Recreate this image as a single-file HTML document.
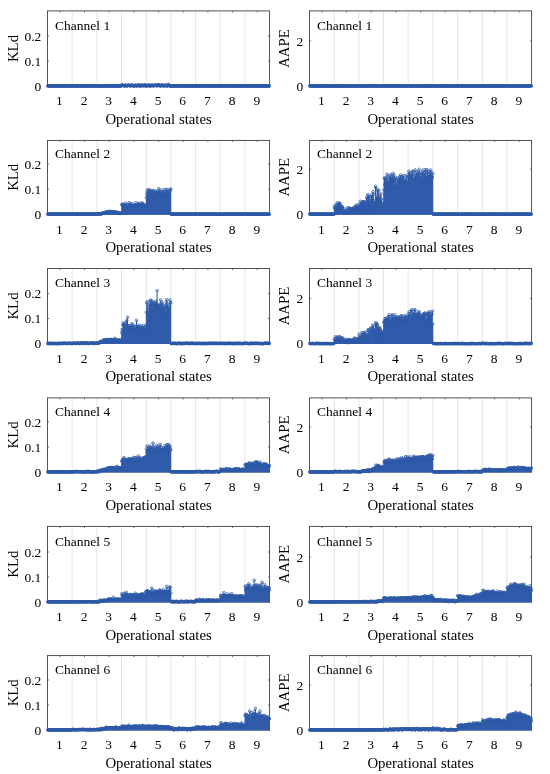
<!DOCTYPE html>
<html lang="en">
<head>
<meta charset="utf-8">
<title>KLd and AAPE per channel over operational states</title>
<style>
html,body{margin:0;padding:0;background:#fff;}
body{width:550px;height:774px;overflow:hidden;}
svg{display:block;}
text{font-family:"Liberation Serif","Times New Roman",serif;}
.t{font-size:13.5px;}
.l{font-size:14.8px;}
</style>
</head>
<body>
<svg width="550" height="774" viewBox="0 0 550 774">
<defs><marker id="m" markerWidth="4" markerHeight="4" refX="2" refY="2" markerUnits="userSpaceOnUse"><circle cx="2" cy="2" r="1.35" fill="none" stroke="#2F5BAA" stroke-width="0.75"/></marker></defs>
<rect width="550" height="774" fill="#fff"/>
<g><path d="M72.2 10.9V86M96.9 10.9V86M121.5 10.9V86M146.2 10.9V86M170.9 10.9V86M195.6 10.9V86M220.2 10.9V86M244.9 10.9V86" stroke="#e2e2e2" stroke-width="0.9" fill="none"/>
<rect x="47.5" y="10.9" width="222.1" height="75.1" fill="none" stroke="#404040" stroke-width="0.9"/>
<path d="M59.8 10.9v1.6M59.8 86v-1.6M84.5 10.9v1.6M84.5 86v-1.6M109.2 10.9v1.6M109.2 86v-1.6M133.9 10.9v1.6M133.9 86v-1.6M158.6 10.9v1.6M158.6 86v-1.6M183.2 10.9v1.6M183.2 86v-1.6M207.9 10.9v1.6M207.9 86v-1.6M232.6 10.9v1.6M232.6 86v-1.6M257.3 10.9v1.6M257.3 86v-1.6M47.5 61h1.6M269.6 61h-1.6M47.5 36h1.6M269.6 36h-1.6" stroke="#404040" stroke-width="0.7" fill="none"/>
<path d="M121.7 86.5V84.9M125.4 86.5V85M131.6 86.5V85M132 86.5V84.9M135.3 86.5V85M139 86.5V84.9M141.5 86.5V84.5M145.2 86.5V84.9M148.5 86.5V84.8M152.2 86.5V84.9M157.9 86.5V84.7M158.3 86.5V84.9M158.8 86.5V84.6M161.6 86.5V84.9M162 86.5V84.9M165.3 86.5V85M165.7 86.5V85M168.2 86.5V84.4" stroke="#2F5BAA" stroke-width="1.1" fill="none"/>
<path d="M47.7 85.9L48.1 86L48.5 86L48.9 86L49.4 86L49.8 86L50.2 86L50.6 86L51 86L51.4 86L51.8 86L52.2 85.9L52.6 86L53.1 86L53.5 85.9L53.9 85.9L54.3 85.9L54.7 86L55.1 85.9L55.5 86L55.9 85.9L56.3 86L56.8 86L57.2 86L57.6 86L58 85.9L58.4 86L58.8 85.9L59.2 85.9L59.6 86L60 86L60.5 86L60.9 86L61.3 86L61.7 85.9L62.1 86L62.5 86L62.9 85.9L63.3 86L63.7 86L64.2 85.9L64.6 85.9L65 86L65.4 85.9L65.8 86L66.2 85.9L66.6 85.9L67 86L67.4 85.9L67.9 86L68.3 86L68.7 85.9L69.1 86L69.5 86L69.9 86L70.3 85.9L70.7 85.9L71.1 85.9L71.6 85.9L72 86L72.4 85.9L72.8 85.9L73.2 85.9L73.6 86L74 85.9L74.4 85.9L74.9 86L75.3 85.9L75.7 86L76.1 85.9L76.5 85.9L76.9 85.9L77.3 85.9L77.7 86L78.1 86L78.6 85.9L79 86L79.4 86L79.8 86L80.2 86L80.6 86L81 85.9L81.4 86L81.8 86L82.3 86L82.7 85.9L83.1 86L83.5 86L83.9 86L84.3 85.9L84.7 85.9L85.1 85.9L85.5 86L86 86L86.4 86L86.8 85.9L87.2 85.9L87.6 86L88 86L88.4 86L88.8 86L89.2 86L89.7 85.9L90.1 86L90.5 86L90.9 86L91.3 86L91.7 85.9L92.1 85.9L92.5 85.9L92.9 86L93.4 85.9L93.8 85.9L94.2 86L94.6 85.9L95 85.9L95.4 85.9L95.8 85.9L96.2 86L96.6 86L97.1 86L97.5 85.9L97.9 86L98.3 86L98.7 86L99.1 86L99.5 86L99.9 86L100.4 86L100.8 86L101.2 86L101.6 86L102 86L102.4 85.9L102.8 85.9L103.2 86L103.6 86L104.1 86L104.5 86L104.9 86L105.3 85.9L105.7 85.9L106.1 85.9L106.5 85.9L106.9 86L107.3 86L107.8 86L108.2 86L108.6 85.9L109 86L109.4 86L109.8 85.9L110.2 85.9L110.6 86L111 85.9L111.5 86L111.9 85.9L112.3 85.9L112.7 85.9L113.1 85.9L113.5 86L113.9 86L114.3 86L114.7 85.9L115.2 85.9L115.6 85.9L116 86L116.4 86L116.8 85.9L117.2 85.9L117.6 85.9L118 85.9L118.4 85.9L118.9 85.9L119.3 86L119.7 85.9L120.1 86L120.5 86L120.9 86L121.3 86L121.7 84.9L122.2 85L122.6 85.1L123 85.4L123.4 85.5L123.8 85.7L124.2 85.8L124.6 85.8L125 85.8L125.4 85L125.9 85.1L126.3 85.6L126.7 85.7L127.1 85.7L127.5 85.9L127.9 85.4L128.3 85.1L128.7 85.3L129.1 85.3L129.6 85.5L130 85.9L130.4 85.7L130.8 85.8L131.2 85.3L131.6 85L132 84.9L132.4 85.4L132.8 85.9L133.3 85.9L133.7 85.9L134.1 85.5L134.5 85.5L134.9 85.9L135.3 85L135.7 85.3L136.1 85.6L136.5 85.9L137 86L137.4 85.2L137.8 85.5L138.2 85.6L138.6 85.1L139 84.9L139.4 85.8L139.8 85.9L140.2 85.9L140.7 85.8L141.1 85.4L141.5 84.5L141.9 85.7L142.3 85.6L142.7 85.4L143.1 85.3L143.5 85.8L143.9 85.6L144.4 85.6L144.8 85L145.2 84.9L145.6 85.8L146 86L146.4 85.4L146.8 85.9L147.2 85.7L147.7 85.6L148.1 85.5L148.5 84.8L148.9 85L149.3 85.9L149.7 85.7L150.1 85.9L150.5 85.8L150.9 85.4L151.4 85.6L151.8 85.5L152.2 84.9L152.6 85.1L153 85.7L153.4 85.8L153.8 85.6L154.2 85.6L154.6 85L155.1 85.5L155.5 85.2L155.9 85.4L156.3 85.2L156.7 85.4L157.1 85.9L157.5 85.7L157.9 84.7L158.3 84.9L158.8 84.6L159.2 85.5L159.6 85.4L160 85.9L160.4 85.5L160.8 85.6L161.2 85.9L161.6 84.9L162 84.9L162.5 85.6L162.9 85.7L163.3 85.5L163.7 85.4L164.1 85.9L164.5 85.6L164.9 85.5L165.3 85L165.7 85L166.2 86L166.6 85.8L167 85.8L167.4 86L167.8 85L168.2 84.4L168.6 85.3L169 85.2L169.4 85.9L169.9 85.8L170.3 86L170.7 85.6L171.1 86L171.5 86L171.9 85.9L172.3 85.9L172.7 85.9L173.2 86L173.6 86L174 85.9L174.4 85.9L174.8 85.9L175.2 86L175.6 86L176 85.9L176.4 85.9L176.9 86L177.3 85.9L177.7 85.9L178.1 85.9L178.5 86L178.9 85.9L179.3 86L179.7 85.9L180.1 85.9L180.6 86L181 85.9L181.4 85.9L181.8 86L182.2 86L182.6 85.9L183 86L183.4 86L183.8 86L184.3 86L184.7 86L185.1 86L185.5 86L185.9 85.9L186.3 86L186.7 85.9L187.1 86L187.5 86L188 86L188.4 86L188.8 86L189.2 85.9L189.6 85.9L190 86L190.4 85.9L190.8 85.9L191.2 86L191.7 85.9L192.1 85.9L192.5 85.9L192.9 85.9L193.3 86L193.7 85.9L194.1 85.9L194.5 85.9L194.9 86L195.4 85.9L195.8 85.9L196.2 85.9L196.6 86L197 86L197.4 86L197.8 86L198.2 86L198.7 85.9L199.1 86L199.5 86L199.9 86L200.3 85.9L200.7 85.9L201.1 85.9L201.5 86L201.9 86L202.4 86L202.8 86L203.2 86L203.6 86L204 86L204.4 85.9L204.8 85.9L205.2 86L205.6 86L206.1 85.9L206.5 86L206.9 86L207.3 86L207.7 86L208.1 86L208.5 86L208.9 86L209.3 86L209.8 86L210.2 86L210.6 86L211 86L211.4 86L211.8 86L212.2 86L212.6 86L213 85.9L213.5 86L213.9 85.9L214.3 85.9L214.7 85.9L215.1 85.9L215.5 86L215.9 86L216.3 85.9L216.7 86L217.2 85.9L217.6 85.9L218 86L218.4 85.9L218.8 85.9L219.2 85.9L219.6 85.9L220 85.9L220.5 86L220.9 86L221.3 86L221.7 85.9L222.1 85.9L222.5 85.9L222.9 85.9L223.3 85.9L223.7 85.9L224.2 85.9L224.6 86L225 86L225.4 86L225.8 86L226.2 86L226.6 85.9L227 85.9L227.4 85.9L227.9 85.9L228.3 85.9L228.7 86L229.1 86L229.5 85.9L229.9 85.9L230.3 86L230.7 86L231.1 85.9L231.6 86L232 85.9L232.4 86L232.8 86L233.2 86L233.6 85.9L234 86L234.4 85.9L234.8 85.9L235.3 86L235.7 86L236.1 86L236.5 85.9L236.9 85.9L237.3 85.9L237.7 85.9L238.1 86L238.5 86L239 86L239.4 85.9L239.8 86L240.2 85.9L240.6 86L241 86L241.4 86L241.8 85.9L242.2 85.9L242.7 85.9L243.1 86L243.5 86L243.9 86L244.3 86L244.7 86L245.1 85.9L245.5 86L246 85.9L246.4 85.9L246.8 86L247.2 86L247.6 85.9L248 85.9L248.4 86L248.8 86L249.2 86L249.7 85.9L250.1 86L250.5 85.9L250.9 86L251.3 86L251.7 85.9L252.1 86L252.5 85.9L252.9 86L253.4 85.9L253.8 85.9L254.2 86L254.6 85.9L255 86L255.4 86L255.8 86L256.2 86L256.6 86L257.1 86L257.5 86L257.9 86L258.3 86L258.7 85.9L259.1 86L259.5 85.9L259.9 85.9L260.3 86L260.8 85.9L261.2 85.9L261.6 85.9L262 86L262.4 86L262.8 86L263.2 85.9L263.6 85.9L264 86L264.5 86L264.9 86L265.3 86L265.7 86L266.1 85.9L266.5 86L266.9 85.9L267.3 86L267.7 86L268.2 86L268.6 86L269 86L269.4 85.9" fill="none" stroke="none" marker-start="url(#m)" marker-mid="url(#m)" marker-end="url(#m)"/></g>
<g><path d="M334.2 10.9V86M358.9 10.9V86M383.5 10.9V86M408.2 10.9V86M432.9 10.9V86M457.6 10.9V86M482.2 10.9V86M506.9 10.9V86" stroke="#e2e2e2" stroke-width="0.9" fill="none"/>
<rect x="309.5" y="10.9" width="222.1" height="75.1" fill="none" stroke="#404040" stroke-width="0.9"/>
<path d="M321.8 10.9v1.6M321.8 86v-1.6M346.5 10.9v1.6M346.5 86v-1.6M371.2 10.9v1.6M371.2 86v-1.6M395.9 10.9v1.6M395.9 86v-1.6M420.6 10.9v1.6M420.6 86v-1.6M445.2 10.9v1.6M445.2 86v-1.6M469.9 10.9v1.6M469.9 86v-1.6M494.6 10.9v1.6M494.6 86v-1.6M519.3 10.9v1.6M519.3 86v-1.6M309.5 41h1.6M531.6 41h-1.6" stroke="#404040" stroke-width="0.7" fill="none"/>
<path d="" stroke="#2F5BAA" stroke-width="1.1" fill="none"/>
<path d="M309.7 86L310.1 85.9L310.5 85.9L310.9 86L311.4 86L311.8 86L312.2 86L312.6 86L313 86L313.4 86L313.8 86L314.2 86L314.6 85.9L315.1 86L315.5 86L315.9 86L316.3 86L316.7 86L317.1 85.9L317.5 86L317.9 86L318.3 86L318.8 86L319.2 86L319.6 86L320 86L320.4 86L320.8 85.9L321.2 86L321.6 86L322 85.9L322.5 85.9L322.9 86L323.3 86L323.7 86L324.1 86L324.5 86L324.9 86L325.3 86L325.7 86L326.2 86L326.6 85.9L327 86L327.4 86L327.8 86L328.2 86L328.6 86L329 86L329.4 86L329.9 86L330.3 85.9L330.7 86L331.1 86L331.5 86L331.9 85.9L332.3 86L332.7 86L333.1 86L333.6 86L334 86L334.4 85.9L334.8 85.9L335.2 85.9L335.6 86L336 86L336.4 86L336.9 85.9L337.3 86L337.7 86L338.1 86L338.5 86L338.9 85.9L339.3 86L339.7 85.9L340.1 85.9L340.6 86L341 86L341.4 86L341.8 86L342.2 86L342.6 85.9L343 86L343.4 86L343.8 86L344.3 86L344.7 86L345.1 86L345.5 86L345.9 86L346.3 85.9L346.7 86L347.1 86L347.5 86L348 86L348.4 86L348.8 86L349.2 86L349.6 86L350 86L350.4 86L350.8 86L351.2 86L351.7 86L352.1 86L352.5 86L352.9 86L353.3 85.9L353.7 86L354.1 85.9L354.5 86L354.9 86L355.4 86L355.8 85.9L356.2 86L356.6 86L357 86L357.4 86L357.8 86L358.2 86L358.6 86L359.1 86L359.5 85.9L359.9 86L360.3 86L360.7 86L361.1 86L361.5 86L361.9 86L362.4 86L362.8 86L363.2 86L363.6 86L364 85.9L364.4 86L364.8 86L365.2 86L365.6 86L366.1 86L366.5 86L366.9 85.9L367.3 86L367.7 86L368.1 86L368.5 86L368.9 86L369.3 85.9L369.8 86L370.2 86L370.6 86L371 85.9L371.4 86L371.8 86L372.2 86L372.6 86L373 85.9L373.5 85.9L373.9 86L374.3 85.9L374.7 85.9L375.1 86L375.5 86L375.9 85.9L376.3 86L376.7 86L377.2 86L377.6 86L378 86L378.4 86L378.8 86L379.2 86L379.6 86L380 86L380.4 85.9L380.9 86L381.3 85.9L381.7 86L382.1 86L382.5 86L382.9 86L383.3 86L383.7 86L384.2 86L384.6 86L385 85.9L385.4 86L385.8 86L386.2 85.9L386.6 86L387 86L387.4 86L387.9 86L388.3 86L388.7 86L389.1 86L389.5 85.9L389.9 86L390.3 86L390.7 85.9L391.1 86L391.6 86L392 85.9L392.4 86L392.8 86L393.2 86L393.6 86L394 86L394.4 86L394.8 86L395.3 85.9L395.7 86L396.1 85.9L396.5 86L396.9 86L397.3 86L397.7 85.9L398.1 85.9L398.5 86L399 86L399.4 86L399.8 86L400.2 85.9L400.6 86L401 86L401.4 86L401.8 86L402.2 86L402.7 86L403.1 86L403.5 86L403.9 86L404.3 86L404.7 86L405.1 86L405.5 86L405.9 86L406.4 86L406.8 86L407.2 86L407.6 86L408 85.9L408.4 85.9L408.8 85.9L409.2 86L409.7 86L410.1 86L410.5 86L410.9 86L411.3 86L411.7 86L412.1 86L412.5 86L412.9 86L413.4 86L413.8 85.9L414.2 86L414.6 86L415 85.9L415.4 86L415.8 86L416.2 86L416.6 86L417.1 86L417.5 86L417.9 86L418.3 86L418.7 85.9L419.1 86L419.5 86L419.9 86L420.3 85.9L420.8 86L421.2 86L421.6 86L422 86L422.4 85.9L422.8 86L423.2 86L423.6 86L424 85.9L424.5 85.9L424.9 86L425.3 86L425.7 86L426.1 86L426.5 85.9L426.9 86L427.3 85.9L427.7 86L428.2 85.9L428.6 86L429 86L429.4 86L429.8 85.9L430.2 86L430.6 86L431 86L431.4 86L431.9 86L432.3 86L432.7 86L433.1 86L433.5 86L433.9 86L434.3 86L434.7 86L435.2 86L435.6 86L436 86L436.4 86L436.8 86L437.2 86L437.6 86L438 86L438.4 86L438.9 86L439.3 86L439.7 86L440.1 86L440.5 86L440.9 86L441.3 86L441.7 86L442.1 86L442.6 85.9L443 86L443.4 86L443.8 86L444.2 86L444.6 85.9L445 85.9L445.4 86L445.8 86L446.3 86L446.7 86L447.1 86L447.5 85.9L447.9 86L448.3 86L448.7 86L449.1 85.9L449.5 86L450 86L450.4 86L450.8 86L451.2 86L451.6 85.9L452 86L452.4 86L452.8 86L453.2 86L453.7 86L454.1 86L454.5 86L454.9 85.9L455.3 86L455.7 86L456.1 86L456.5 85.9L456.9 86L457.4 86L457.8 85.9L458.2 85.9L458.6 86L459 86L459.4 85.9L459.8 86L460.2 85.9L460.7 86L461.1 86L461.5 86L461.9 86L462.3 86L462.7 86L463.1 85.9L463.5 86L463.9 86L464.4 86L464.8 86L465.2 86L465.6 86L466 86L466.4 86L466.8 86L467.2 85.9L467.6 86L468.1 86L468.5 86L468.9 86L469.3 85.9L469.7 86L470.1 86L470.5 86L470.9 86L471.3 86L471.8 86L472.2 86L472.6 86L473 86L473.4 86L473.8 86L474.2 86L474.6 86L475 86L475.5 86L475.9 86L476.3 86L476.7 86L477.1 86L477.5 86L477.9 86L478.3 86L478.7 86L479.2 86L479.6 86L480 86L480.4 86L480.8 86L481.2 86L481.6 86L482 86L482.5 86L482.9 86L483.3 86L483.7 86L484.1 85.9L484.5 86L484.9 85.9L485.3 85.9L485.7 86L486.2 86L486.6 86L487 85.9L487.4 86L487.8 85.9L488.2 85.9L488.6 86L489 86L489.4 85.9L489.9 86L490.3 86L490.7 86L491.1 86L491.5 85.9L491.9 86L492.3 86L492.7 86L493.1 86L493.6 85.9L494 86L494.4 86L494.8 86L495.2 86L495.6 86L496 86L496.4 86L496.8 85.9L497.3 86L497.7 85.9L498.1 86L498.5 86L498.9 86L499.3 86L499.7 86L500.1 86L500.5 85.9L501 86L501.4 86L501.8 85.9L502.2 86L502.6 85.9L503 86L503.4 86L503.8 86L504.2 86L504.7 85.9L505.1 86L505.5 86L505.9 86L506.3 86L506.7 86L507.1 86L507.5 86L508 86L508.4 86L508.8 86L509.2 85.9L509.6 86L510 86L510.4 86L510.8 86L511.2 86L511.7 86L512.1 86L512.5 86L512.9 86L513.3 85.9L513.7 86L514.1 86L514.5 86L514.9 86L515.4 86L515.8 86L516.2 86L516.6 86L517 86L517.4 86L517.8 86L518.2 86L518.6 86L519.1 86L519.5 86L519.9 85.9L520.3 86L520.7 86L521.1 86L521.5 86L521.9 85.9L522.3 86L522.8 86L523.2 86L523.6 86L524 86L524.4 86L524.8 86L525.2 86L525.6 86L526 85.9L526.5 86L526.9 86L527.3 85.9L527.7 86L528.1 86L528.5 86L528.9 86L529.3 86L529.7 86L530.2 86L530.6 86L531 85.9L531.4 86" fill="none" stroke="none" marker-start="url(#m)" marker-mid="url(#m)" marker-end="url(#m)"/></g>
<g><path d="M72.2 140.4V214.2M96.9 140.4V214.2M121.5 140.4V214.2M146.2 140.4V214.2M170.9 140.4V214.2M195.6 140.4V214.2M220.2 140.4V214.2M244.9 140.4V214.2" stroke="#e2e2e2" stroke-width="0.9" fill="none"/>
<rect x="47.5" y="140.4" width="222.1" height="73.8" fill="none" stroke="#404040" stroke-width="0.9"/>
<path d="M59.8 140.4v1.6M59.8 214.2v-1.6M84.5 140.4v1.6M84.5 214.2v-1.6M109.2 140.4v1.6M109.2 214.2v-1.6M133.9 140.4v1.6M133.9 214.2v-1.6M158.6 140.4v1.6M158.6 214.2v-1.6M183.2 140.4v1.6M183.2 214.2v-1.6M207.9 140.4v1.6M207.9 214.2v-1.6M232.6 140.4v1.6M232.6 214.2v-1.6M257.3 140.4v1.6M257.3 214.2v-1.6M47.5 189.2h1.6M269.6 189.2h-1.6M47.5 164.2h1.6M269.6 164.2h-1.6" stroke="#404040" stroke-width="0.7" fill="none"/>
<path d="M102.4 214.7V213M102.8 214.7V213.1M103.2 214.7V213.1M103.6 214.7V212.6M104.1 214.7V213.2M104.5 214.7V213.1M104.9 214.7V213.1M105.3 214.7V212.8M105.7 214.7V212.2M106.1 214.7V211.8M106.5 214.7V212.2M106.9 214.7V213M107.3 214.7V212.5M107.8 214.7V212.2M108.2 214.7V211.9M108.6 214.7V212.4M109 214.7V211.7M109.4 214.7V211.5M109.8 214.7V211.3M110.2 214.7V212M110.6 214.7V212.4M111 214.7V212.3M111.5 214.7V211.9M111.9 214.7V212M112.3 214.7V211.5M112.7 214.7V212.1M113.1 214.7V212.1M113.5 214.7V212M113.9 214.7V211.8M114.3 214.7V212.4M114.7 214.7V213M115.2 214.7V212.2M115.6 214.7V211.7M116 214.7V212.6M116.4 214.7V212.8M116.8 214.7V212.7M117.2 214.7V213M117.6 214.7V212.4M118.4 214.7V213.1M118.9 214.7V212.9M119.3 214.7V212.6M119.7 214.7V212.7M121.7 214.7V204.6M122.2 214.7V204.6M122.6 214.7V204.2M123 214.7V205.7M123.4 214.7V206M123.8 214.7V205.2M124.2 214.7V205.6M124.6 214.7V204.7M125 214.7V205.2M125.4 214.7V203.2M125.9 214.7V205.4M126.3 214.7V206.2M126.7 214.7V205.5M127.1 214.7V205.3M127.5 214.7V206.7M127.9 214.7V204.9M128.3 214.7V207.2M128.7 214.7V205.6M129.1 214.7V202.5M129.6 214.7V205.7M130 214.7V205.4M130.4 214.7V203.8M130.8 214.7V206.3M131.2 214.7V205.5M131.6 214.7V204.8M132 214.7V206.4M132.4 214.7V203.9M132.8 214.7V206.4M133.3 214.7V206M133.7 214.7V206.5M134.1 214.7V206.3M134.5 214.7V204.5M134.9 214.7V205.4M135.3 214.7V205.8M135.7 214.7V205.1M136.1 214.7V202.7M136.5 214.7V205.7M137 214.7V206.7M137.4 214.7V204.9M137.8 214.7V203.9M138.2 214.7V204.1M138.6 214.7V204.8M139 214.7V205.9M139.4 214.7V205M139.8 214.7V203.1M140.2 214.7V205.4M140.7 214.7V204.7M141.1 214.7V205.5M141.5 214.7V204.5M141.9 214.7V203.6M142.3 214.7V202.9M142.7 214.7V204.6M143.1 214.7V204.8M143.5 214.7V205.1M143.9 214.7V205.8M144.4 214.7V207M144.8 214.7V205.9M145.2 214.7V206.9M145.6 214.7V204.3M146 214.7V205.8M146.4 214.7V197.3M146.8 214.7V194.1M147.2 214.7V191.6M147.7 214.7V189.6M148.1 214.7V192.8M148.5 214.7V193.6M148.9 214.7V190.5M149.3 214.7V190.2M149.7 214.7V194.9M150.1 214.7V192.7M150.5 214.7V190.4M150.9 214.7V195.7M151.4 214.7V195.2M151.8 214.7V190.6M152.2 214.7V194.9M152.6 214.7V199.2M153 214.7V191.2M153.4 214.7V191M153.8 214.7V194.6M154.2 214.7V197.2M154.6 214.7V197M155.1 214.7V191M155.5 214.7V193.5M155.9 214.7V192M156.3 214.7V192.5M156.7 214.7V194.2M157.1 214.7V200.3M157.5 214.7V191.1M157.9 214.7V192.3M158.3 214.7V193.3M158.8 214.7V188.5M159.2 214.7V194.3M159.6 214.7V191.2M160 214.7V190.4M160.4 214.7V195.7M160.8 214.7V193.2M161.2 214.7V194.4M161.6 214.7V192.8M162 214.7V191.9M162.5 214.7V194.7M162.9 214.7V191.9M163.3 214.7V189.7M163.7 214.7V197.1M164.1 214.7V192.9M164.5 214.7V195.1M164.9 214.7V194.7M165.3 214.7V189.8M165.7 214.7V193.3M166.2 214.7V195.2M166.6 214.7V189.4M167 214.7V192.4M167.4 214.7V191.6M167.8 214.7V190.2M168.2 214.7V192.3M168.6 214.7V199.1M169 214.7V193.5M169.4 214.7V194.6M169.9 214.7V190.7M170.3 214.7V189.4M170.7 214.7V189.1" stroke="#2F5BAA" stroke-width="1.1" fill="none"/>
<path d="M47.7 214.1L48.1 214.1L48.5 214.1L48.9 214.2L49.4 214.2L49.8 214.2L50.2 214.2L50.6 214.1L51 214.1L51.4 214.1L51.8 214.2L52.2 214.1L52.6 214.1L53.1 214.1L53.5 214.1L53.9 214.1L54.3 214.2L54.7 214.2L55.1 214.2L55.5 214.2L55.9 214.2L56.3 214.1L56.8 214.1L57.2 214.1L57.6 214.1L58 214.2L58.4 214.1L58.8 214.1L59.2 214.1L59.6 214.1L60 214.2L60.5 214.1L60.9 214.1L61.3 214.2L61.7 214.1L62.1 214.2L62.5 214.2L62.9 214.2L63.3 214.1L63.7 214.1L64.2 214.1L64.6 214.2L65 214.1L65.4 214.2L65.8 214.2L66.2 214.1L66.6 214.1L67 214.1L67.4 214.1L67.9 214.1L68.3 214.1L68.7 214.1L69.1 214.1L69.5 214.1L69.9 214.1L70.3 214.1L70.7 214.1L71.1 214.2L71.6 214.2L72 214.1L72.4 214.2L72.8 214L73.2 214.2L73.6 214.2L74 214.2L74.4 214L74.9 214.1L75.3 214.2L75.7 214.2L76.1 214.2L76.5 214L76.9 214L77.3 214L77.7 214L78.1 214.2L78.6 214.1L79 214.1L79.4 214L79.8 214L80.2 214L80.6 214.2L81 214L81.4 214L81.8 214L82.3 214.2L82.7 214.2L83.1 214.2L83.5 214.2L83.9 214L84.3 214L84.7 214L85.1 214L85.5 214L86 214.1L86.4 214.2L86.8 214.2L87.2 214L87.6 214.2L88 214.1L88.4 214.1L88.8 214.2L89.2 214.1L89.7 214.1L90.1 214L90.5 214.1L90.9 214.1L91.3 214L91.7 214.1L92.1 214L92.5 214.1L92.9 214.2L93.4 214.1L93.8 214.1L94.2 214L94.6 214.1L95 214L95.4 214.1L95.8 214.1L96.2 214L96.6 214.2L97.1 213.8L97.5 214.1L97.9 214.2L98.3 214.1L98.7 213.8L99.1 213.6L99.5 214.2L99.9 213.9L100.4 213.9L100.8 213.6L101.2 214.1L101.6 213.8L102 213.2L102.4 213L102.8 213.1L103.2 213.1L103.6 212.6L104.1 213.2L104.5 213.1L104.9 213.1L105.3 212.8L105.7 212.2L106.1 211.8L106.5 212.2L106.9 213L107.3 212.5L107.8 212.2L108.2 211.9L108.6 212.4L109 211.7L109.4 211.5L109.8 211.3L110.2 212L110.6 212.4L111 212.3L111.5 211.9L111.9 212L112.3 211.5L112.7 212.1L113.1 212.1L113.5 212L113.9 211.8L114.3 212.4L114.7 213L115.2 212.2L115.6 211.7L116 212.6L116.4 212.8L116.8 212.7L117.2 213L117.6 212.4L118 213.2L118.4 213.1L118.9 212.9L119.3 212.6L119.7 212.7L120.1 213.5L120.5 213.4L120.9 213.3L121.3 213.3L121.7 204.6L122.2 204.6L122.6 204.2L123 205.7L123.4 206L123.8 205.2L124.2 205.6L124.6 204.7L125 205.2L125.4 203.2L125.9 205.4L126.3 206.2L126.7 205.5L127.1 205.3L127.5 206.7L127.9 204.9L128.3 207.2L128.7 205.6L129.1 202.5L129.6 205.7L130 205.4L130.4 203.8L130.8 206.3L131.2 205.5L131.6 204.8L132 206.4L132.4 203.9L132.8 206.4L133.3 206L133.7 206.5L134.1 206.3L134.5 204.5L134.9 205.4L135.3 205.8L135.7 205.1L136.1 202.7L136.5 205.7L137 206.7L137.4 204.9L137.8 203.9L138.2 204.1L138.6 204.8L139 205.9L139.4 205L139.8 203.1L140.2 205.4L140.7 204.7L141.1 205.5L141.5 204.5L141.9 203.6L142.3 202.9L142.7 204.6L143.1 204.8L143.5 205.1L143.9 205.8L144.4 207L144.8 205.9L145.2 206.9L145.6 204.3L146 205.8L146.4 197.3L146.8 194.1L147.2 191.6L147.7 189.6L148.1 192.8L148.5 193.6L148.9 190.5L149.3 190.2L149.7 194.9L150.1 192.7L150.5 190.4L150.9 195.7L151.4 195.2L151.8 190.6L152.2 194.9L152.6 199.2L153 191.2L153.4 191L153.8 194.6L154.2 197.2L154.6 197L155.1 191L155.5 193.5L155.9 192L156.3 192.5L156.7 194.2L157.1 200.3L157.5 191.1L157.9 192.3L158.3 193.3L158.8 188.5L159.2 194.3L159.6 191.2L160 190.4L160.4 195.7L160.8 193.2L161.2 194.4L161.6 192.8L162 191.9L162.5 194.7L162.9 191.9L163.3 189.7L163.7 197.1L164.1 192.9L164.5 195.1L164.9 194.7L165.3 189.8L165.7 193.3L166.2 195.2L166.6 189.4L167 192.4L167.4 191.6L167.8 190.2L168.2 192.3L168.6 199.1L169 193.5L169.4 194.6L169.9 190.7L170.3 189.4L170.7 189.1L171.1 214.2L171.5 214.2L171.9 214.1L172.3 214.2L172.7 214.1L173.2 214.2L173.6 214.2L174 214.1L174.4 214.1L174.8 214.1L175.2 214.1L175.6 214.2L176 214.1L176.4 214.1L176.9 214.2L177.3 214.1L177.7 214.2L178.1 214.1L178.5 214.1L178.9 214.2L179.3 214.2L179.7 214.1L180.1 214.1L180.6 214.2L181 214.2L181.4 214.1L181.8 214.2L182.2 214.1L182.6 214.2L183 214.2L183.4 214.2L183.8 214.1L184.3 214.2L184.7 214.1L185.1 214.2L185.5 214.1L185.9 214.2L186.3 214.1L186.7 214.1L187.1 214.2L187.5 214.2L188 214.1L188.4 214.1L188.8 214.1L189.2 214.1L189.6 214.2L190 214.2L190.4 214.1L190.8 214.1L191.2 214.1L191.7 214.2L192.1 214.1L192.5 214.1L192.9 214.1L193.3 214.1L193.7 214.2L194.1 214.2L194.5 214.1L194.9 214.2L195.4 214.1L195.8 214.1L196.2 214.1L196.6 214.1L197 214.2L197.4 214.2L197.8 214.2L198.2 214.2L198.7 214.1L199.1 214.1L199.5 214.1L199.9 214.2L200.3 214.1L200.7 214.1L201.1 214.1L201.5 214.1L201.9 214.2L202.4 214.1L202.8 214.1L203.2 214.1L203.6 214.1L204 214.2L204.4 214.2L204.8 214.2L205.2 214.1L205.6 214.2L206.1 214.1L206.5 214.1L206.9 214.2L207.3 214.1L207.7 214.1L208.1 214.2L208.5 214.2L208.9 214.2L209.3 214.1L209.8 214.1L210.2 214.2L210.6 214.2L211 214.1L211.4 214.1L211.8 214.2L212.2 214.1L212.6 214.1L213 214.1L213.5 214.2L213.9 214.2L214.3 214.1L214.7 214.2L215.1 214.2L215.5 214.2L215.9 214.1L216.3 214.2L216.7 214.1L217.2 214.2L217.6 214.2L218 214.2L218.4 214.2L218.8 214.1L219.2 214.2L219.6 214.2L220 214.1L220.5 214.1L220.9 214.2L221.3 214.1L221.7 214.2L222.1 214.2L222.5 214.2L222.9 214.2L223.3 214.1L223.7 214.1L224.2 214.2L224.6 214.1L225 214.2L225.4 214.1L225.8 214.2L226.2 214.1L226.6 214.1L227 214.1L227.4 214.1L227.9 214.2L228.3 214.2L228.7 214.2L229.1 214.2L229.5 214.2L229.9 214.2L230.3 214.1L230.7 214.1L231.1 214.2L231.6 214.1L232 214.1L232.4 214.2L232.8 214.1L233.2 214.2L233.6 214.2L234 214.1L234.4 214.2L234.8 214.1L235.3 214.1L235.7 214.1L236.1 214.1L236.5 214.2L236.9 214.2L237.3 214.2L237.7 214.1L238.1 214.1L238.5 214.2L239 214.2L239.4 214.2L239.8 214.2L240.2 214.1L240.6 214.1L241 214.1L241.4 214.2L241.8 214.1L242.2 214.1L242.7 214.1L243.1 214.1L243.5 214.2L243.9 214.2L244.3 214.1L244.7 214.1L245.1 214.1L245.5 214.2L246 214.1L246.4 214.1L246.8 214.2L247.2 214.2L247.6 214.2L248 214.2L248.4 214.2L248.8 214.2L249.2 214.2L249.7 214.2L250.1 214.1L250.5 214.2L250.9 214.1L251.3 214.2L251.7 214.2L252.1 214.1L252.5 214.2L252.9 214.1L253.4 214.1L253.8 214.1L254.2 214.2L254.6 214.2L255 214.2L255.4 214.1L255.8 214.1L256.2 214.1L256.6 214.2L257.1 214.2L257.5 214.1L257.9 214.2L258.3 214.1L258.7 214.2L259.1 214.2L259.5 214.2L259.9 214.1L260.3 214.2L260.8 214.2L261.2 214.1L261.6 214.2L262 214.2L262.4 214.2L262.8 214.2L263.2 214.1L263.6 214.2L264 214.2L264.5 214.2L264.9 214.2L265.3 214.1L265.7 214.2L266.1 214.1L266.5 214.2L266.9 214.1L267.3 214.1L267.7 214.2L268.2 214.2L268.6 214.2L269 214.2L269.4 214.2" fill="none" stroke="none" marker-start="url(#m)" marker-mid="url(#m)" marker-end="url(#m)"/></g>
<g><path d="M334.2 140.4V214.2M358.9 140.4V214.2M383.5 140.4V214.2M408.2 140.4V214.2M432.9 140.4V214.2M457.6 140.4V214.2M482.2 140.4V214.2M506.9 140.4V214.2" stroke="#e2e2e2" stroke-width="0.9" fill="none"/>
<rect x="309.5" y="140.4" width="222.1" height="73.8" fill="none" stroke="#404040" stroke-width="0.9"/>
<path d="M321.8 140.4v1.6M321.8 214.2v-1.6M346.5 140.4v1.6M346.5 214.2v-1.6M371.2 140.4v1.6M371.2 214.2v-1.6M395.9 140.4v1.6M395.9 214.2v-1.6M420.6 140.4v1.6M420.6 214.2v-1.6M445.2 140.4v1.6M445.2 214.2v-1.6M469.9 140.4v1.6M469.9 214.2v-1.6M494.6 140.4v1.6M494.6 214.2v-1.6M519.3 140.4v1.6M519.3 214.2v-1.6M309.5 169.2h1.6M531.6 169.2h-1.6" stroke="#404040" stroke-width="0.7" fill="none"/>
<path d="M334.4 214.7V206.3M334.8 214.7V208.2M335.2 214.7V208.3M335.6 214.7V208M336 214.7V204.9M336.4 214.7V205.9M336.9 214.7V209.3M337.3 214.7V202.9M337.7 214.7V211.3M338.1 214.7V204.9M338.5 214.7V206.8M338.9 214.7V203.6M339.3 214.7V203M339.7 214.7V206.8M340.1 214.7V203.6M340.6 214.7V205.9M341 214.7V207.3M341.4 214.7V206.4M341.8 214.7V207M342.2 214.7V206.7M342.6 214.7V208.4M343 214.7V208.4M343.4 214.7V210.3M343.8 214.7V212.5M344.3 214.7V212.8M344.7 214.7V211.3M345.1 214.7V212.9M345.5 214.7V211M345.9 214.7V210.8M346.3 214.7V211.4M346.7 214.7V212.6M347.1 214.7V208.1M347.5 214.7V212.9M348 214.7V210.7M348.4 214.7V210.7M348.8 214.7V208.4M349.2 214.7V207.8M349.6 214.7V208.5M350 214.7V211.8M350.4 214.7V209.5M350.8 214.7V208.5M351.2 214.7V208.7M351.7 214.7V209.5M352.1 214.7V210.2M352.5 214.7V209.1M352.9 214.7V208.6M353.3 214.7V209.4M353.7 214.7V207.6M354.1 214.7V209.9M354.5 214.7V209.6M354.9 214.7V206.9M355.4 214.7V206.2M355.8 214.7V208.2M356.2 214.7V207.7M356.6 214.7V204.7M357 214.7V206.5M357.4 214.7V209.2M357.8 214.7V208.4M358.2 214.7V205.8M358.6 214.7V209.1M359.1 214.7V207.6M359.5 214.7V204.4M359.9 214.7V207.2M360.3 214.7V201.3M360.7 214.7V204.4M361.1 214.7V205.1M361.5 214.7V205.4M361.9 214.7V211M362.4 214.7V201.8M362.8 214.7V202.1M363.2 214.7V205.2M363.6 214.7V201.6M364 214.7V202.2M364.4 214.7V201.7M364.8 214.7V202.4M365.2 214.7V203.6M365.6 214.7V207.4M366.1 214.7V205.9M366.5 214.7V197.2M366.9 214.7V208.1M367.3 214.7V198.7M367.7 214.7V194.5M368.1 214.7V208.3M368.5 214.7V196.1M368.9 214.7V204.9M369.3 214.7V196.5M369.8 214.7V200.9M370.2 214.7V201M370.6 214.7V206.1M371 214.7V196.6M371.4 214.7V200.5M371.8 214.7V194.8M372.2 214.7V197.7M372.6 214.7V199.9M373 214.7V191.7M373.5 214.7V194.2M373.9 214.7V207.8M374.3 214.7V201.1M374.7 214.7V202.7M375.1 214.7V207.9M375.5 214.7V186.3M375.9 214.7V187.8M376.3 214.7V203.5M376.7 214.7V196.4M377.2 214.7V200.5M377.6 214.7V190.1M378 214.7V198.3M378.4 214.7V200.9M378.8 214.7V190.3M379.2 214.7V201M379.6 214.7V202.2M380 214.7V196.2M380.4 214.7V201.9M380.9 214.7V193.8M381.3 214.7V199M381.7 214.7V202.3M382.1 214.7V203.7M382.5 214.7V209.3M382.9 214.7V207.1M383.3 214.7V204.9M383.7 214.7V189.5M384.2 214.7V177.8M384.6 214.7V185.1M385 214.7V178.7M385.4 214.7V183M385.8 214.7V183.3M386.2 214.7V178.4M386.6 214.7V177.8M387 214.7V174.3M387.4 214.7V185.1M387.9 214.7V184.8M388.3 214.7V181.8M388.7 214.7V180.9M389.1 214.7V177.6M389.5 214.7V183.7M389.9 214.7V175.4M390.3 214.7V175.2M390.7 214.7V179M391.1 214.7V180.4M391.6 214.7V177M392 214.7V178.1M392.4 214.7V181.4M392.8 214.7V173.4M393.2 214.7V180M393.6 214.7V180.3M394 214.7V174.8M394.4 214.7V189.2M394.8 214.7V184.1M395.3 214.7V177.5M395.7 214.7V178.9M396.1 214.7V181M396.5 214.7V187M396.9 214.7V187.8M397.3 214.7V185.7M397.7 214.7V177.9M398.1 214.7V182.8M398.5 214.7V181M399 214.7V187.6M399.4 214.7V177M399.8 214.7V179.8M400.2 214.7V180.7M400.6 214.7V175M401 214.7V176.8M401.4 214.7V181.7M401.8 214.7V179.8M402.2 214.7V179.9M402.7 214.7V176.5M403.1 214.7V178.2M403.5 214.7V175.6M403.9 214.7V184M404.3 214.7V181.3M404.7 214.7V182.1M405.1 214.7V180.7M405.5 214.7V181.5M405.9 214.7V179.9M406.4 214.7V177.1M406.8 214.7V175M407.2 214.7V183.4M407.6 214.7V183.3M408 214.7V181.7M408.4 214.7V176.4M408.8 214.7V171.4M409.2 214.7V177.1M409.7 214.7V172.8M410.1 214.7V176.2M410.5 214.7V179.5M410.9 214.7V176.7M411.3 214.7V175.2M411.7 214.7V174.1M412.1 214.7V175M412.5 214.7V171.1M412.9 214.7V172.2M413.4 214.7V178.8M413.8 214.7V179.1M414.2 214.7V182M414.6 214.7V179.3M415 214.7V170M415.4 214.7V175.9M415.8 214.7V175.6M416.2 214.7V177.3M416.6 214.7V172.4M417.1 214.7V184.4M417.5 214.7V173.6M417.9 214.7V175.8M418.3 214.7V171.7M418.7 214.7V174.5M419.1 214.7V169.4M419.5 214.7V177.2M419.9 214.7V177.1M420.3 214.7V183.5M420.8 214.7V173M421.2 214.7V179.2M421.6 214.7V184.5M422 214.7V172.9M422.4 214.7V184.2M422.8 214.7V170.2M423.2 214.7V180M423.6 214.7V179.3M424 214.7V173.1M424.5 214.7V175.8M424.9 214.7V172.7M425.3 214.7V169.5M425.7 214.7V185M426.1 214.7V178.7M426.5 214.7V176M426.9 214.7V169.5M427.3 214.7V179.1M427.7 214.7V171.2M428.2 214.7V182.4M428.6 214.7V174.8M429 214.7V187.6M429.4 214.7V176.4M429.8 214.7V172M430.2 214.7V174.3M430.6 214.7V170M431 214.7V177.6M431.4 214.7V173.4M431.9 214.7V177.4M432.3 214.7V177.2M432.7 214.7V173.3" stroke="#2F5BAA" stroke-width="1.1" fill="none"/>
<path d="M309.7 214.1L310.1 214.1L310.5 214.2L310.9 214.2L311.4 214.1L311.8 214.2L312.2 214.2L312.6 214.2L313 214.1L313.4 214.2L313.8 214.2L314.2 214.2L314.6 214.2L315.1 214.2L315.5 214.2L315.9 214.2L316.3 214.2L316.7 214.2L317.1 214.1L317.5 214.2L317.9 214.2L318.3 214.2L318.8 214.2L319.2 214.2L319.6 214.2L320 214.2L320.4 214.2L320.8 214.2L321.2 214.2L321.6 214.2L322 214.2L322.5 214.2L322.9 214.2L323.3 214.2L323.7 214.2L324.1 214.2L324.5 214.2L324.9 214.2L325.3 214.2L325.7 214.2L326.2 214.2L326.6 214.2L327 214.2L327.4 214.2L327.8 214.1L328.2 214.1L328.6 214.2L329 214.2L329.4 214.1L329.9 214.2L330.3 214.1L330.7 214.2L331.1 214.2L331.5 214.2L331.9 214.2L332.3 214.2L332.7 214.2L333.1 214.2L333.6 214.2L334 214.2L334.4 206.3L334.8 208.2L335.2 208.3L335.6 208L336 204.9L336.4 205.9L336.9 209.3L337.3 202.9L337.7 211.3L338.1 204.9L338.5 206.8L338.9 203.6L339.3 203L339.7 206.8L340.1 203.6L340.6 205.9L341 207.3L341.4 206.4L341.8 207L342.2 206.7L342.6 208.4L343 208.4L343.4 210.3L343.8 212.5L344.3 212.8L344.7 211.3L345.1 212.9L345.5 211L345.9 210.8L346.3 211.4L346.7 212.6L347.1 208.1L347.5 212.9L348 210.7L348.4 210.7L348.8 208.4L349.2 207.8L349.6 208.5L350 211.8L350.4 209.5L350.8 208.5L351.2 208.7L351.7 209.5L352.1 210.2L352.5 209.1L352.9 208.6L353.3 209.4L353.7 207.6L354.1 209.9L354.5 209.6L354.9 206.9L355.4 206.2L355.8 208.2L356.2 207.7L356.6 204.7L357 206.5L357.4 209.2L357.8 208.4L358.2 205.8L358.6 209.1L359.1 207.6L359.5 204.4L359.9 207.2L360.3 201.3L360.7 204.4L361.1 205.1L361.5 205.4L361.9 211L362.4 201.8L362.8 202.1L363.2 205.2L363.6 201.6L364 202.2L364.4 201.7L364.8 202.4L365.2 203.6L365.6 207.4L366.1 205.9L366.5 197.2L366.9 208.1L367.3 198.7L367.7 194.5L368.1 208.3L368.5 196.1L368.9 204.9L369.3 196.5L369.8 200.9L370.2 201L370.6 206.1L371 196.6L371.4 200.5L371.8 194.8L372.2 197.7L372.6 199.9L373 191.7L373.5 194.2L373.9 207.8L374.3 201.1L374.7 202.7L375.1 207.9L375.5 186.3L375.9 187.8L376.3 203.5L376.7 196.4L377.2 200.5L377.6 190.1L378 198.3L378.4 200.9L378.8 190.3L379.2 201L379.6 202.2L380 196.2L380.4 201.9L380.9 193.8L381.3 199L381.7 202.3L382.1 203.7L382.5 209.3L382.9 207.1L383.3 204.9L383.7 189.5L384.2 177.8L384.6 185.1L385 178.7L385.4 183L385.8 183.3L386.2 178.4L386.6 177.8L387 174.3L387.4 185.1L387.9 184.8L388.3 181.8L388.7 180.9L389.1 177.6L389.5 183.7L389.9 175.4L390.3 175.2L390.7 179L391.1 180.4L391.6 177L392 178.1L392.4 181.4L392.8 173.4L393.2 180L393.6 180.3L394 174.8L394.4 189.2L394.8 184.1L395.3 177.5L395.7 178.9L396.1 181L396.5 187L396.9 187.8L397.3 185.7L397.7 177.9L398.1 182.8L398.5 181L399 187.6L399.4 177L399.8 179.8L400.2 180.7L400.6 175L401 176.8L401.4 181.7L401.8 179.8L402.2 179.9L402.7 176.5L403.1 178.2L403.5 175.6L403.9 184L404.3 181.3L404.7 182.1L405.1 180.7L405.5 181.5L405.9 179.9L406.4 177.1L406.8 175L407.2 183.4L407.6 183.3L408 181.7L408.4 176.4L408.8 171.4L409.2 177.1L409.7 172.8L410.1 176.2L410.5 179.5L410.9 176.7L411.3 175.2L411.7 174.1L412.1 175L412.5 171.1L412.9 172.2L413.4 178.8L413.8 179.1L414.2 182L414.6 179.3L415 170L415.4 175.9L415.8 175.6L416.2 177.3L416.6 172.4L417.1 184.4L417.5 173.6L417.9 175.8L418.3 171.7L418.7 174.5L419.1 169.4L419.5 177.2L419.9 177.1L420.3 183.5L420.8 173L421.2 179.2L421.6 184.5L422 172.9L422.4 184.2L422.8 170.2L423.2 180L423.6 179.3L424 173.1L424.5 175.8L424.9 172.7L425.3 169.5L425.7 185L426.1 178.7L426.5 176L426.9 169.5L427.3 179.1L427.7 171.2L428.2 182.4L428.6 174.8L429 187.6L429.4 176.4L429.8 172L430.2 174.3L430.6 170L431 177.6L431.4 173.4L431.9 177.4L432.3 177.2L432.7 173.3L433.1 214.2L433.5 214.2L433.9 214.2L434.3 214.2L434.7 214.2L435.2 214.2L435.6 214.2L436 214.2L436.4 214.2L436.8 214.2L437.2 214.2L437.6 214.2L438 214.2L438.4 214.2L438.9 214.2L439.3 214.2L439.7 214.2L440.1 214.2L440.5 214.2L440.9 214.2L441.3 214.2L441.7 214.2L442.1 214.2L442.6 214.2L443 214.2L443.4 214.2L443.8 214.2L444.2 214.2L444.6 214.1L445 214.2L445.4 214.2L445.8 214.2L446.3 214.1L446.7 214.2L447.1 214.2L447.5 214.2L447.9 214.2L448.3 214.2L448.7 214.2L449.1 214.2L449.5 214.1L450 214.2L450.4 214.2L450.8 214.1L451.2 214.2L451.6 214.2L452 214.2L452.4 214.2L452.8 214.2L453.2 214.2L453.7 214.1L454.1 214.2L454.5 214.2L454.9 214.2L455.3 214.1L455.7 214.1L456.1 214.2L456.5 214.2L456.9 214.2L457.4 214.2L457.8 214.2L458.2 214.2L458.6 214.2L459 214.2L459.4 214.2L459.8 214.2L460.2 214.2L460.7 214.2L461.1 214.2L461.5 214.2L461.9 214.2L462.3 214.2L462.7 214.2L463.1 214.2L463.5 214.1L463.9 214.1L464.4 214.2L464.8 214.2L465.2 214.2L465.6 214.2L466 214.2L466.4 214.2L466.8 214.2L467.2 214.2L467.6 214.2L468.1 214.1L468.5 214.2L468.9 214.2L469.3 214.2L469.7 214.2L470.1 214.2L470.5 214.2L470.9 214.1L471.3 214.1L471.8 214.2L472.2 214.2L472.6 214.2L473 214.2L473.4 214.2L473.8 214.2L474.2 214.2L474.6 214.2L475 214.2L475.5 214.2L475.9 214.1L476.3 214.2L476.7 214.2L477.1 214.2L477.5 214.2L477.9 214.2L478.3 214.2L478.7 214.2L479.2 214.2L479.6 214.2L480 214.1L480.4 214.1L480.8 214.1L481.2 214.1L481.6 214.1L482 214.2L482.5 214.2L482.9 214.2L483.3 214.2L483.7 214.2L484.1 214.2L484.5 214.2L484.9 214.1L485.3 214.2L485.7 214.2L486.2 214.2L486.6 214.2L487 214.1L487.4 214.2L487.8 214.2L488.2 214.2L488.6 214.2L489 214.2L489.4 214.2L489.9 214.2L490.3 214.2L490.7 214.2L491.1 214.2L491.5 214.2L491.9 214.2L492.3 214.2L492.7 214.2L493.1 214.1L493.6 214.2L494 214.2L494.4 214.1L494.8 214.2L495.2 214.2L495.6 214.2L496 214.2L496.4 214.2L496.8 214.2L497.3 214.2L497.7 214.2L498.1 214.2L498.5 214.2L498.9 214.2L499.3 214.2L499.7 214.2L500.1 214.2L500.5 214.2L501 214.1L501.4 214.2L501.8 214.2L502.2 214.2L502.6 214.2L503 214.1L503.4 214.2L503.8 214.2L504.2 214.2L504.7 214.2L505.1 214.2L505.5 214.1L505.9 214.2L506.3 214.2L506.7 214.2L507.1 214.2L507.5 214.2L508 214.2L508.4 214.2L508.8 214.2L509.2 214.2L509.6 214.2L510 214.2L510.4 214.2L510.8 214.2L511.2 214.1L511.7 214.2L512.1 214.1L512.5 214.2L512.9 214.1L513.3 214.1L513.7 214.2L514.1 214.2L514.5 214.2L514.9 214.2L515.4 214.2L515.8 214.2L516.2 214.2L516.6 214.2L517 214.2L517.4 214.1L517.8 214.2L518.2 214.2L518.6 214.2L519.1 214.2L519.5 214.2L519.9 214.2L520.3 214.2L520.7 214.1L521.1 214.2L521.5 214.2L521.9 214.2L522.3 214.2L522.8 214.1L523.2 214.2L523.6 214.2L524 214.2L524.4 214.2L524.8 214.2L525.2 214.2L525.6 214.2L526 214.2L526.5 214.2L526.9 214.2L527.3 214.2L527.7 214.1L528.1 214.2L528.5 214.2L528.9 214.2L529.3 214.1L529.7 214.2L530.2 214.2L530.6 214.2L531 214.2L531.4 214.1" fill="none" stroke="none" marker-start="url(#m)" marker-mid="url(#m)" marker-end="url(#m)"/></g>
<g><path d="M72.2 268.5V343.5M96.9 268.5V343.5M121.5 268.5V343.5M146.2 268.5V343.5M170.9 268.5V343.5M195.6 268.5V343.5M220.2 268.5V343.5M244.9 268.5V343.5" stroke="#e2e2e2" stroke-width="0.9" fill="none"/>
<rect x="47.5" y="268.5" width="222.1" height="75" fill="none" stroke="#404040" stroke-width="0.9"/>
<path d="M59.8 268.5v1.6M59.8 343.5v-1.6M84.5 268.5v1.6M84.5 343.5v-1.6M109.2 268.5v1.6M109.2 343.5v-1.6M133.9 268.5v1.6M133.9 343.5v-1.6M158.6 268.5v1.6M158.6 343.5v-1.6M183.2 268.5v1.6M183.2 343.5v-1.6M207.9 268.5v1.6M207.9 343.5v-1.6M232.6 268.5v1.6M232.6 343.5v-1.6M257.3 268.5v1.6M257.3 343.5v-1.6M47.5 318.5h1.6M269.6 318.5h-1.6M47.5 293.5h1.6M269.6 293.5h-1.6" stroke="#404040" stroke-width="0.7" fill="none"/>
<path d="M99.5 344V342.4M99.9 344V342.3M100.4 344V341.4M100.8 344V341.7M101.2 344V341.7M101.6 344V341.4M102 344V342.3M102.4 344V341.7M102.8 344V341.6M103.2 344V340.8M103.6 344V339.8M104.1 344V339.8M104.5 344V340.8M104.9 344V340.3M105.3 344V340.4M105.7 344V340.8M106.1 344V340.1M106.5 344V340.4M106.9 344V339.4M107.3 344V340.1M107.8 344V339.5M108.2 344V339.5M108.6 344V340.5M109 344V339.8M109.4 344V340.2M109.8 344V339.6M110.2 344V339.6M110.6 344V339.3M111 344V339.9M111.5 344V339.5M111.9 344V340M112.3 344V341.2M112.7 344V339.9M113.1 344V341.3M113.5 344V340.4M113.9 344V340.6M114.3 344V339.8M114.7 344V338.4M115.2 344V339.2M115.6 344V341.1M116 344V341.3M116.4 344V340.5M116.8 344V339.7M117.2 344V340.3M117.6 344V340.4M118 344V340.9M118.4 344V340.5M118.9 344V339.9M119.3 344V340.9M119.7 344V340.7M120.1 344V340.1M120.5 344V340.3M120.9 344V340.6M121.3 344V341.1M121.7 344V332.6M122.2 344V329.5M122.6 344V330M123 344V325M123.4 344V322.9M123.8 344V325.3M124.2 344V323.9M124.6 344V325.2M125 344V327.3M125.4 344V328M125.9 344V327.6M126.3 344V321.9M126.7 344V320.5M127.1 344V331M127.5 344V317.3M127.9 344V326.1M128.3 344V327.4M128.7 344V326M129.1 344V325.6M129.6 344V330.6M130 344V327.7M130.4 344V327.5M130.8 344V327.3M131.2 344V327.9M131.6 344V325.2M132 344V323.6M132.4 344V330.1M132.8 344V326.6M133.3 344V331M133.7 344V325.3M134.1 344V330.6M134.5 344V327.8M134.9 344V327.2M135.3 344V329.7M135.7 344V329.4M136.1 344V326.7M136.5 344V320.3M137 344V335.5M137.4 344V325.2M137.8 344V330.5M138.2 344V327M138.6 344V328.4M139 344V327.2M139.4 344V326.2M139.8 344V328.3M140.2 344V329.3M140.7 344V331.5M141.1 344V325.5M141.5 344V335.4M141.9 344V332.6M142.3 344V327M142.7 344V329.5M143.1 344V330.2M143.5 344V326M143.9 344V328.8M144.4 344V329.2M144.8 344V326.7M145.2 344V333.7M145.6 344V330.3M146 344V325.2M146.4 344V312.2M146.8 344V303.2M147.2 344V301.8M147.7 344V307.5M148.1 344V312.8M148.5 344V314.7M148.9 344V310.3M149.3 344V304.6M149.7 344V305.9M150.1 344V300.7M150.5 344V304.8M150.9 344V300.2M151.4 344V315.3M151.8 344V303.8M152.2 344V301.2M152.6 344V315.5M153 344V307.9M153.4 344V302.8M153.8 344V303.3M154.2 344V303.1M154.6 344V307M155.1 344V304.8M155.5 344V306.2M155.9 344V301.1M156.3 344V305.3M156.7 344V305.7M157.1 344V290.5M157.5 344V307.9M157.9 344V304.3M158.3 344V309.2M158.8 344V305.6M159.2 344V310M159.6 344V307.3M160 344V304.1M160.4 344V310M160.8 344V300M161.2 344V310.3M161.6 344V310M162 344V302.8M162.5 344V304.2M162.9 344V317.7M163.3 344V306M163.7 344V308.7M164.1 344V307.3M164.5 344V308M164.9 344V314.1M165.3 344V315.1M165.7 344V305.6M166.2 344V302.3M166.6 344V299.6M167 344V305.1M167.4 344V304.3M167.8 344V313.9M168.2 344V306.9M168.6 344V314.9M169 344V307.4M169.4 344V317.4M169.9 344V299.9M170.3 344V302.5M170.7 344V302.6" stroke="#2F5BAA" stroke-width="1.1" fill="none"/>
<path d="M47.7 343.5L48.1 343.4L48.5 343.4L48.9 343.5L49.4 343.4L49.8 343.5L50.2 343.4L50.6 343.5L51 343.4L51.4 343.4L51.8 343.5L52.2 343.5L52.6 343.5L53.1 343.4L53.5 343.4L53.9 343.5L54.3 343.5L54.7 343.5L55.1 343.4L55.5 343.4L55.9 343.5L56.3 343.5L56.8 343.5L57.2 343.4L57.6 343.5L58 343.5L58.4 343.4L58.8 343.4L59.2 343.5L59.6 343.5L60 343.4L60.5 343.5L60.9 343.5L61.3 343.4L61.7 343.5L62.1 343.4L62.5 343.4L62.9 343.4L63.3 343.4L63.7 343.5L64.2 343.4L64.6 343.4L65 343.4L65.4 343.4L65.8 343.4L66.2 343.4L66.6 343.5L67 343.5L67.4 343.4L67.9 343.4L68.3 343.4L68.7 343.4L69.1 343.5L69.5 343.4L69.9 343.4L70.3 343.4L70.7 343.4L71.1 343.5L71.6 343.4L72 343.5L72.4 343.5L72.8 343.4L73.2 343.4L73.6 343.1L74 343.3L74.4 343.3L74.9 343.4L75.3 343.4L75.7 343.3L76.1 343.4L76.5 343.5L76.9 343L77.3 343.3L77.7 343.2L78.1 343.2L78.6 343.3L79 343.4L79.4 343.5L79.8 343.3L80.2 343.3L80.6 343L81 343.1L81.4 342.9L81.8 343.3L82.3 342.9L82.7 343.1L83.1 343.5L83.5 343.4L83.9 343.2L84.3 342.9L84.7 343.3L85.1 343.1L85.5 343.3L86 343L86.4 343.5L86.8 343.2L87.2 343L87.6 343.4L88 343.4L88.4 343.5L88.8 343.4L89.2 343.4L89.7 343.2L90.1 343.4L90.5 343.3L90.9 343.4L91.3 343.2L91.7 343.1L92.1 343.2L92.5 343.4L92.9 343.2L93.4 343.1L93.8 343.3L94.2 343.5L94.6 343.2L95 343.2L95.4 343.4L95.8 343.4L96.2 343.4L96.6 343.3L97.1 343L97.5 343.1L97.9 342.8L98.3 343.3L98.7 343.3L99.1 342.9L99.5 342.4L99.9 342.3L100.4 341.4L100.8 341.7L101.2 341.7L101.6 341.4L102 342.3L102.4 341.7L102.8 341.6L103.2 340.8L103.6 339.8L104.1 339.8L104.5 340.8L104.9 340.3L105.3 340.4L105.7 340.8L106.1 340.1L106.5 340.4L106.9 339.4L107.3 340.1L107.8 339.5L108.2 339.5L108.6 340.5L109 339.8L109.4 340.2L109.8 339.6L110.2 339.6L110.6 339.3L111 339.9L111.5 339.5L111.9 340L112.3 341.2L112.7 339.9L113.1 341.3L113.5 340.4L113.9 340.6L114.3 339.8L114.7 338.4L115.2 339.2L115.6 341.1L116 341.3L116.4 340.5L116.8 339.7L117.2 340.3L117.6 340.4L118 340.9L118.4 340.5L118.9 339.9L119.3 340.9L119.7 340.7L120.1 340.1L120.5 340.3L120.9 340.6L121.3 341.1L121.7 332.6L122.2 329.5L122.6 330L123 325L123.4 322.9L123.8 325.3L124.2 323.9L124.6 325.2L125 327.3L125.4 328L125.9 327.6L126.3 321.9L126.7 320.5L127.1 331L127.5 317.3L127.9 326.1L128.3 327.4L128.7 326L129.1 325.6L129.6 330.6L130 327.7L130.4 327.5L130.8 327.3L131.2 327.9L131.6 325.2L132 323.6L132.4 330.1L132.8 326.6L133.3 331L133.7 325.3L134.1 330.6L134.5 327.8L134.9 327.2L135.3 329.7L135.7 329.4L136.1 326.7L136.5 320.3L137 335.5L137.4 325.2L137.8 330.5L138.2 327L138.6 328.4L139 327.2L139.4 326.2L139.8 328.3L140.2 329.3L140.7 331.5L141.1 325.5L141.5 335.4L141.9 332.6L142.3 327L142.7 329.5L143.1 330.2L143.5 326L143.9 328.8L144.4 329.2L144.8 326.7L145.2 333.7L145.6 330.3L146 325.2L146.4 312.2L146.8 303.2L147.2 301.8L147.7 307.5L148.1 312.8L148.5 314.7L148.9 310.3L149.3 304.6L149.7 305.9L150.1 300.7L150.5 304.8L150.9 300.2L151.4 315.3L151.8 303.8L152.2 301.2L152.6 315.5L153 307.9L153.4 302.8L153.8 303.3L154.2 303.1L154.6 307L155.1 304.8L155.5 306.2L155.9 301.1L156.3 305.3L156.7 305.7L157.1 290.5L157.5 307.9L157.9 304.3L158.3 309.2L158.8 305.6L159.2 310L159.6 307.3L160 304.1L160.4 310L160.8 300L161.2 310.3L161.6 310L162 302.8L162.5 304.2L162.9 317.7L163.3 306L163.7 308.7L164.1 307.3L164.5 308L164.9 314.1L165.3 315.1L165.7 305.6L166.2 302.3L166.6 299.6L167 305.1L167.4 304.3L167.8 313.9L168.2 306.9L168.6 314.9L169 307.4L169.4 317.4L169.9 299.9L170.3 302.5L170.7 302.6L171.1 343.5L171.5 343.5L171.9 343.5L172.3 343.4L172.7 343.4L173.2 343.4L173.6 343.4L174 343.5L174.4 343.5L174.8 343.4L175.2 343.4L175.6 343.4L176 343.5L176.4 343.5L176.9 343.5L177.3 343.4L177.7 343.5L178.1 343.4L178.5 343.4L178.9 343.4L179.3 343.5L179.7 343.4L180.1 343.5L180.6 343.4L181 343.4L181.4 343.5L181.8 343.5L182.2 343.4L182.6 343.5L183 343.4L183.4 343.5L183.8 343.5L184.3 343.4L184.7 343.5L185.1 343.4L185.5 343.4L185.9 343.4L186.3 343.4L186.7 343.4L187.1 343.4L187.5 343.4L188 343.5L188.4 343.4L188.8 343.4L189.2 343.5L189.6 343.4L190 343.5L190.4 343.4L190.8 343.5L191.2 343.4L191.7 343.4L192.1 343.4L192.5 343.4L192.9 343.4L193.3 343.4L193.7 343.5L194.1 343.5L194.5 343.4L194.9 343.5L195.4 343.4L195.8 343.5L196.2 343.5L196.6 343.5L197 343.4L197.4 343.4L197.8 343.5L198.2 343.4L198.7 343.5L199.1 343.4L199.5 343.4L199.9 343.5L200.3 343.5L200.7 343.4L201.1 343.5L201.5 343.4L201.9 343.5L202.4 343.5L202.8 343.4L203.2 343.5L203.6 343.4L204 343.5L204.4 343.4L204.8 343.5L205.2 343.4L205.6 343.5L206.1 343.4L206.5 343.4L206.9 343.5L207.3 343.5L207.7 343.5L208.1 343.4L208.5 343.5L208.9 343.4L209.3 343.5L209.8 343.4L210.2 343.4L210.6 343.4L211 343.4L211.4 343.5L211.8 343.4L212.2 343.5L212.6 343.4L213 343.4L213.5 343.4L213.9 343.4L214.3 343.5L214.7 343.5L215.1 343.4L215.5 343.4L215.9 343.4L216.3 343.5L216.7 343.4L217.2 343.4L217.6 343.4L218 343.4L218.4 343.5L218.8 343.5L219.2 343.5L219.6 343.4L220 343.4L220.5 343.5L220.9 343.4L221.3 343.5L221.7 343.4L222.1 343.4L222.5 343.5L222.9 343.4L223.3 343.4L223.7 343.5L224.2 343.5L224.6 343.4L225 343.5L225.4 343.4L225.8 343.5L226.2 343.4L226.6 343.5L227 343.5L227.4 343.4L227.9 343.5L228.3 343.4L228.7 343.4L229.1 343.4L229.5 343.4L229.9 343.5L230.3 343.4L230.7 343.5L231.1 343.4L231.6 343.5L232 343.4L232.4 343.5L232.8 343.5L233.2 343.4L233.6 343.5L234 343.5L234.4 343.4L234.8 343.5L235.3 343.4L235.7 343.4L236.1 343.4L236.5 343.5L236.9 343.5L237.3 343.4L237.7 343.5L238.1 343.4L238.5 343.4L239 343.5L239.4 343.4L239.8 343.5L240.2 343.4L240.6 343.4L241 343.5L241.4 343.5L241.8 343.5L242.2 343.5L242.7 343.5L243.1 343.5L243.5 343.4L243.9 343.4L244.3 343.4L244.7 343.5L245.1 343.4L245.5 343.4L246 343.4L246.4 343.4L246.8 343.4L247.2 343.5L247.6 343.4L248 343.5L248.4 343.5L248.8 343.5L249.2 343.5L249.7 343.4L250.1 343.5L250.5 343.4L250.9 343.5L251.3 343.4L251.7 343.5L252.1 343.4L252.5 343.4L252.9 343.4L253.4 343.5L253.8 343.5L254.2 343.4L254.6 343.4L255 343.5L255.4 343.4L255.8 343.4L256.2 343.4L256.6 343.5L257.1 343.4L257.5 343.4L257.9 343.4L258.3 343.5L258.7 343.4L259.1 343.5L259.5 343.5L259.9 343.5L260.3 343.5L260.8 343.4L261.2 343.4L261.6 343.5L262 343.5L262.4 343.5L262.8 343.5L263.2 343.5L263.6 343.5L264 343.4L264.5 343.4L264.9 343.4L265.3 343.4L265.7 343.4L266.1 343.4L266.5 343.4L266.9 343.4L267.3 343.4L267.7 343.5L268.2 343.4L268.6 343.4L269 343.4L269.4 343.5" fill="none" stroke="none" marker-start="url(#m)" marker-mid="url(#m)" marker-end="url(#m)"/></g>
<g><path d="M334.2 268.5V343.5M358.9 268.5V343.5M383.5 268.5V343.5M408.2 268.5V343.5M432.9 268.5V343.5M457.6 268.5V343.5M482.2 268.5V343.5M506.9 268.5V343.5" stroke="#e2e2e2" stroke-width="0.9" fill="none"/>
<rect x="309.5" y="268.5" width="222.1" height="75" fill="none" stroke="#404040" stroke-width="0.9"/>
<path d="M321.8 268.5v1.6M321.8 343.5v-1.6M346.5 268.5v1.6M346.5 343.5v-1.6M371.2 268.5v1.6M371.2 343.5v-1.6M395.9 268.5v1.6M395.9 343.5v-1.6M420.6 268.5v1.6M420.6 343.5v-1.6M445.2 268.5v1.6M445.2 343.5v-1.6M469.9 268.5v1.6M469.9 343.5v-1.6M494.6 268.5v1.6M494.6 343.5v-1.6M519.3 268.5v1.6M519.3 343.5v-1.6M309.5 298.5h1.6M531.6 298.5h-1.6" stroke="#404040" stroke-width="0.7" fill="none"/>
<path d="M334.4 344V338.9M334.8 344V338.9M335.2 344V341.2M335.6 344V336.6M336 344V341.9M336.4 344V338.2M336.9 344V339.4M337.3 344V337.4M337.7 344V341.7M338.1 344V340.7M338.5 344V339.8M338.9 344V337M339.3 344V337.3M339.7 344V336.7M340.1 344V340.2M340.6 344V338.4M341 344V338.4M341.4 344V338.9M341.8 344V340.4M342.2 344V337.9M342.6 344V338.3M343 344V339.2M343.4 344V341M343.8 344V339.9M344.3 344V341M344.7 344V341M345.1 344V341.3M345.5 344V339.2M345.9 344V340.6M346.3 344V341.8M346.7 344V342.1M347.1 344V340.6M348 344V339.5M348.4 344V340M348.8 344V339.8M349.2 344V340.5M349.6 344V340.6M350 344V341.2M350.4 344V340M350.8 344V340.5M351.2 344V342M351.7 344V339.6M352.1 344V341.8M352.5 344V342.2M352.9 344V340.5M353.3 344V340.4M353.7 344V340.6M354.1 344V338.5M354.5 344V338M354.9 344V342.2M355.4 344V342M355.8 344V339.7M356.2 344V342M356.6 344V339M357 344V338.4M357.4 344V342M357.8 344V341.9M358.2 344V339.7M358.6 344V338.7M359.1 344V334.3M359.5 344V337.7M359.9 344V339.6M360.3 344V337M360.7 344V340M361.1 344V340.6M361.5 344V335.7M361.9 344V332.5M362.4 344V336.9M362.8 344V334.9M363.2 344V333.2M363.6 344V334.7M364 344V335.1M364.4 344V332.6M364.8 344V339.5M365.2 344V340.5M365.6 344V332M366.1 344V336.4M366.5 344V334.5M366.9 344V335.6M367.3 344V335.2M367.7 344V340.3M368.1 344V330.3M368.5 344V329.6M368.9 344V340M369.3 344V329.4M369.8 344V335.6M370.2 344V334M370.6 344V328.4M371 344V339.6M371.4 344V339.6M371.8 344V327.6M372.2 344V331.2M372.6 344V325.4M373 344V329M373.5 344V325.7M373.9 344V329.3M374.3 344V331.1M374.7 344V334.1M375.1 344V330.5M375.5 344V322.7M375.9 344V333.4M376.3 344V323.5M376.7 344V323.9M377.2 344V324.2M377.6 344V326M378 344V330.9M378.4 344V330.9M378.8 344V329M379.2 344V338.7M379.6 344V327.8M380 344V328.7M380.4 344V331.4M380.9 344V330.7M381.3 344V334.9M381.7 344V333.1M382.1 344V331.8M382.5 344V340.2M382.9 344V335.6M383.3 344V331.7M383.7 344V322.4M384.2 344V321.9M384.6 344V321.4M385 344V319M385.4 344V318.6M385.8 344V320.2M386.2 344V319.9M386.6 344V319M387 344V319.2M387.4 344V323.3M387.9 344V317.4M388.3 344V326.2M388.7 344V316.7M389.1 344V314.8M389.5 344V318.4M389.9 344V322.8M390.3 344V320.4M390.7 344V322.6M391.1 344V320M391.6 344V317.4M392 344V315.4M392.4 344V315M392.8 344V329.3M393.2 344V320.2M393.6 344V317M394 344V318.4M394.4 344V320M394.8 344V314.8M395.3 344V319.1M395.7 344V325.9M396.1 344V317.3M396.5 344V321.7M396.9 344V318.8M397.3 344V318.2M397.7 344V317.3M398.1 344V317.1M398.5 344V318.2M399 344V317.4M399.4 344V320.1M399.8 344V318.8M400.2 344V323.5M400.6 344V318.9M401 344V316.2M401.4 344V315.6M401.8 344V321.6M402.2 344V318.5M402.7 344V319M403.1 344V316.5M403.5 344V322.3M403.9 344V321.2M404.3 344V321.4M404.7 344V315.5M405.1 344V317.5M405.5 344V317.2M405.9 344V318M406.4 344V322M406.8 344V317.2M407.2 344V322.3M407.6 344V316.4M408 344V318.4M408.4 344V314.1M408.8 344V319.2M409.2 344V311.8M409.7 344V315.2M410.1 344V323.6M410.5 344V321.1M410.9 344V313.8M411.3 344V310.5M411.7 344V309.8M412.1 344V319.4M412.5 344V315.2M412.9 344V317.8M413.4 344V312.2M413.8 344V315.7M414.2 344V313.9M414.6 344V309.6M415 344V310.3M415.4 344V317.2M415.8 344V315.2M416.2 344V314.4M416.6 344V314.4M417.1 344V314.8M417.5 344V314.6M417.9 344V314.7M418.3 344V312.3M418.7 344V314.5M419.1 344V311.8M419.5 344V314.2M419.9 344V318.2M420.3 344V316.4M420.8 344V317.8M421.2 344V317M421.6 344V315.6M422 344V322.2M422.4 344V319.1M422.8 344V314.2M423.2 344V315.8M423.6 344V315.8M424 344V313.8M424.5 344V315.5M424.9 344V313M425.3 344V314.4M425.7 344V318.8M426.1 344V321.5M426.5 344V320.6M426.9 344V313.9M427.3 344V314.2M427.7 344V312.9M428.2 344V315.3M428.6 344V313.9M429 344V319.1M429.4 344V311.5M429.8 344V315.6M430.2 344V318.8M430.6 344V315.6M431 344V313.4M431.4 344V322.9M431.9 344V314.2M432.3 344V311.1M432.7 344V324.2" stroke="#2F5BAA" stroke-width="1.1" fill="none"/>
<path d="M309.7 343.5L310.1 343.4L310.5 343.5L310.9 343.5L311.4 343.5L311.8 343.5L312.2 343.4L312.6 343.4L313 343.5L313.4 343.5L313.8 343.5L314.2 343.5L314.6 343.5L315.1 343.5L315.5 343.5L315.9 343.4L316.3 343.5L316.7 343.4L317.1 343.5L317.5 343.4L317.9 343.5L318.3 343.4L318.8 343.5L319.2 343.5L319.6 343.4L320 343.5L320.4 343.5L320.8 343.5L321.2 343.5L321.6 343.5L322 343.4L322.5 343.5L322.9 343.5L323.3 343.5L323.7 343.5L324.1 343.5L324.5 343.5L324.9 343.4L325.3 343.5L325.7 343.5L326.2 343.5L326.6 343.5L327 343.4L327.4 343.5L327.8 343.5L328.2 343.4L328.6 343.5L329 343.5L329.4 343.5L329.9 343.5L330.3 343.5L330.7 343.5L331.1 343.5L331.5 343.5L331.9 343.5L332.3 343.5L332.7 343.5L333.1 343.5L333.6 343.4L334 343.5L334.4 338.9L334.8 338.9L335.2 341.2L335.6 336.6L336 341.9L336.4 338.2L336.9 339.4L337.3 337.4L337.7 341.7L338.1 340.7L338.5 339.8L338.9 337L339.3 337.3L339.7 336.7L340.1 340.2L340.6 338.4L341 338.4L341.4 338.9L341.8 340.4L342.2 337.9L342.6 338.3L343 339.2L343.4 341L343.8 339.9L344.3 341L344.7 341L345.1 341.3L345.5 339.2L345.9 340.6L346.3 341.8L346.7 342.1L347.1 340.6L347.5 342.7L348 339.5L348.4 340L348.8 339.8L349.2 340.5L349.6 340.6L350 341.2L350.4 340L350.8 340.5L351.2 342L351.7 339.6L352.1 341.8L352.5 342.2L352.9 340.5L353.3 340.4L353.7 340.6L354.1 338.5L354.5 338L354.9 342.2L355.4 342L355.8 339.7L356.2 342L356.6 339L357 338.4L357.4 342L357.8 341.9L358.2 339.7L358.6 338.7L359.1 334.3L359.5 337.7L359.9 339.6L360.3 337L360.7 340L361.1 340.6L361.5 335.7L361.9 332.5L362.4 336.9L362.8 334.9L363.2 333.2L363.6 334.7L364 335.1L364.4 332.6L364.8 339.5L365.2 340.5L365.6 332L366.1 336.4L366.5 334.5L366.9 335.6L367.3 335.2L367.7 340.3L368.1 330.3L368.5 329.6L368.9 340L369.3 329.4L369.8 335.6L370.2 334L370.6 328.4L371 339.6L371.4 339.6L371.8 327.6L372.2 331.2L372.6 325.4L373 329L373.5 325.7L373.9 329.3L374.3 331.1L374.7 334.1L375.1 330.5L375.5 322.7L375.9 333.4L376.3 323.5L376.7 323.9L377.2 324.2L377.6 326L378 330.9L378.4 330.9L378.8 329L379.2 338.7L379.6 327.8L380 328.7L380.4 331.4L380.9 330.7L381.3 334.9L381.7 333.1L382.1 331.8L382.5 340.2L382.9 335.6L383.3 331.7L383.7 322.4L384.2 321.9L384.6 321.4L385 319L385.4 318.6L385.8 320.2L386.2 319.9L386.6 319L387 319.2L387.4 323.3L387.9 317.4L388.3 326.2L388.7 316.7L389.1 314.8L389.5 318.4L389.9 322.8L390.3 320.4L390.7 322.6L391.1 320L391.6 317.4L392 315.4L392.4 315L392.8 329.3L393.2 320.2L393.6 317L394 318.4L394.4 320L394.8 314.8L395.3 319.1L395.7 325.9L396.1 317.3L396.5 321.7L396.9 318.8L397.3 318.2L397.7 317.3L398.1 317.1L398.5 318.2L399 317.4L399.4 320.1L399.8 318.8L400.2 323.5L400.6 318.9L401 316.2L401.4 315.6L401.8 321.6L402.2 318.5L402.7 319L403.1 316.5L403.5 322.3L403.9 321.2L404.3 321.4L404.7 315.5L405.1 317.5L405.5 317.2L405.9 318L406.4 322L406.8 317.2L407.2 322.3L407.6 316.4L408 318.4L408.4 314.1L408.8 319.2L409.2 311.8L409.7 315.2L410.1 323.6L410.5 321.1L410.9 313.8L411.3 310.5L411.7 309.8L412.1 319.4L412.5 315.2L412.9 317.8L413.4 312.2L413.8 315.7L414.2 313.9L414.6 309.6L415 310.3L415.4 317.2L415.8 315.2L416.2 314.4L416.6 314.4L417.1 314.8L417.5 314.6L417.9 314.7L418.3 312.3L418.7 314.5L419.1 311.8L419.5 314.2L419.9 318.2L420.3 316.4L420.8 317.8L421.2 317L421.6 315.6L422 322.2L422.4 319.1L422.8 314.2L423.2 315.8L423.6 315.8L424 313.8L424.5 315.5L424.9 313L425.3 314.4L425.7 318.8L426.1 321.5L426.5 320.6L426.9 313.9L427.3 314.2L427.7 312.9L428.2 315.3L428.6 313.9L429 319.1L429.4 311.5L429.8 315.6L430.2 318.8L430.6 315.6L431 313.4L431.4 322.9L431.9 314.2L432.3 311.1L432.7 324.2L433.1 343.4L433.5 343.5L433.9 343.5L434.3 343.5L434.7 343.4L435.2 343.5L435.6 343.5L436 343.5L436.4 343.5L436.8 343.5L437.2 343.5L437.6 343.5L438 343.5L438.4 343.5L438.9 343.5L439.3 343.5L439.7 343.5L440.1 343.4L440.5 343.5L440.9 343.5L441.3 343.5L441.7 343.5L442.1 343.5L442.6 343.5L443 343.5L443.4 343.5L443.8 343.5L444.2 343.5L444.6 343.5L445 343.5L445.4 343.5L445.8 343.4L446.3 343.5L446.7 343.5L447.1 343.5L447.5 343.5L447.9 343.5L448.3 343.5L448.7 343.5L449.1 343.5L449.5 343.5L450 343.5L450.4 343.5L450.8 343.4L451.2 343.5L451.6 343.5L452 343.5L452.4 343.5L452.8 343.5L453.2 343.4L453.7 343.5L454.1 343.5L454.5 343.5L454.9 343.5L455.3 343.5L455.7 343.4L456.1 343.5L456.5 343.5L456.9 343.5L457.4 343.5L457.8 343.5L458.2 343.5L458.6 343.5L459 343.4L459.4 343.5L459.8 343.5L460.2 343.5L460.7 343.5L461.1 343.5L461.5 343.5L461.9 343.4L462.3 343.5L462.7 343.4L463.1 343.5L463.5 343.5L463.9 343.5L464.4 343.5L464.8 343.5L465.2 343.5L465.6 343.5L466 343.5L466.4 343.5L466.8 343.5L467.2 343.5L467.6 343.5L468.1 343.5L468.5 343.5L468.9 343.5L469.3 343.5L469.7 343.5L470.1 343.5L470.5 343.5L470.9 343.5L471.3 343.4L471.8 343.5L472.2 343.5L472.6 343.4L473 343.5L473.4 343.5L473.8 343.5L474.2 343.5L474.6 343.5L475 343.5L475.5 343.5L475.9 343.5L476.3 343.5L476.7 343.5L477.1 343.5L477.5 343.5L477.9 343.5L478.3 343.5L478.7 343.5L479.2 343.5L479.6 343.4L480 343.5L480.4 343.5L480.8 343.5L481.2 343.5L481.6 343.5L482 343.4L482.5 343.4L482.9 343.4L483.3 343.5L483.7 343.4L484.1 343.5L484.5 343.5L484.9 343.5L485.3 343.4L485.7 343.5L486.2 343.5L486.6 343.5L487 343.4L487.4 343.5L487.8 343.5L488.2 343.5L488.6 343.5L489 343.5L489.4 343.5L489.9 343.5L490.3 343.5L490.7 343.5L491.1 343.4L491.5 343.5L491.9 343.5L492.3 343.5L492.7 343.5L493.1 343.5L493.6 343.5L494 343.5L494.4 343.5L494.8 343.5L495.2 343.5L495.6 343.5L496 343.5L496.4 343.5L496.8 343.5L497.3 343.5L497.7 343.4L498.1 343.5L498.5 343.4L498.9 343.5L499.3 343.4L499.7 343.5L500.1 343.5L500.5 343.5L501 343.4L501.4 343.5L501.8 343.5L502.2 343.5L502.6 343.5L503 343.5L503.4 343.5L503.8 343.5L504.2 343.5L504.7 343.4L505.1 343.5L505.5 343.5L505.9 343.5L506.3 343.4L506.7 343.5L507.1 343.5L507.5 343.5L508 343.4L508.4 343.5L508.8 343.4L509.2 343.5L509.6 343.5L510 343.4L510.4 343.5L510.8 343.4L511.2 343.5L511.7 343.5L512.1 343.4L512.5 343.5L512.9 343.5L513.3 343.5L513.7 343.5L514.1 343.5L514.5 343.5L514.9 343.5L515.4 343.5L515.8 343.5L516.2 343.5L516.6 343.5L517 343.5L517.4 343.5L517.8 343.5L518.2 343.5L518.6 343.5L519.1 343.5L519.5 343.4L519.9 343.5L520.3 343.5L520.7 343.5L521.1 343.5L521.5 343.4L521.9 343.5L522.3 343.5L522.8 343.5L523.2 343.5L523.6 343.5L524 343.5L524.4 343.4L524.8 343.5L525.2 343.4L525.6 343.4L526 343.5L526.5 343.4L526.9 343.5L527.3 343.5L527.7 343.4L528.1 343.5L528.5 343.5L528.9 343.5L529.3 343.5L529.7 343.4L530.2 343.4L530.6 343.5L531 343.5L531.4 343.4" fill="none" stroke="none" marker-start="url(#m)" marker-mid="url(#m)" marker-end="url(#m)"/></g>
<g><path d="M72.2 397.9V472M96.9 397.9V472M121.5 397.9V472M146.2 397.9V472M170.9 397.9V472M195.6 397.9V472M220.2 397.9V472M244.9 397.9V472" stroke="#e2e2e2" stroke-width="0.9" fill="none"/>
<rect x="47.5" y="397.9" width="222.1" height="74.1" fill="none" stroke="#404040" stroke-width="0.9"/>
<path d="M59.8 397.9v1.6M59.8 472v-1.6M84.5 397.9v1.6M84.5 472v-1.6M109.2 397.9v1.6M109.2 472v-1.6M133.9 397.9v1.6M133.9 472v-1.6M158.6 397.9v1.6M158.6 472v-1.6M183.2 397.9v1.6M183.2 472v-1.6M207.9 397.9v1.6M207.9 472v-1.6M232.6 397.9v1.6M232.6 472v-1.6M257.3 397.9v1.6M257.3 472v-1.6M47.5 447h1.6M269.6 447h-1.6M47.5 422h1.6M269.6 422h-1.6" stroke="#404040" stroke-width="0.7" fill="none"/>
<path d="M99.5 472.5V470.9M99.9 472.5V470.5M100.4 472.5V470.2M100.8 472.5V470.6M101.2 472.5V470.6M101.6 472.5V469.9M102 472.5V470.2M102.4 472.5V470.2M102.8 472.5V470.1M103.2 472.5V470.1M103.6 472.5V469.9M104.1 472.5V469.1M104.5 472.5V469.6M104.9 472.5V469.9M105.3 472.5V469.5M105.7 472.5V469.5M106.1 472.5V469.1M106.5 472.5V469.2M106.9 472.5V468.9M107.3 472.5V469.6M107.8 472.5V467.5M108.2 472.5V468.1M108.6 472.5V469M109 472.5V468.6M109.4 472.5V467.6M109.8 472.5V467.8M110.2 472.5V468.3M110.6 472.5V468.4M111 472.5V467.6M111.5 472.5V467.4M111.9 472.5V467.6M112.3 472.5V468.8M112.7 472.5V468.8M113.1 472.5V467.5M113.5 472.5V468.6M113.9 472.5V467.7M114.3 472.5V468.1M114.7 472.5V468.1M115.2 472.5V469.4M115.6 472.5V467.3M116 472.5V467.4M116.4 472.5V468.2M116.8 472.5V467.7M117.2 472.5V466.4M117.6 472.5V467.9M118 472.5V467.6M118.4 472.5V468.5M118.9 472.5V468.1M119.3 472.5V468M119.7 472.5V468.2M120.1 472.5V468M120.5 472.5V467.9M120.9 472.5V467.8M121.3 472.5V468.1M121.7 472.5V461.2M122.2 472.5V460.9M122.6 472.5V459.7M123 472.5V460.7M123.4 472.5V459.3M123.8 472.5V457.6M124.2 472.5V459.4M124.6 472.5V459.8M125 472.5V459.9M125.4 472.5V459.4M125.9 472.5V460.9M126.3 472.5V461.7M126.7 472.5V461.4M127.1 472.5V459.9M127.5 472.5V461.9M127.9 472.5V459.1M128.3 472.5V460.5M128.7 472.5V459.3M129.1 472.5V459.1M129.6 472.5V460.8M130 472.5V459.1M130.4 472.5V458.5M130.8 472.5V460.4M131.2 472.5V460.1M131.6 472.5V459.3M132 472.5V463.4M132.4 472.5V459M132.8 472.5V461.7M133.3 472.5V459.5M133.7 472.5V457.4M134.1 472.5V459.8M134.5 472.5V461.3M134.9 472.5V457.6M135.3 472.5V462.4M135.7 472.5V457.8M136.1 472.5V460.8M136.5 472.5V459.6M137 472.5V458.5M137.4 472.5V459.2M137.8 472.5V459.2M138.2 472.5V456M138.6 472.5V459.7M139 472.5V459.6M139.4 472.5V458.9M139.8 472.5V459.8M140.2 472.5V457.8M140.7 472.5V458.9M141.1 472.5V461.1M141.5 472.5V461.1M141.9 472.5V460.2M142.3 472.5V459.1M142.7 472.5V458.8M143.1 472.5V460.5M143.5 472.5V457.7M143.9 472.5V457.9M144.4 472.5V459M144.8 472.5V457.5M145.2 472.5V457M145.6 472.5V461.1M146 472.5V456.9M146.4 472.5V449.1M146.8 472.5V452.4M147.2 472.5V446.1M147.7 472.5V452.8M148.1 472.5V450.6M148.5 472.5V447.6M148.9 472.5V449.7M149.3 472.5V447.5M149.7 472.5V445.9M150.1 472.5V448.2M150.5 472.5V447.3M150.9 472.5V448.3M151.4 472.5V452.7M151.8 472.5V449.2M152.2 472.5V453.2M152.6 472.5V449.1M153 472.5V443M153.4 472.5V446.5M153.8 472.5V453.6M154.2 472.5V452.1M154.6 472.5V449M155.1 472.5V447.6M155.5 472.5V451.2M155.9 472.5V449.1M156.3 472.5V450.6M156.7 472.5V445.3M157.1 472.5V448.7M157.5 472.5V451.1M157.9 472.5V447.1M158.3 472.5V451.9M158.8 472.5V449M159.2 472.5V447.7M159.6 472.5V446.1M160 472.5V452.3M160.4 472.5V444.3M160.8 472.5V453.4M161.2 472.5V447.5M161.6 472.5V447.9M162 472.5V450.1M162.5 472.5V450M162.9 472.5V449.2M163.3 472.5V451.3M163.7 472.5V448.2M164.1 472.5V449.8M164.5 472.5V445.7M164.9 472.5V448.8M165.3 472.5V449.4M165.7 472.5V447.2M166.2 472.5V450.8M166.6 472.5V446.2M167 472.5V444.6M167.4 472.5V444.9M167.8 472.5V450.8M168.2 472.5V447.8M168.6 472.5V450.1M169 472.5V444.9M169.4 472.5V447M169.9 472.5V446.3M170.3 472.5V448.9M170.7 472.5V450M220.5 472.5V468.8M220.9 472.5V470.1M221.3 472.5V470.1M221.7 472.5V470M222.1 472.5V470.3M222.5 472.5V469.5M222.9 472.5V469.5M223.3 472.5V469.6M223.7 472.5V469.3M224.2 472.5V470.1M224.6 472.5V469.9M225 472.5V470.1M225.4 472.5V469.6M225.8 472.5V469.2M226.2 472.5V468.4M226.6 472.5V470.2M227 472.5V469.8M227.4 472.5V469.9M227.9 472.5V469.8M228.3 472.5V469.2M228.7 472.5V469.1M229.1 472.5V469.5M229.5 472.5V469M229.9 472.5V469.4M230.3 472.5V469.8M230.7 472.5V470M231.1 472.5V469.8M231.6 472.5V469.7M232 472.5V470.7M232.4 472.5V469.9M232.8 472.5V469.5M233.2 472.5V469.7M233.6 472.5V470M234 472.5V469.1M234.4 472.5V469.3M234.8 472.5V470.1M235.3 472.5V469.3M235.7 472.5V469.4M236.1 472.5V469M236.5 472.5V468.7M236.9 472.5V469.3M237.3 472.5V469.4M237.7 472.5V469.8M238.1 472.5V470.4M238.5 472.5V469.7M239 472.5V468.8M239.4 472.5V469.4M239.8 472.5V469.2M240.2 472.5V470.1M240.6 472.5V469.6M241 472.5V469.6M241.4 472.5V470.4M241.8 472.5V469.8M242.2 472.5V470M242.7 472.5V469.2M243.1 472.5V469M243.5 472.5V469.6M243.9 472.5V470.2M244.3 472.5V470.1M244.7 472.5V470.4M245.1 472.5V464.5M245.5 472.5V465.3M246 472.5V464.6M246.4 472.5V464.4M246.8 472.5V464.4M247.2 472.5V465M247.6 472.5V465.6M248 472.5V466.3M248.4 472.5V464.3M248.8 472.5V463.3M249.2 472.5V464.5M249.7 472.5V462.7M250.1 472.5V464.1M250.5 472.5V464M250.9 472.5V465.5M251.3 472.5V464.6M251.7 472.5V464.8M252.1 472.5V464.3M252.5 472.5V463.8M252.9 472.5V464.3M253.4 472.5V463M253.8 472.5V466.9M254.2 472.5V462.5M254.6 472.5V464.8M255 472.5V464.6M255.4 472.5V466M255.8 472.5V462M256.2 472.5V462.4M256.6 472.5V461.6M257.1 472.5V464.8M257.5 472.5V462.8M257.9 472.5V464.6M258.3 472.5V463.4M258.7 472.5V463.7M259.1 472.5V464.4M259.5 472.5V464.1M259.9 472.5V462.1M260.3 472.5V464.5M260.8 472.5V465.6M261.2 472.5V463.9M261.6 472.5V465.5M262 472.5V466.2M262.4 472.5V464.9M262.8 472.5V465.1M263.2 472.5V465.1M263.6 472.5V464.4M264 472.5V463.7M264.5 472.5V465.3M264.9 472.5V465.6M265.3 472.5V465.6M265.7 472.5V463.5M266.1 472.5V464.9M266.5 472.5V464.9M266.9 472.5V466.9M267.3 472.5V465.2M267.7 472.5V465.6M268.2 472.5V466.2M268.6 472.5V466.8M269 472.5V465.7M269.4 472.5V465.8" stroke="#2F5BAA" stroke-width="1.1" fill="none"/>
<path d="M47.7 471.9L48.1 472L48.5 471.9L48.9 471.8L49.4 471.9L49.8 471.8L50.2 471.8L50.6 471.8L51 472L51.4 472L51.8 471.8L52.2 471.9L52.6 472L53.1 471.8L53.5 471.9L53.9 471.9L54.3 471.9L54.7 471.9L55.1 471.8L55.5 472L55.9 471.8L56.3 471.9L56.8 471.9L57.2 471.8L57.6 471.8L58 472L58.4 471.9L58.8 471.8L59.2 471.8L59.6 471.8L60 472L60.5 471.8L60.9 471.8L61.3 471.9L61.7 471.9L62.1 471.8L62.5 472L62.9 471.9L63.3 471.8L63.7 471.8L64.2 471.9L64.6 471.8L65 471.9L65.4 471.8L65.8 471.8L66.2 472L66.6 471.9L67 471.9L67.4 471.9L67.9 472L68.3 472L68.7 471.9L69.1 471.9L69.5 472L69.9 471.9L70.3 471.8L70.7 471.9L71.1 471.9L71.6 471.8L72 471.9L72.4 471.9L72.8 471.7L73.2 472L73.6 471.6L74 471.9L74.4 471.8L74.9 471.4L75.3 471.5L75.7 471.5L76.1 471.6L76.5 471.6L76.9 471.6L77.3 471.4L77.7 471.9L78.1 471.5L78.6 471.8L79 471.8L79.4 471.5L79.8 471.6L80.2 471.5L80.6 471.5L81 471.6L81.4 471.9L81.8 472L82.3 471.7L82.7 471.6L83.1 471.8L83.5 472L83.9 472L84.3 471.9L84.7 471.6L85.1 472L85.5 471.9L86 471.8L86.4 471.6L86.8 471.4L87.2 472L87.6 471.9L88 471.4L88.4 471.4L88.8 471.9L89.2 471.8L89.7 471.7L90.1 471.8L90.5 471.7L90.9 471.7L91.3 471.8L91.7 472L92.1 471.9L92.5 471.9L92.9 471.9L93.4 471.6L93.8 471.6L94.2 471.8L94.6 471.5L95 471.6L95.4 471.8L95.8 471.7L96.2 471.9L96.6 471.4L97.1 471.6L97.5 472L97.9 471L98.3 471.1L98.7 471.8L99.1 471.4L99.5 470.9L99.9 470.5L100.4 470.2L100.8 470.6L101.2 470.6L101.6 469.9L102 470.2L102.4 470.2L102.8 470.1L103.2 470.1L103.6 469.9L104.1 469.1L104.5 469.6L104.9 469.9L105.3 469.5L105.7 469.5L106.1 469.1L106.5 469.2L106.9 468.9L107.3 469.6L107.8 467.5L108.2 468.1L108.6 469L109 468.6L109.4 467.6L109.8 467.8L110.2 468.3L110.6 468.4L111 467.6L111.5 467.4L111.9 467.6L112.3 468.8L112.7 468.8L113.1 467.5L113.5 468.6L113.9 467.7L114.3 468.1L114.7 468.1L115.2 469.4L115.6 467.3L116 467.4L116.4 468.2L116.8 467.7L117.2 466.4L117.6 467.9L118 467.6L118.4 468.5L118.9 468.1L119.3 468L119.7 468.2L120.1 468L120.5 467.9L120.9 467.8L121.3 468.1L121.7 461.2L122.2 460.9L122.6 459.7L123 460.7L123.4 459.3L123.8 457.6L124.2 459.4L124.6 459.8L125 459.9L125.4 459.4L125.9 460.9L126.3 461.7L126.7 461.4L127.1 459.9L127.5 461.9L127.9 459.1L128.3 460.5L128.7 459.3L129.1 459.1L129.6 460.8L130 459.1L130.4 458.5L130.8 460.4L131.2 460.1L131.6 459.3L132 463.4L132.4 459L132.8 461.7L133.3 459.5L133.7 457.4L134.1 459.8L134.5 461.3L134.9 457.6L135.3 462.4L135.7 457.8L136.1 460.8L136.5 459.6L137 458.5L137.4 459.2L137.8 459.2L138.2 456L138.6 459.7L139 459.6L139.4 458.9L139.8 459.8L140.2 457.8L140.7 458.9L141.1 461.1L141.5 461.1L141.9 460.2L142.3 459.1L142.7 458.8L143.1 460.5L143.5 457.7L143.9 457.9L144.4 459L144.8 457.5L145.2 457L145.6 461.1L146 456.9L146.4 449.1L146.8 452.4L147.2 446.1L147.7 452.8L148.1 450.6L148.5 447.6L148.9 449.7L149.3 447.5L149.7 445.9L150.1 448.2L150.5 447.3L150.9 448.3L151.4 452.7L151.8 449.2L152.2 453.2L152.6 449.1L153 443L153.4 446.5L153.8 453.6L154.2 452.1L154.6 449L155.1 447.6L155.5 451.2L155.9 449.1L156.3 450.6L156.7 445.3L157.1 448.7L157.5 451.1L157.9 447.1L158.3 451.9L158.8 449L159.2 447.7L159.6 446.1L160 452.3L160.4 444.3L160.8 453.4L161.2 447.5L161.6 447.9L162 450.1L162.5 450L162.9 449.2L163.3 451.3L163.7 448.2L164.1 449.8L164.5 445.7L164.9 448.8L165.3 449.4L165.7 447.2L166.2 450.8L166.6 446.2L167 444.6L167.4 444.9L167.8 450.8L168.2 447.8L168.6 450.1L169 444.9L169.4 447L169.9 446.3L170.3 448.9L170.7 450L171.1 471.8L171.5 471.9L171.9 471.8L172.3 471.7L172.7 471.7L173.2 471.6L173.6 471.9L174 471.8L174.4 471.6L174.8 471.6L175.2 471.7L175.6 471.7L176 471.8L176.4 471.6L176.9 471.8L177.3 471.8L177.7 471.9L178.1 471.9L178.5 471.6L178.9 471.6L179.3 472L179.7 471.9L180.1 471.8L180.6 471.8L181 471.8L181.4 471.6L181.8 471.8L182.2 471.8L182.6 471.6L183 471.7L183.4 471.8L183.8 471.9L184.3 471.8L184.7 471.7L185.1 471.6L185.5 471.9L185.9 471.8L186.3 471.8L186.7 471.8L187.1 471.6L187.5 471.8L188 471.9L188.4 471.9L188.8 471.6L189.2 471.9L189.6 471.7L190 472L190.4 471.9L190.8 472L191.2 471.6L191.7 471.9L192.1 471.9L192.5 472L192.9 471.9L193.3 471.7L193.7 471.7L194.1 471.6L194.5 471.6L194.9 471.8L195.4 471.6L195.8 471.9L196.2 471.4L196.6 471.7L197 471.9L197.4 471.5L197.8 471.4L198.2 471.7L198.7 471.9L199.1 471.4L199.5 471.5L199.9 471.6L200.3 471.4L200.7 472L201.1 472L201.5 471.9L201.9 472L202.4 471.5L202.8 471.6L203.2 471.9L203.6 471.9L204 471.9L204.4 471.6L204.8 471.6L205.2 471.4L205.6 471.8L206.1 471.4L206.5 471.7L206.9 471.7L207.3 471.8L207.7 471.8L208.1 471.4L208.5 471.3L208.9 471.5L209.3 471.9L209.8 471.9L210.2 471.9L210.6 471.8L211 471.5L211.4 472L211.8 471.7L212.2 471.6L212.6 472L213 471.7L213.5 471.5L213.9 471.6L214.3 471.7L214.7 471.4L215.1 471.6L215.5 471.8L215.9 471.7L216.3 471.4L216.7 471.4L217.2 471.4L217.6 471.6L218 471.9L218.4 471.9L218.8 471.7L219.2 471.5L219.6 472L220 471.5L220.5 468.8L220.9 470.1L221.3 470.1L221.7 470L222.1 470.3L222.5 469.5L222.9 469.5L223.3 469.6L223.7 469.3L224.2 470.1L224.6 469.9L225 470.1L225.4 469.6L225.8 469.2L226.2 468.4L226.6 470.2L227 469.8L227.4 469.9L227.9 469.8L228.3 469.2L228.7 469.1L229.1 469.5L229.5 469L229.9 469.4L230.3 469.8L230.7 470L231.1 469.8L231.6 469.7L232 470.7L232.4 469.9L232.8 469.5L233.2 469.7L233.6 470L234 469.1L234.4 469.3L234.8 470.1L235.3 469.3L235.7 469.4L236.1 469L236.5 468.7L236.9 469.3L237.3 469.4L237.7 469.8L238.1 470.4L238.5 469.7L239 468.8L239.4 469.4L239.8 469.2L240.2 470.1L240.6 469.6L241 469.6L241.4 470.4L241.8 469.8L242.2 470L242.7 469.2L243.1 469L243.5 469.6L243.9 470.2L244.3 470.1L244.7 470.4L245.1 464.5L245.5 465.3L246 464.6L246.4 464.4L246.8 464.4L247.2 465L247.6 465.6L248 466.3L248.4 464.3L248.8 463.3L249.2 464.5L249.7 462.7L250.1 464.1L250.5 464L250.9 465.5L251.3 464.6L251.7 464.8L252.1 464.3L252.5 463.8L252.9 464.3L253.4 463L253.8 466.9L254.2 462.5L254.6 464.8L255 464.6L255.4 466L255.8 462L256.2 462.4L256.6 461.6L257.1 464.8L257.5 462.8L257.9 464.6L258.3 463.4L258.7 463.7L259.1 464.4L259.5 464.1L259.9 462.1L260.3 464.5L260.8 465.6L261.2 463.9L261.6 465.5L262 466.2L262.4 464.9L262.8 465.1L263.2 465.1L263.6 464.4L264 463.7L264.5 465.3L264.9 465.6L265.3 465.6L265.7 463.5L266.1 464.9L266.5 464.9L266.9 466.9L267.3 465.2L267.7 465.6L268.2 466.2L268.6 466.8L269 465.7L269.4 465.8" fill="none" stroke="none" marker-start="url(#m)" marker-mid="url(#m)" marker-end="url(#m)"/></g>
<g><path d="M334.2 397.9V472M358.9 397.9V472M383.5 397.9V472M408.2 397.9V472M432.9 397.9V472M457.6 397.9V472M482.2 397.9V472M506.9 397.9V472" stroke="#e2e2e2" stroke-width="0.9" fill="none"/>
<rect x="309.5" y="397.9" width="222.1" height="74.1" fill="none" stroke="#404040" stroke-width="0.9"/>
<path d="M321.8 397.9v1.6M321.8 472v-1.6M346.5 397.9v1.6M346.5 472v-1.6M371.2 397.9v1.6M371.2 472v-1.6M395.9 397.9v1.6M395.9 472v-1.6M420.6 397.9v1.6M420.6 472v-1.6M445.2 397.9v1.6M445.2 472v-1.6M469.9 397.9v1.6M469.9 472v-1.6M494.6 397.9v1.6M494.6 472v-1.6M519.3 397.9v1.6M519.3 472v-1.6M309.5 427h1.6M531.6 427h-1.6" stroke="#404040" stroke-width="0.7" fill="none"/>
<path d="M362.4 472.5V470.7M362.8 472.5V470.8M364 472.5V470.7M365.2 472.5V470.4M365.6 472.5V470.7M366.1 472.5V470.7M366.9 472.5V470.4M367.7 472.5V470.7M368.1 472.5V469.7M368.9 472.5V470M369.3 472.5V470.9M369.8 472.5V469.7M370.2 472.5V470.8M370.6 472.5V470.8M371 472.5V470.1M371.4 472.5V469.8M371.8 472.5V470.6M372.2 472.5V470.1M372.6 472.5V469.3M373 472.5V468.5M373.5 472.5V468.5M373.9 472.5V469M374.3 472.5V469.3M374.7 472.5V470.1M375.1 472.5V467.7M375.5 472.5V465.4M375.9 472.5V468.1M376.3 472.5V466.9M376.7 472.5V467.9M377.2 472.5V465.2M377.6 472.5V466M378 472.5V468M378.4 472.5V466M378.8 472.5V465.9M379.2 472.5V466M379.6 472.5V467.5M380 472.5V467M380.4 472.5V469.3M380.9 472.5V468.5M381.3 472.5V467.4M381.7 472.5V468.1M382.1 472.5V467.3M382.5 472.5V468.5M382.9 472.5V466.5M383.3 472.5V468M383.7 472.5V464.7M384.2 472.5V461.7M384.6 472.5V461.1M385 472.5V460.8M385.4 472.5V463.5M385.8 472.5V462.1M386.2 472.5V460.9M386.6 472.5V460.9M387 472.5V464M387.4 472.5V461.5M387.9 472.5V461.7M388.3 472.5V459.5M388.7 472.5V461.8M389.1 472.5V459.3M389.5 472.5V460.3M389.9 472.5V461.8M390.3 472.5V460.3M390.7 472.5V461.5M391.1 472.5V460.8M391.6 472.5V462.8M392 472.5V462.3M392.4 472.5V460.3M392.8 472.5V460.9M393.2 472.5V460.4M393.6 472.5V461.1M394 472.5V462.1M394.4 472.5V461.6M394.8 472.5V461.5M395.3 472.5V462.8M395.7 472.5V460.9M396.1 472.5V459.4M396.5 472.5V460.9M396.9 472.5V462.4M397.3 472.5V460.6M397.7 472.5V462.9M398.1 472.5V458.5M398.5 472.5V461.3M399 472.5V460.4M399.4 472.5V461.7M399.8 472.5V459.3M400.2 472.5V460.4M400.6 472.5V459M401 472.5V462.5M401.4 472.5V460.8M401.8 472.5V457.6M402.2 472.5V459.2M402.7 472.5V459.6M403.1 472.5V461.7M403.5 472.5V459.8M403.9 472.5V459.4M404.3 472.5V461.3M404.7 472.5V459.2M405.1 472.5V460.4M405.5 472.5V457M405.9 472.5V456.7M406.4 472.5V461.9M406.8 472.5V459.7M407.2 472.5V460.6M407.6 472.5V457.3M408 472.5V462M408.4 472.5V459.4M408.8 472.5V458.5M409.2 472.5V458.3M409.7 472.5V456.9M410.1 472.5V458.5M410.5 472.5V459.4M410.9 472.5V458.9M411.3 472.5V461.5M411.7 472.5V459.4M412.1 472.5V460.9M412.5 472.5V458.8M412.9 472.5V458.5M413.4 472.5V456.2M413.8 472.5V460.6M414.2 472.5V457.2M414.6 472.5V461.2M415 472.5V457.5M415.4 472.5V458.2M415.8 472.5V457.3M416.2 472.5V457.4M416.6 472.5V460.7M417.1 472.5V458.3M417.5 472.5V462.6M417.9 472.5V457.9M418.3 472.5V456.9M418.7 472.5V457.7M419.1 472.5V457.6M419.5 472.5V457.1M419.9 472.5V460.6M420.3 472.5V460.1M420.8 472.5V461M421.2 472.5V456.8M421.6 472.5V458M422 472.5V456.7M422.4 472.5V456.9M422.8 472.5V458.2M423.2 472.5V456.8M423.6 472.5V457.4M424 472.5V457.1M424.5 472.5V457.6M424.9 472.5V458.3M425.3 472.5V458.7M425.7 472.5V459M426.1 472.5V456.8M426.5 472.5V459.5M426.9 472.5V459M427.3 472.5V456M427.7 472.5V457.8M428.2 472.5V455.6M428.6 472.5V456M429 472.5V456.2M429.4 472.5V457M429.8 472.5V458.7M430.2 472.5V454.4M430.6 472.5V455.9M431 472.5V459.9M431.4 472.5V456.7M431.9 472.5V455.9M432.3 472.5V459M432.7 472.5V455.5M482.5 472.5V470.4M482.9 472.5V470.8M483.3 472.5V470.5M483.7 472.5V469.8M484.1 472.5V470M484.5 472.5V470M484.9 472.5V469.2M485.3 472.5V469.8M485.7 472.5V469.6M486.2 472.5V470M486.6 472.5V470.6M487 472.5V470.3M487.4 472.5V469.8M487.8 472.5V470M488.2 472.5V470.2M488.6 472.5V469.4M489 472.5V469.3M489.4 472.5V470.2M489.9 472.5V469.9M490.3 472.5V470.4M490.7 472.5V470.4M491.1 472.5V469.8M491.5 472.5V469.4M491.9 472.5V470M492.3 472.5V470.2M492.7 472.5V470.6M493.1 472.5V470.3M493.6 472.5V470.3M494 472.5V470.3M494.4 472.5V470.1M494.8 472.5V469.8M495.2 472.5V470.3M495.6 472.5V469.9M496 472.5V470.3M496.4 472.5V470.8M496.8 472.5V470.4M497.3 472.5V469.8M497.7 472.5V470.4M498.1 472.5V470.1M498.5 472.5V469.8M498.9 472.5V469.8M499.3 472.5V469.6M499.7 472.5V470.6M500.1 472.5V470.3M500.5 472.5V470M501 472.5V469.8M501.4 472.5V469.9M501.8 472.5V469.9M502.2 472.5V470.4M502.6 472.5V470.1M503 472.5V470.1M503.4 472.5V470.4M504.2 472.5V469.8M504.7 472.5V470.1M505.1 472.5V470M505.5 472.5V470.5M505.9 472.5V470.4M506.3 472.5V470.1M506.7 472.5V470.3M507.1 472.5V469.4M507.5 472.5V468.8M508 472.5V468.7M508.4 472.5V468.1M508.8 472.5V468.3M509.2 472.5V468.8M509.6 472.5V469.1M510 472.5V468.2M510.4 472.5V468.7M510.8 472.5V469.2M511.2 472.5V467.7M511.7 472.5V467.8M512.1 472.5V468.3M512.5 472.5V468.6M512.9 472.5V468.8M513.3 472.5V469.1M513.7 472.5V468.2M514.1 472.5V467.3M514.5 472.5V468.5M514.9 472.5V468.1M515.4 472.5V467.5M515.8 472.5V468M516.2 472.5V468.6M516.6 472.5V469.1M517 472.5V468.6M517.4 472.5V468.8M517.8 472.5V467.9M518.2 472.5V466.9M518.6 472.5V468M519.1 472.5V468.8M519.5 472.5V468.4M519.9 472.5V468M520.3 472.5V468.5M520.7 472.5V468M521.1 472.5V468M521.5 472.5V467.5M521.9 472.5V467.3M522.3 472.5V468.7M522.8 472.5V468.6M523.2 472.5V469.3M523.6 472.5V468.4M524 472.5V467.5M524.4 472.5V467.8M524.8 472.5V469.4M525.2 472.5V468.9M525.6 472.5V468.3M526 472.5V469.3M526.5 472.5V469.4M526.9 472.5V468.7M527.3 472.5V468.6M527.7 472.5V468.8M528.1 472.5V468.1M528.5 472.5V468.7M528.9 472.5V469.2M529.3 472.5V469.4M529.7 472.5V468.7M530.2 472.5V469.4M530.6 472.5V469M531 472.5V468.6M531.4 472.5V467.8" stroke="#2F5BAA" stroke-width="1.1" fill="none"/>
<path d="M309.7 472L310.1 472L310.5 472L310.9 472L311.4 471.9L311.8 472L312.2 472L312.6 472L313 471.9L313.4 472L313.8 472L314.2 472L314.6 472L315.1 471.9L315.5 471.9L315.9 472L316.3 472L316.7 472L317.1 472L317.5 471.9L317.9 471.9L318.3 472L318.8 471.9L319.2 472L319.6 472L320 472L320.4 472L320.8 471.9L321.2 471.9L321.6 472L322 472L322.5 471.9L322.9 472L323.3 471.9L323.7 472L324.1 471.9L324.5 472L324.9 472L325.3 472L325.7 472L326.2 472L326.6 471.9L327 471.9L327.4 472L327.8 472L328.2 471.9L328.6 472L329 472L329.4 471.9L329.9 472L330.3 472L330.7 472L331.1 472L331.5 471.9L331.9 471.9L332.3 472L332.7 472L333.1 472L333.6 472L334 471.9L334.4 471.7L334.8 471.4L335.2 471.8L335.6 471.4L336 471.4L336.4 471.7L336.9 471.9L337.3 471.7L337.7 471.9L338.1 471.5L338.5 471.5L338.9 471.6L339.3 471.3L339.7 472L340.1 471.5L340.6 471.4L341 471.9L341.4 471.8L341.8 472L342.2 471.6L342.6 471.5L343 471.8L343.4 471.5L343.8 471.7L344.3 471.5L344.7 471.8L345.1 471.3L345.5 471.7L345.9 472L346.3 471.9L346.7 471.5L347.1 471.4L347.5 471.6L348 471.9L348.4 471.4L348.8 471.5L349.2 471.9L349.6 471.7L350 471.5L350.4 472L350.8 472L351.2 471.8L351.7 471.4L352.1 471.3L352.5 471.8L352.9 471.4L353.3 471.5L353.7 471.4L354.1 471.6L354.5 471.3L354.9 471.6L355.4 471.3L355.8 471.6L356.2 471.9L356.6 471.6L357 471.7L357.4 471.8L357.8 471.7L358.2 471.6L358.6 471.6L359.1 471.8L359.5 471.8L359.9 471.6L360.3 471.6L360.7 471.8L361.1 471.6L361.5 471.8L361.9 471L362.4 470.7L362.8 470.8L363.2 471.2L363.6 471.1L364 470.7L364.4 471L364.8 471.5L365.2 470.4L365.6 470.7L366.1 470.7L366.5 471L366.9 470.4L367.3 471.3L367.7 470.7L368.1 469.7L368.5 471.5L368.9 470L369.3 470.9L369.8 469.7L370.2 470.8L370.6 470.8L371 470.1L371.4 469.8L371.8 470.6L372.2 470.1L372.6 469.3L373 468.5L373.5 468.5L373.9 469L374.3 469.3L374.7 470.1L375.1 467.7L375.5 465.4L375.9 468.1L376.3 466.9L376.7 467.9L377.2 465.2L377.6 466L378 468L378.4 466L378.8 465.9L379.2 466L379.6 467.5L380 467L380.4 469.3L380.9 468.5L381.3 467.4L381.7 468.1L382.1 467.3L382.5 468.5L382.9 466.5L383.3 468L383.7 464.7L384.2 461.7L384.6 461.1L385 460.8L385.4 463.5L385.8 462.1L386.2 460.9L386.6 460.9L387 464L387.4 461.5L387.9 461.7L388.3 459.5L388.7 461.8L389.1 459.3L389.5 460.3L389.9 461.8L390.3 460.3L390.7 461.5L391.1 460.8L391.6 462.8L392 462.3L392.4 460.3L392.8 460.9L393.2 460.4L393.6 461.1L394 462.1L394.4 461.6L394.8 461.5L395.3 462.8L395.7 460.9L396.1 459.4L396.5 460.9L396.9 462.4L397.3 460.6L397.7 462.9L398.1 458.5L398.5 461.3L399 460.4L399.4 461.7L399.8 459.3L400.2 460.4L400.6 459L401 462.5L401.4 460.8L401.8 457.6L402.2 459.2L402.7 459.6L403.1 461.7L403.5 459.8L403.9 459.4L404.3 461.3L404.7 459.2L405.1 460.4L405.5 457L405.9 456.7L406.4 461.9L406.8 459.7L407.2 460.6L407.6 457.3L408 462L408.4 459.4L408.8 458.5L409.2 458.3L409.7 456.9L410.1 458.5L410.5 459.4L410.9 458.9L411.3 461.5L411.7 459.4L412.1 460.9L412.5 458.8L412.9 458.5L413.4 456.2L413.8 460.6L414.2 457.2L414.6 461.2L415 457.5L415.4 458.2L415.8 457.3L416.2 457.4L416.6 460.7L417.1 458.3L417.5 462.6L417.9 457.9L418.3 456.9L418.7 457.7L419.1 457.6L419.5 457.1L419.9 460.6L420.3 460.1L420.8 461L421.2 456.8L421.6 458L422 456.7L422.4 456.9L422.8 458.2L423.2 456.8L423.6 457.4L424 457.1L424.5 457.6L424.9 458.3L425.3 458.7L425.7 459L426.1 456.8L426.5 459.5L426.9 459L427.3 456L427.7 457.8L428.2 455.6L428.6 456L429 456.2L429.4 457L429.8 458.7L430.2 454.4L430.6 455.9L431 459.9L431.4 456.7L431.9 455.9L432.3 459L432.7 455.5L433.1 471.8L433.5 471.8L433.9 472L434.3 471.7L434.7 471.7L435.2 471.9L435.6 471.7L436 471.6L436.4 472L436.8 471.6L437.2 471.6L437.6 472L438 471.9L438.4 472L438.9 471.9L439.3 472L439.7 471.8L440.1 471.9L440.5 471.9L440.9 471.8L441.3 471.8L441.7 471.6L442.1 471.7L442.6 471.9L443 471.9L443.4 472L443.8 471.8L444.2 471.9L444.6 471.7L445 471.6L445.4 471.5L445.8 471.9L446.3 472L446.7 471.6L447.1 471.8L447.5 471.6L447.9 471.8L448.3 471.9L448.7 472L449.1 471.5L449.5 471.8L450 471.8L450.4 471.8L450.8 471.6L451.2 471.6L451.6 471.8L452 471.9L452.4 471.8L452.8 471.6L453.2 471.8L453.7 471.7L454.1 471.7L454.5 471.8L454.9 471.7L455.3 471.9L455.7 471.7L456.1 471.6L456.5 472L456.9 471.8L457.4 471.6L457.8 471.3L458.2 472L458.6 471.6L459 471.6L459.4 471.4L459.8 471.7L460.2 471.9L460.7 471.8L461.1 471.5L461.5 471.5L461.9 471.9L462.3 471.6L462.7 471.5L463.1 471.5L463.5 472L463.9 471.7L464.4 471.8L464.8 471.6L465.2 471.8L465.6 471.9L466 471.5L466.4 471.8L466.8 471.5L467.2 471.8L467.6 471.6L468.1 471.4L468.5 471.9L468.9 471.5L469.3 472L469.7 471.4L470.1 472L470.5 471.5L470.9 471.7L471.3 471.9L471.8 471.7L472.2 471.7L472.6 471.7L473 471.9L473.4 471.6L473.8 471.8L474.2 471.3L474.6 471.7L475 471.7L475.5 471.8L475.9 471.3L476.3 471.8L476.7 471.6L477.1 471.4L477.5 471.7L477.9 471.5L478.3 471.8L478.7 471.9L479.2 472L479.6 471.7L480 471.4L480.4 471.9L480.8 471.7L481.2 471.5L481.6 471.8L482 471.9L482.5 470.4L482.9 470.8L483.3 470.5L483.7 469.8L484.1 470L484.5 470L484.9 469.2L485.3 469.8L485.7 469.6L486.2 470L486.6 470.6L487 470.3L487.4 469.8L487.8 470L488.2 470.2L488.6 469.4L489 469.3L489.4 470.2L489.9 469.9L490.3 470.4L490.7 470.4L491.1 469.8L491.5 469.4L491.9 470L492.3 470.2L492.7 470.6L493.1 470.3L493.6 470.3L494 470.3L494.4 470.1L494.8 469.8L495.2 470.3L495.6 469.9L496 470.3L496.4 470.8L496.8 470.4L497.3 469.8L497.7 470.4L498.1 470.1L498.5 469.8L498.9 469.8L499.3 469.6L499.7 470.6L500.1 470.3L500.5 470L501 469.8L501.4 469.9L501.8 469.9L502.2 470.4L502.6 470.1L503 470.1L503.4 470.4L503.8 471L504.2 469.8L504.7 470.1L505.1 470L505.5 470.5L505.9 470.4L506.3 470.1L506.7 470.3L507.1 469.4L507.5 468.8L508 468.7L508.4 468.1L508.8 468.3L509.2 468.8L509.6 469.1L510 468.2L510.4 468.7L510.8 469.2L511.2 467.7L511.7 467.8L512.1 468.3L512.5 468.6L512.9 468.8L513.3 469.1L513.7 468.2L514.1 467.3L514.5 468.5L514.9 468.1L515.4 467.5L515.8 468L516.2 468.6L516.6 469.1L517 468.6L517.4 468.8L517.8 467.9L518.2 466.9L518.6 468L519.1 468.8L519.5 468.4L519.9 468L520.3 468.5L520.7 468L521.1 468L521.5 467.5L521.9 467.3L522.3 468.7L522.8 468.6L523.2 469.3L523.6 468.4L524 467.5L524.4 467.8L524.8 469.4L525.2 468.9L525.6 468.3L526 469.3L526.5 469.4L526.9 468.7L527.3 468.6L527.7 468.8L528.1 468.1L528.5 468.7L528.9 469.2L529.3 469.4L529.7 468.7L530.2 469.4L530.6 469L531 468.6L531.4 467.8" fill="none" stroke="none" marker-start="url(#m)" marker-mid="url(#m)" marker-end="url(#m)"/></g>
<g><path d="M72.2 526.4V602M96.9 526.4V602M121.5 526.4V602M146.2 526.4V602M170.9 526.4V602M195.6 526.4V602M220.2 526.4V602M244.9 526.4V602" stroke="#e2e2e2" stroke-width="0.9" fill="none"/>
<rect x="47.5" y="526.4" width="222.1" height="75.6" fill="none" stroke="#404040" stroke-width="0.9"/>
<path d="M59.8 526.4v1.6M59.8 602v-1.6M84.5 526.4v1.6M84.5 602v-1.6M109.2 526.4v1.6M109.2 602v-1.6M133.9 526.4v1.6M133.9 602v-1.6M158.6 526.4v1.6M158.6 602v-1.6M183.2 526.4v1.6M183.2 602v-1.6M207.9 526.4v1.6M207.9 602v-1.6M232.6 526.4v1.6M232.6 602v-1.6M257.3 526.4v1.6M257.3 602v-1.6M47.5 577h1.6M269.6 577h-1.6M47.5 552h1.6M269.6 552h-1.6" stroke="#404040" stroke-width="0.7" fill="none"/>
<path d="M99.9 602.5V601M100.4 602.5V600.2M100.8 602.5V600.3M101.6 602.5V601M102 602.5V600.5M102.4 602.5V600.9M102.8 602.5V600.9M103.2 602.5V601M103.6 602.5V600.2M104.1 602.5V600M104.5 602.5V600.1M104.9 602.5V600.8M105.3 602.5V600.5M105.7 602.5V600.7M106.1 602.5V600.5M106.5 602.5V600.4M106.9 602.5V600.4M107.3 602.5V599.8M107.8 602.5V599.6M108.2 602.5V599.1M108.6 602.5V600.2M109 602.5V599.9M109.4 602.5V599M109.8 602.5V599.3M110.2 602.5V599.5M110.6 602.5V599.3M111 602.5V599M111.5 602.5V599.3M111.9 602.5V599.8M112.3 602.5V599.8M112.7 602.5V600M113.1 602.5V599.8M113.5 602.5V597.3M113.9 602.5V599.4M114.3 602.5V599.6M114.7 602.5V599.8M115.2 602.5V599.6M115.6 602.5V599.3M116 602.5V599.4M116.4 602.5V599.5M116.8 602.5V599.4M117.2 602.5V599.1M117.6 602.5V599.5M118 602.5V599.1M118.4 602.5V600.1M118.9 602.5V599.6M119.3 602.5V599.6M119.7 602.5V598.7M120.1 602.5V599.7M120.5 602.5V599.5M120.9 602.5V599.2M121.3 602.5V599.6M121.7 602.5V593.7M122.2 602.5V595.5M122.6 602.5V595.4M123 602.5V596.7M123.4 602.5V595.5M123.8 602.5V593.3M124.2 602.5V595.4M124.6 602.5V596M125 602.5V594M125.4 602.5V595.8M125.9 602.5V595.2M126.3 602.5V592.3M126.7 602.5V594.8M127.1 602.5V594.7M127.5 602.5V594.7M127.9 602.5V595.4M128.3 602.5V595.1M128.7 602.5V595.7M129.1 602.5V595.4M129.6 602.5V595.8M130 602.5V596.2M130.4 602.5V594.4M130.8 602.5V594.9M131.2 602.5V595.1M131.6 602.5V596.2M132 602.5V595.2M132.4 602.5V594.9M132.8 602.5V595.4M133.3 602.5V595.1M133.7 602.5V596.2M134.1 602.5V596.2M134.5 602.5V595.2M134.9 602.5V594.9M135.3 602.5V593.3M135.7 602.5V596.5M136.1 602.5V595.8M136.5 602.5V594.4M137 602.5V595.7M137.4 602.5V596.4M137.8 602.5V595M138.2 602.5V595.4M138.6 602.5V594.8M139 602.5V595.8M139.4 602.5V595.8M139.8 602.5V594.7M140.2 602.5V595.4M140.7 602.5V594.5M141.1 602.5V594.3M141.5 602.5V594.3M141.9 602.5V594.1M142.3 602.5V595M142.7 602.5V595.2M143.1 602.5V595M143.5 602.5V596.6M143.9 602.5V594M144.4 602.5V596.1M144.8 602.5V593.4M145.2 602.5V596M145.6 602.5V595.2M146 602.5V591.6M146.4 602.5V591.3M146.8 602.5V591.5M147.2 602.5V591.3M147.7 602.5V590.6M148.1 602.5V591.4M148.5 602.5V594M148.9 602.5V594.6M149.3 602.5V592M149.7 602.5V593.5M150.1 602.5V592.3M150.5 602.5V591.7M150.9 602.5V592.2M151.4 602.5V594.4M151.8 602.5V588.1M152.2 602.5V592M152.6 602.5V593.8M153 602.5V593.7M153.4 602.5V590.7M153.8 602.5V595M154.2 602.5V593.5M154.6 602.5V591.5M155.1 602.5V592.1M155.5 602.5V590.7M155.9 602.5V594M156.3 602.5V592.3M156.7 602.5V592M157.1 602.5V592.2M157.5 602.5V591.6M157.9 602.5V593.9M158.3 602.5V595.3M158.8 602.5V591M159.2 602.5V592.4M159.6 602.5V590.1M160 602.5V590.3M160.4 602.5V591.5M160.8 602.5V592.5M161.2 602.5V591.2M161.6 602.5V592.3M162 602.5V592.7M162.5 602.5V593.4M162.9 602.5V591.4M163.3 602.5V589.8M163.7 602.5V591.9M164.1 602.5V593M164.5 602.5V592.2M164.9 602.5V591.7M165.3 602.5V591.9M165.7 602.5V592M166.2 602.5V593.9M166.6 602.5V586.4M167 602.5V589.6M167.4 602.5V591.7M167.8 602.5V592.1M168.2 602.5V592.7M168.6 602.5V592.3M169 602.5V591.8M169.4 602.5V587M169.9 602.5V590.3M170.3 602.5V587.2M170.7 602.5V593.1M195.8 602.5V600.4M196.2 602.5V600.3M196.6 602.5V600M197 602.5V600.6M197.4 602.5V600.3M197.8 602.5V600.6M198.2 602.5V600.8M198.7 602.5V600.6M199.1 602.5V600.2M199.5 602.5V599.2M199.9 602.5V600.2M200.3 602.5V600.4M200.7 602.5V600.4M201.1 602.5V600.6M201.5 602.5V600.6M201.9 602.5V600.3M202.4 602.5V600.8M202.8 602.5V599.8M203.2 602.5V599.8M203.6 602.5V600.2M204 602.5V601M204.4 602.5V600.6M204.8 602.5V600.7M205.2 602.5V600.6M205.6 602.5V600.2M206.1 602.5V600.5M206.5 602.5V600.2M206.9 602.5V600M207.3 602.5V600.4M207.7 602.5V601M208.1 602.5V600.9M208.5 602.5V600M208.9 602.5V600.4M209.3 602.5V599.9M209.8 602.5V600.4M210.2 602.5V600.2M210.6 602.5V600.4M211 602.5V600.5M211.4 602.5V600.5M212.2 602.5V600.4M212.6 602.5V599.7M213 602.5V600.2M213.5 602.5V600.5M213.9 602.5V600.6M214.3 602.5V600.3M214.7 602.5V600.9M215.1 602.5V600.8M215.5 602.5V600.9M215.9 602.5V600.2M216.3 602.5V600.3M216.7 602.5V600.5M217.2 602.5V600.7M217.6 602.5V600.3M218 602.5V600M218.4 602.5V600.6M218.8 602.5V600.6M219.2 602.5V600.4M219.6 602.5V600.3M220 602.5V600M220.5 602.5V595.3M220.9 602.5V596.6M221.3 602.5V596.7M221.7 602.5V595.5M222.1 602.5V595.7M222.5 602.5V595.9M222.9 602.5V596.3M223.3 602.5V595.9M223.7 602.5V592.5M224.2 602.5V596.4M224.6 602.5V596.3M225 602.5V596.5M225.4 602.5V595.4M225.8 602.5V595.7M226.2 602.5V596.6M226.6 602.5V595.7M227 602.5V595.8M227.4 602.5V593.9M227.9 602.5V596.2M228.3 602.5V596.5M228.7 602.5V596.1M229.1 602.5V596.3M229.5 602.5V595.9M229.9 602.5V594.9M230.3 602.5V595.8M230.7 602.5V597.3M231.1 602.5V596.5M231.6 602.5V593.7M232 602.5V595.3M232.4 602.5V596M232.8 602.5V596.3M233.2 602.5V596.1M233.6 602.5V596.7M234 602.5V597M234.4 602.5V597.2M234.8 602.5V596.1M235.3 602.5V596.3M235.7 602.5V596M236.1 602.5V596.7M236.5 602.5V595.5M236.9 602.5V597.6M237.3 602.5V596.7M237.7 602.5V597.8M238.1 602.5V596.3M238.5 602.5V597.8M239 602.5V596.9M239.4 602.5V596M239.8 602.5V596M240.2 602.5V596.8M240.6 602.5V595.8M241 602.5V596.6M241.4 602.5V595.8M241.8 602.5V598M242.2 602.5V596.8M242.7 602.5V597.4M243.1 602.5V595.9M243.5 602.5V596.5M243.9 602.5V597.5M244.3 602.5V597.5M244.7 602.5V596.8M245.1 602.5V586.3M245.5 602.5V588.7M246 602.5V590.8M246.4 602.5V587.3M246.8 602.5V588.5M247.2 602.5V585.5M247.6 602.5V588.4M248 602.5V588.2M248.4 602.5V587.9M248.8 602.5V584M249.2 602.5V585.2M249.7 602.5V590.4M250.1 602.5V588M250.5 602.5V588.7M250.9 602.5V588.7M251.3 602.5V588.6M251.7 602.5V587.7M252.1 602.5V589.7M252.5 602.5V589.8M252.9 602.5V585.9M253.4 602.5V587.3M253.8 602.5V588.9M254.2 602.5V580.3M254.6 602.5V587.4M255 602.5V585.8M255.4 602.5V586.6M255.8 602.5V586.7M256.2 602.5V587.3M256.6 602.5V584.5M257.1 602.5V586.6M257.5 602.5V585.6M257.9 602.5V589M258.3 602.5V588.5M258.7 602.5V587M259.1 602.5V589.9M259.5 602.5V591.4M259.9 602.5V585.3M260.3 602.5V585.6M260.8 602.5V591.5M261.2 602.5V588.1M261.6 602.5V587.4M262 602.5V582.3M262.4 602.5V587.6M262.8 602.5V590.2M263.2 602.5V588.4M263.6 602.5V590.8M264 602.5V590M264.5 602.5V584.5M264.9 602.5V589.4M265.3 602.5V588.9M265.7 602.5V589.7M266.1 602.5V586.6M266.5 602.5V587.6M266.9 602.5V594.4M267.3 602.5V587.7M267.7 602.5V590.8M268.2 602.5V590.2M268.6 602.5V587.8M269 602.5V587.8M269.4 602.5V590.2" stroke="#2F5BAA" stroke-width="1.1" fill="none"/>
<path d="M47.7 602L48.1 601.8L48.5 601.7L48.9 601.7L49.4 601.8L49.8 602L50.2 601.7L50.6 601.8L51 601.9L51.4 601.7L51.8 601.8L52.2 601.7L52.6 601.9L53.1 601.8L53.5 601.9L53.9 601.9L54.3 601.8L54.7 601.8L55.1 601.9L55.5 601.8L55.9 601.7L56.3 601.8L56.8 601.7L57.2 601.8L57.6 601.7L58 602L58.4 601.9L58.8 601.8L59.2 601.8L59.6 601.7L60 601.8L60.5 601.9L60.9 601.8L61.3 601.8L61.7 601.8L62.1 601.7L62.5 602L62.9 601.9L63.3 601.7L63.7 602L64.2 601.8L64.6 602L65 601.8L65.4 601.8L65.8 601.9L66.2 601.9L66.6 601.9L67 601.8L67.4 601.8L67.9 601.8L68.3 601.9L68.7 601.8L69.1 601.7L69.5 601.8L69.9 601.7L70.3 601.9L70.7 601.8L71.1 601.9L71.6 601.9L72 601.8L72.4 601.9L72.8 601.7L73.2 601.6L73.6 601.5L74 602L74.4 601.9L74.9 601.7L75.3 601.5L75.7 601.9L76.1 601.5L76.5 601.8L76.9 601.7L77.3 601.5L77.7 602L78.1 601.8L78.6 601.9L79 601.9L79.4 601.8L79.8 601.6L80.2 601.7L80.6 601.9L81 601.6L81.4 601.7L81.8 601.9L82.3 601.6L82.7 601.6L83.1 601.9L83.5 601.5L83.9 601.6L84.3 601.9L84.7 602L85.1 601.5L85.5 601.6L86 601.9L86.4 601.6L86.8 601.6L87.2 601.7L87.6 601.6L88 601.5L88.4 601.8L88.8 601.5L89.2 601.5L89.7 601.8L90.1 601.6L90.5 601.6L90.9 601.5L91.3 601.7L91.7 601.9L92.1 601.9L92.5 601.7L92.9 601.9L93.4 601.5L93.8 601.5L94.2 601.9L94.6 601.6L95 601.6L95.4 601.9L95.8 601.6L96.2 601.6L96.6 601.8L97.1 601.9L97.5 601.8L97.9 601.4L98.3 601.7L98.7 601.4L99.1 601.9L99.5 601.9L99.9 601L100.4 600.2L100.8 600.3L101.2 601L101.6 601L102 600.5L102.4 600.9L102.8 600.9L103.2 601L103.6 600.2L104.1 600L104.5 600.1L104.9 600.8L105.3 600.5L105.7 600.7L106.1 600.5L106.5 600.4L106.9 600.4L107.3 599.8L107.8 599.6L108.2 599.1L108.6 600.2L109 599.9L109.4 599L109.8 599.3L110.2 599.5L110.6 599.3L111 599L111.5 599.3L111.9 599.8L112.3 599.8L112.7 600L113.1 599.8L113.5 597.3L113.9 599.4L114.3 599.6L114.7 599.8L115.2 599.6L115.6 599.3L116 599.4L116.4 599.5L116.8 599.4L117.2 599.1L117.6 599.5L118 599.1L118.4 600.1L118.9 599.6L119.3 599.6L119.7 598.7L120.1 599.7L120.5 599.5L120.9 599.2L121.3 599.6L121.7 593.7L122.2 595.5L122.6 595.4L123 596.7L123.4 595.5L123.8 593.3L124.2 595.4L124.6 596L125 594L125.4 595.8L125.9 595.2L126.3 592.3L126.7 594.8L127.1 594.7L127.5 594.7L127.9 595.4L128.3 595.1L128.7 595.7L129.1 595.4L129.6 595.8L130 596.2L130.4 594.4L130.8 594.9L131.2 595.1L131.6 596.2L132 595.2L132.4 594.9L132.8 595.4L133.3 595.1L133.7 596.2L134.1 596.2L134.5 595.2L134.9 594.9L135.3 593.3L135.7 596.5L136.1 595.8L136.5 594.4L137 595.7L137.4 596.4L137.8 595L138.2 595.4L138.6 594.8L139 595.8L139.4 595.8L139.8 594.7L140.2 595.4L140.7 594.5L141.1 594.3L141.5 594.3L141.9 594.1L142.3 595L142.7 595.2L143.1 595L143.5 596.6L143.9 594L144.4 596.1L144.8 593.4L145.2 596L145.6 595.2L146 591.6L146.4 591.3L146.8 591.5L147.2 591.3L147.7 590.6L148.1 591.4L148.5 594L148.9 594.6L149.3 592L149.7 593.5L150.1 592.3L150.5 591.7L150.9 592.2L151.4 594.4L151.8 588.1L152.2 592L152.6 593.8L153 593.7L153.4 590.7L153.8 595L154.2 593.5L154.6 591.5L155.1 592.1L155.5 590.7L155.9 594L156.3 592.3L156.7 592L157.1 592.2L157.5 591.6L157.9 593.9L158.3 595.3L158.8 591L159.2 592.4L159.6 590.1L160 590.3L160.4 591.5L160.8 592.5L161.2 591.2L161.6 592.3L162 592.7L162.5 593.4L162.9 591.4L163.3 589.8L163.7 591.9L164.1 593L164.5 592.2L164.9 591.7L165.3 591.9L165.7 592L166.2 593.9L166.6 586.4L167 589.6L167.4 591.7L167.8 592.1L168.2 592.7L168.6 592.3L169 591.8L169.4 587L169.9 590.3L170.3 587.2L170.7 593.1L171.1 601.6L171.5 601.9L171.9 601.6L172.3 601.4L172.7 601.9L173.2 601.3L173.6 601.7L174 601.8L174.4 601.8L174.8 601.7L175.2 601.5L175.6 601.6L176 601.3L176.4 601.6L176.9 601.6L177.3 601.3L177.7 601.8L178.1 602L178.5 601.8L178.9 601.8L179.3 601.9L179.7 601.7L180.1 602L180.6 601.3L181 601.6L181.4 601.3L181.8 601.5L182.2 601.5L182.6 601.4L183 601.8L183.4 601.5L183.8 601.8L184.3 601.6L184.7 601.6L185.1 601.4L185.5 601.9L185.9 601.7L186.3 601.4L186.7 601.4L187.1 601.3L187.5 601.9L188 601.8L188.4 601.9L188.8 601.5L189.2 601.4L189.6 601.5L190 601.4L190.4 601.6L190.8 601.6L191.2 601.3L191.7 601.5L192.1 601.5L192.5 601.6L192.9 601.6L193.3 601.4L193.7 601.6L194.1 601.9L194.5 601.7L194.9 601.7L195.4 601.7L195.8 600.4L196.2 600.3L196.6 600L197 600.6L197.4 600.3L197.8 600.6L198.2 600.8L198.7 600.6L199.1 600.2L199.5 599.2L199.9 600.2L200.3 600.4L200.7 600.4L201.1 600.6L201.5 600.6L201.9 600.3L202.4 600.8L202.8 599.8L203.2 599.8L203.6 600.2L204 601L204.4 600.6L204.8 600.7L205.2 600.6L205.6 600.2L206.1 600.5L206.5 600.2L206.9 600L207.3 600.4L207.7 601L208.1 600.9L208.5 600L208.9 600.4L209.3 599.9L209.8 600.4L210.2 600.2L210.6 600.4L211 600.5L211.4 600.5L211.8 601L212.2 600.4L212.6 599.7L213 600.2L213.5 600.5L213.9 600.6L214.3 600.3L214.7 600.9L215.1 600.8L215.5 600.9L215.9 600.2L216.3 600.3L216.7 600.5L217.2 600.7L217.6 600.3L218 600L218.4 600.6L218.8 600.6L219.2 600.4L219.6 600.3L220 600L220.5 595.3L220.9 596.6L221.3 596.7L221.7 595.5L222.1 595.7L222.5 595.9L222.9 596.3L223.3 595.9L223.7 592.5L224.2 596.4L224.6 596.3L225 596.5L225.4 595.4L225.8 595.7L226.2 596.6L226.6 595.7L227 595.8L227.4 593.9L227.9 596.2L228.3 596.5L228.7 596.1L229.1 596.3L229.5 595.9L229.9 594.9L230.3 595.8L230.7 597.3L231.1 596.5L231.6 593.7L232 595.3L232.4 596L232.8 596.3L233.2 596.1L233.6 596.7L234 597L234.4 597.2L234.8 596.1L235.3 596.3L235.7 596L236.1 596.7L236.5 595.5L236.9 597.6L237.3 596.7L237.7 597.8L238.1 596.3L238.5 597.8L239 596.9L239.4 596L239.8 596L240.2 596.8L240.6 595.8L241 596.6L241.4 595.8L241.8 598L242.2 596.8L242.7 597.4L243.1 595.9L243.5 596.5L243.9 597.5L244.3 597.5L244.7 596.8L245.1 586.3L245.5 588.7L246 590.8L246.4 587.3L246.8 588.5L247.2 585.5L247.6 588.4L248 588.2L248.4 587.9L248.8 584L249.2 585.2L249.7 590.4L250.1 588L250.5 588.7L250.9 588.7L251.3 588.6L251.7 587.7L252.1 589.7L252.5 589.8L252.9 585.9L253.4 587.3L253.8 588.9L254.2 580.3L254.6 587.4L255 585.8L255.4 586.6L255.8 586.7L256.2 587.3L256.6 584.5L257.1 586.6L257.5 585.6L257.9 589L258.3 588.5L258.7 587L259.1 589.9L259.5 591.4L259.9 585.3L260.3 585.6L260.8 591.5L261.2 588.1L261.6 587.4L262 582.3L262.4 587.6L262.8 590.2L263.2 588.4L263.6 590.8L264 590L264.5 584.5L264.9 589.4L265.3 588.9L265.7 589.7L266.1 586.6L266.5 587.6L266.9 594.4L267.3 587.7L267.7 590.8L268.2 590.2L268.6 587.8L269 587.8L269.4 590.2" fill="none" stroke="none" marker-start="url(#m)" marker-mid="url(#m)" marker-end="url(#m)"/></g>
<g><path d="M334.2 526.4V602M358.9 526.4V602M383.5 526.4V602M408.2 526.4V602M432.9 526.4V602M457.6 526.4V602M482.2 526.4V602M506.9 526.4V602" stroke="#e2e2e2" stroke-width="0.9" fill="none"/>
<rect x="309.5" y="526.4" width="222.1" height="75.6" fill="none" stroke="#404040" stroke-width="0.9"/>
<path d="M321.8 526.4v1.6M321.8 602v-1.6M346.5 526.4v1.6M346.5 602v-1.6M371.2 526.4v1.6M371.2 602v-1.6M395.9 526.4v1.6M395.9 602v-1.6M420.6 526.4v1.6M420.6 602v-1.6M445.2 526.4v1.6M445.2 602v-1.6M469.9 526.4v1.6M469.9 602v-1.6M494.6 526.4v1.6M494.6 602v-1.6M519.3 526.4v1.6M519.3 602v-1.6M309.5 557h1.6M531.6 557h-1.6" stroke="#404040" stroke-width="0.7" fill="none"/>
<path d="M377.6 602.5V600.7M378 602.5V600.9M380.9 602.5V600.7M381.3 602.5V600.5M381.7 602.5V600.7M383.3 602.5V600.1M383.7 602.5V598.1M384.2 602.5V597.8M384.6 602.5V598.5M385 602.5V597.8M385.4 602.5V599.1M385.8 602.5V599.2M386.2 602.5V598.5M386.6 602.5V598.2M387 602.5V598.9M387.4 602.5V598.5M387.9 602.5V599.2M388.3 602.5V598.4M388.7 602.5V599M389.1 602.5V598.8M389.5 602.5V598.2M389.9 602.5V598M390.3 602.5V599.2M390.7 602.5V597.8M391.1 602.5V598.1M391.6 602.5V598.7M392 602.5V598.8M392.4 602.5V598.7M392.8 602.5V598.8M393.2 602.5V598.1M393.6 602.5V597.8M394 602.5V598.4M394.4 602.5V598M394.8 602.5V598M395.3 602.5V598.5M395.7 602.5V598.9M396.1 602.5V598.6M396.5 602.5V598.5M396.9 602.5V598.3M397.3 602.5V598.2M397.7 602.5V598.5M398.1 602.5V598M398.5 602.5V598.6M399 602.5V598.7M399.4 602.5V598.3M399.8 602.5V598.9M400.2 602.5V598.1M400.6 602.5V597.9M401 602.5V597.9M401.4 602.5V597.8M401.8 602.5V597.9M402.2 602.5V598.3M402.7 602.5V598.5M403.1 602.5V598.9M403.5 602.5V599.3M403.9 602.5V597.8M404.3 602.5V597.9M404.7 602.5V597.7M405.1 602.5V598.5M405.5 602.5V597.8M405.9 602.5V598.4M406.4 602.5V598.1M406.8 602.5V598.4M407.2 602.5V598.7M407.6 602.5V597.7M408 602.5V597.5M408.4 602.5V597.8M408.8 602.5V598.2M409.2 602.5V598.4M409.7 602.5V598.1M410.1 602.5V597.7M410.5 602.5V598M410.9 602.5V598.4M411.3 602.5V597.8M411.7 602.5V598.3M412.1 602.5V597.2M412.5 602.5V598.5M412.9 602.5V598.6M413.4 602.5V597.4M413.8 602.5V597.5M414.2 602.5V596.6M414.6 602.5V597.7M415 602.5V597.6M415.4 602.5V597.6M415.8 602.5V596.9M416.2 602.5V597.7M416.6 602.5V598.6M417.1 602.5V597.7M417.5 602.5V597.4M417.9 602.5V596.9M418.3 602.5V598.1M418.7 602.5V597.9M419.1 602.5V597.5M419.5 602.5V598M419.9 602.5V599M420.3 602.5V597.6M420.8 602.5V597.6M421.2 602.5V596.9M421.6 602.5V597M422 602.5V598.4M422.4 602.5V597.8M422.8 602.5V598.3M423.2 602.5V596.9M423.6 602.5V597.2M424 602.5V597.5M424.5 602.5V596.4M424.9 602.5V596.1M425.3 602.5V596.4M425.7 602.5V597.8M426.1 602.5V597.5M426.5 602.5V596.6M426.9 602.5V596.6M427.3 602.5V596.3M427.7 602.5V597.3M428.2 602.5V596.6M428.6 602.5V596.8M429 602.5V597.2M429.4 602.5V597.4M429.8 602.5V597.8M430.2 602.5V596.9M430.6 602.5V597.4M431 602.5V595.4M431.4 602.5V595.8M431.9 602.5V597.1M432.3 602.5V597.2M432.7 602.5V597M433.1 602.5V599.4M433.5 602.5V600.2M433.9 602.5V599.1M434.3 602.5V599.3M434.7 602.5V599.6M435.2 602.5V599.9M435.6 602.5V600.2M436 602.5V600.2M436.4 602.5V599.9M436.8 602.5V599.9M437.2 602.5V599.7M437.6 602.5V599.6M438 602.5V600.2M438.4 602.5V599.6M438.9 602.5V600.4M439.3 602.5V600.6M439.7 602.5V600.5M440.1 602.5V600.4M440.5 602.5V599.3M440.9 602.5V600.2M441.3 602.5V600.4M441.7 602.5V600.6M442.1 602.5V600M442.6 602.5V600.6M443 602.5V600.8M443.4 602.5V600.9M443.8 602.5V600.2M444.2 602.5V600M444.6 602.5V600.3M445 602.5V600.4M445.8 602.5V600.3M446.3 602.5V600.9M446.7 602.5V600.5M447.1 602.5V600.5M447.5 602.5V599.8M447.9 602.5V600.8M448.3 602.5V600.8M448.7 602.5V600.8M449.5 602.5V600.8M450 602.5V600.3M450.4 602.5V600.7M450.8 602.5V600.8M451.2 602.5V600.8M451.6 602.5V600.4M452 602.5V600.5M453.2 602.5V600.2M453.7 602.5V600.4M454.5 602.5V600.5M455.7 602.5V600.9M456.9 602.5V601M457.4 602.5V600.7M457.8 602.5V595.6M458.2 602.5V596.2M458.6 602.5V596.2M459 602.5V597.4M459.4 602.5V596.4M459.8 602.5V596.2M460.2 602.5V596.9M460.7 602.5V596.3M461.1 602.5V596M461.5 602.5V597.3M461.9 602.5V597.7M462.3 602.5V597.4M462.7 602.5V597.2M463.1 602.5V597.3M463.5 602.5V596.2M463.9 602.5V596.6M464.4 602.5V597.9M464.8 602.5V597.6M465.2 602.5V596.9M465.6 602.5V597.7M466 602.5V597.5M466.4 602.5V598.3M466.8 602.5V596.5M467.2 602.5V598M467.6 602.5V596.9M468.1 602.5V597M468.5 602.5V597.7M468.9 602.5V597.9M469.3 602.5V597.7M469.7 602.5V598M470.1 602.5V597.5M470.5 602.5V596.9M470.9 602.5V597.7M471.3 602.5V597.2M471.8 602.5V598.8M472.2 602.5V597.8M472.6 602.5V596.9M473 602.5V597.3M473.4 602.5V597.1M473.8 602.5V596.2M474.2 602.5V597M474.6 602.5V596M475 602.5V596.4M475.5 602.5V596.6M475.9 602.5V595.9M476.3 602.5V596.5M476.7 602.5V594.3M477.1 602.5V595.4M477.5 602.5V596.2M477.9 602.5V596.8M478.3 602.5V594.8M478.7 602.5V596.8M479.2 602.5V595.8M479.6 602.5V595.7M480 602.5V594.9M480.4 602.5V594.1M480.8 602.5V593.7M481.2 602.5V596.3M481.6 602.5V595.2M482 602.5V593.9M482.5 602.5V593.5M482.9 602.5V590.6M483.3 602.5V595M483.7 602.5V590.3M484.1 602.5V593.1M484.5 602.5V595.4M484.9 602.5V593.4M485.3 602.5V592.4M485.7 602.5V593M486.2 602.5V591.7M486.6 602.5V591.5M487 602.5V592.4M487.4 602.5V592.7M487.8 602.5V592M488.2 602.5V591.2M488.6 602.5V593.6M489 602.5V592.5M489.4 602.5V592.3M489.9 602.5V593.6M490.3 602.5V591.6M490.7 602.5V592.1M491.1 602.5V592.9M491.5 602.5V593.7M491.9 602.5V592.9M492.3 602.5V591.9M492.7 602.5V591.4M493.1 602.5V591M493.6 602.5V592.6M494 602.5V592.3M494.4 602.5V594.2M494.8 602.5V593M495.2 602.5V595.2M495.6 602.5V592.9M496 602.5V593.2M496.4 602.5V594.9M496.8 602.5V593.5M497.3 602.5V591.2M497.7 602.5V592.9M498.1 602.5V594.3M498.5 602.5V593.5M498.9 602.5V593.4M499.3 602.5V593.4M499.7 602.5V593.2M500.1 602.5V591.7M500.5 602.5V593.9M501 602.5V593.1M501.4 602.5V593.3M501.8 602.5V592.1M502.2 602.5V593.6M502.6 602.5V593.3M503 602.5V593.4M503.4 602.5V593M503.8 602.5V594.5M504.2 602.5V592.2M504.7 602.5V592.7M505.1 602.5V594.5M505.5 602.5V594M505.9 602.5V594.3M506.3 602.5V593.2M506.7 602.5V592.7M507.1 602.5V587.4M507.5 602.5V589.1M508 602.5V587.9M508.4 602.5V591.9M508.8 602.5V587.8M509.2 602.5V589.5M509.6 602.5V586.5M510 602.5V587.4M510.4 602.5V585.4M510.8 602.5V584.4M511.2 602.5V586M511.7 602.5V587.1M512.1 602.5V589.7M512.5 602.5V588.4M512.9 602.5V587.2M513.3 602.5V585.7M513.7 602.5V584.4M514.1 602.5V585.4M514.5 602.5V583.6M514.9 602.5V584M515.4 602.5V585M515.8 602.5V586.4M516.2 602.5V584.5M516.6 602.5V586.7M517 602.5V586.2M517.4 602.5V585.1M517.8 602.5V587.2M518.2 602.5V587.2M518.6 602.5V588.4M519.1 602.5V585.7M519.5 602.5V585.5M519.9 602.5V586.8M520.3 602.5V584.5M520.7 602.5V588.2M521.1 602.5V586.2M521.5 602.5V588.5M521.9 602.5V585M522.3 602.5V584.5M522.8 602.5V586.7M523.2 602.5V588.7M523.6 602.5V585.5M524 602.5V584.2M524.4 602.5V587.4M524.8 602.5V587.5M525.2 602.5V589.8M525.6 602.5V587.8M526 602.5V587.7M526.5 602.5V587M526.9 602.5V587M527.3 602.5V587.5M527.7 602.5V588.3M528.1 602.5V588.6M528.5 602.5V587.9M528.9 602.5V588.8M529.3 602.5V592.7M529.7 602.5V588.2M530.2 602.5V585.5M530.6 602.5V588M531 602.5V590.4M531.4 602.5V590.2" stroke="#2F5BAA" stroke-width="1.1" fill="none"/>
<path d="M309.7 602L310.1 601.9L310.5 601.9L310.9 601.9L311.4 601.9L311.8 602L312.2 602L312.6 601.9L313 602L313.4 601.9L313.8 601.9L314.2 601.9L314.6 601.9L315.1 601.9L315.5 601.9L315.9 602L316.3 601.9L316.7 602L317.1 601.9L317.5 601.9L317.9 602L318.3 601.9L318.8 601.9L319.2 602L319.6 601.9L320 601.9L320.4 602L320.8 601.9L321.2 602L321.6 601.9L322 601.9L322.5 602L322.9 602L323.3 601.9L323.7 601.9L324.1 601.9L324.5 601.9L324.9 601.9L325.3 601.9L325.7 601.9L326.2 602L326.6 601.9L327 601.9L327.4 601.9L327.8 601.9L328.2 601.9L328.6 601.9L329 601.9L329.4 601.9L329.9 602L330.3 601.9L330.7 602L331.1 601.9L331.5 601.9L331.9 602L332.3 601.9L332.7 601.9L333.1 602L333.6 601.9L334 601.9L334.4 601.8L334.8 602L335.2 602L335.6 601.7L336 601.9L336.4 601.9L336.9 601.7L337.3 601.7L337.7 601.7L338.1 601.9L338.5 602L338.9 601.7L339.3 601.8L339.7 601.9L340.1 602L340.6 601.8L341 601.9L341.4 601.8L341.8 601.6L342.2 601.9L342.6 602L343 601.7L343.4 602L343.8 601.9L344.3 601.8L344.7 601.6L345.1 601.9L345.5 601.9L345.9 601.8L346.3 601.9L346.7 601.8L347.1 601.7L347.5 601.9L348 601.7L348.4 601.9L348.8 602L349.2 601.8L349.6 601.8L350 601.6L350.4 602L350.8 601.7L351.2 601.7L351.7 601.9L352.1 601.9L352.5 601.8L352.9 601.7L353.3 601.8L353.7 601.8L354.1 601.7L354.5 601.8L354.9 601.8L355.4 601.9L355.8 601.8L356.2 601.8L356.6 601.7L357 601.6L357.4 601.8L357.8 601.9L358.2 601.9L358.6 601.8L359.1 601.6L359.5 601.9L359.9 601.7L360.3 601.5L360.7 601.8L361.1 601.5L361.5 601.8L361.9 601.6L362.4 601.5L362.8 601.9L363.2 601.8L363.6 601.4L364 602L364.4 601.8L364.8 601.7L365.2 601.6L365.6 601.6L366.1 601.4L366.5 601.6L366.9 602L367.3 602L367.7 602L368.1 601.7L368.5 602L368.9 601.6L369.3 601.6L369.8 601.9L370.2 601.4L370.6 601.7L371 601.3L371.4 601.7L371.8 601.5L372.2 601.6L372.6 601.8L373 601.4L373.5 602L373.9 601.8L374.3 601.7L374.7 601.3L375.1 601.6L375.5 602L375.9 601.8L376.3 601.7L376.7 601.6L377.2 601.9L377.6 600.7L378 600.9L378.4 601.6L378.8 601.2L379.2 601.2L379.6 601.1L380 601.4L380.4 601.3L380.9 600.7L381.3 600.5L381.7 600.7L382.1 601.1L382.5 601.6L382.9 601.1L383.3 600.1L383.7 598.1L384.2 597.8L384.6 598.5L385 597.8L385.4 599.1L385.8 599.2L386.2 598.5L386.6 598.2L387 598.9L387.4 598.5L387.9 599.2L388.3 598.4L388.7 599L389.1 598.8L389.5 598.2L389.9 598L390.3 599.2L390.7 597.8L391.1 598.1L391.6 598.7L392 598.8L392.4 598.7L392.8 598.8L393.2 598.1L393.6 597.8L394 598.4L394.4 598L394.8 598L395.3 598.5L395.7 598.9L396.1 598.6L396.5 598.5L396.9 598.3L397.3 598.2L397.7 598.5L398.1 598L398.5 598.6L399 598.7L399.4 598.3L399.8 598.9L400.2 598.1L400.6 597.9L401 597.9L401.4 597.8L401.8 597.9L402.2 598.3L402.7 598.5L403.1 598.9L403.5 599.3L403.9 597.8L404.3 597.9L404.7 597.7L405.1 598.5L405.5 597.8L405.9 598.4L406.4 598.1L406.8 598.4L407.2 598.7L407.6 597.7L408 597.5L408.4 597.8L408.8 598.2L409.2 598.4L409.7 598.1L410.1 597.7L410.5 598L410.9 598.4L411.3 597.8L411.7 598.3L412.1 597.2L412.5 598.5L412.9 598.6L413.4 597.4L413.8 597.5L414.2 596.6L414.6 597.7L415 597.6L415.4 597.6L415.8 596.9L416.2 597.7L416.6 598.6L417.1 597.7L417.5 597.4L417.9 596.9L418.3 598.1L418.7 597.9L419.1 597.5L419.5 598L419.9 599L420.3 597.6L420.8 597.6L421.2 596.9L421.6 597L422 598.4L422.4 597.8L422.8 598.3L423.2 596.9L423.6 597.2L424 597.5L424.5 596.4L424.9 596.1L425.3 596.4L425.7 597.8L426.1 597.5L426.5 596.6L426.9 596.6L427.3 596.3L427.7 597.3L428.2 596.6L428.6 596.8L429 597.2L429.4 597.4L429.8 597.8L430.2 596.9L430.6 597.4L431 595.4L431.4 595.8L431.9 597.1L432.3 597.2L432.7 597L433.1 599.4L433.5 600.2L433.9 599.1L434.3 599.3L434.7 599.6L435.2 599.9L435.6 600.2L436 600.2L436.4 599.9L436.8 599.9L437.2 599.7L437.6 599.6L438 600.2L438.4 599.6L438.9 600.4L439.3 600.6L439.7 600.5L440.1 600.4L440.5 599.3L440.9 600.2L441.3 600.4L441.7 600.6L442.1 600L442.6 600.6L443 600.8L443.4 600.9L443.8 600.2L444.2 600L444.6 600.3L445 600.4L445.4 601.2L445.8 600.3L446.3 600.9L446.7 600.5L447.1 600.5L447.5 599.8L447.9 600.8L448.3 600.8L448.7 600.8L449.1 601.6L449.5 600.8L450 600.3L450.4 600.7L450.8 600.8L451.2 600.8L451.6 600.4L452 600.5L452.4 601.4L452.8 601.1L453.2 600.2L453.7 600.4L454.1 601.2L454.5 600.5L454.9 601.9L455.3 601.1L455.7 600.9L456.1 601.1L456.5 601L456.9 601L457.4 600.7L457.8 595.6L458.2 596.2L458.6 596.2L459 597.4L459.4 596.4L459.8 596.2L460.2 596.9L460.7 596.3L461.1 596L461.5 597.3L461.9 597.7L462.3 597.4L462.7 597.2L463.1 597.3L463.5 596.2L463.9 596.6L464.4 597.9L464.8 597.6L465.2 596.9L465.6 597.7L466 597.5L466.4 598.3L466.8 596.5L467.2 598L467.6 596.9L468.1 597L468.5 597.7L468.9 597.9L469.3 597.7L469.7 598L470.1 597.5L470.5 596.9L470.9 597.7L471.3 597.2L471.8 598.8L472.2 597.8L472.6 596.9L473 597.3L473.4 597.1L473.8 596.2L474.2 597L474.6 596L475 596.4L475.5 596.6L475.9 595.9L476.3 596.5L476.7 594.3L477.1 595.4L477.5 596.2L477.9 596.8L478.3 594.8L478.7 596.8L479.2 595.8L479.6 595.7L480 594.9L480.4 594.1L480.8 593.7L481.2 596.3L481.6 595.2L482 593.9L482.5 593.5L482.9 590.6L483.3 595L483.7 590.3L484.1 593.1L484.5 595.4L484.9 593.4L485.3 592.4L485.7 593L486.2 591.7L486.6 591.5L487 592.4L487.4 592.7L487.8 592L488.2 591.2L488.6 593.6L489 592.5L489.4 592.3L489.9 593.6L490.3 591.6L490.7 592.1L491.1 592.9L491.5 593.7L491.9 592.9L492.3 591.9L492.7 591.4L493.1 591L493.6 592.6L494 592.3L494.4 594.2L494.8 593L495.2 595.2L495.6 592.9L496 593.2L496.4 594.9L496.8 593.5L497.3 591.2L497.7 592.9L498.1 594.3L498.5 593.5L498.9 593.4L499.3 593.4L499.7 593.2L500.1 591.7L500.5 593.9L501 593.1L501.4 593.3L501.8 592.1L502.2 593.6L502.6 593.3L503 593.4L503.4 593L503.8 594.5L504.2 592.2L504.7 592.7L505.1 594.5L505.5 594L505.9 594.3L506.3 593.2L506.7 592.7L507.1 587.4L507.5 589.1L508 587.9L508.4 591.9L508.8 587.8L509.2 589.5L509.6 586.5L510 587.4L510.4 585.4L510.8 584.4L511.2 586L511.7 587.1L512.1 589.7L512.5 588.4L512.9 587.2L513.3 585.7L513.7 584.4L514.1 585.4L514.5 583.6L514.9 584L515.4 585L515.8 586.4L516.2 584.5L516.6 586.7L517 586.2L517.4 585.1L517.8 587.2L518.2 587.2L518.6 588.4L519.1 585.7L519.5 585.5L519.9 586.8L520.3 584.5L520.7 588.2L521.1 586.2L521.5 588.5L521.9 585L522.3 584.5L522.8 586.7L523.2 588.7L523.6 585.5L524 584.2L524.4 587.4L524.8 587.5L525.2 589.8L525.6 587.8L526 587.7L526.5 587L526.9 587L527.3 587.5L527.7 588.3L528.1 588.6L528.5 587.9L528.9 588.8L529.3 592.7L529.7 588.2L530.2 585.5L530.6 588L531 590.4L531.4 590.2" fill="none" stroke="none" marker-start="url(#m)" marker-mid="url(#m)" marker-end="url(#m)"/></g>
<g><path d="M72.2 655.6V730M96.9 655.6V730M121.5 655.6V730M146.2 655.6V730M170.9 655.6V730M195.6 655.6V730M220.2 655.6V730M244.9 655.6V730" stroke="#e2e2e2" stroke-width="0.9" fill="none"/>
<rect x="47.5" y="655.6" width="222.1" height="74.4" fill="none" stroke="#404040" stroke-width="0.9"/>
<path d="M59.8 655.6v1.6M59.8 730v-1.6M84.5 655.6v1.6M84.5 730v-1.6M109.2 655.6v1.6M109.2 730v-1.6M133.9 655.6v1.6M133.9 730v-1.6M158.6 655.6v1.6M158.6 730v-1.6M183.2 655.6v1.6M183.2 730v-1.6M207.9 655.6v1.6M207.9 730v-1.6M232.6 655.6v1.6M232.6 730v-1.6M257.3 655.6v1.6M257.3 730v-1.6M47.5 705h1.6M269.6 705h-1.6M47.5 680h1.6M269.6 680h-1.6" stroke="#404040" stroke-width="0.7" fill="none"/>
<path d="M99.9 730.5V728.8M100.4 730.5V728.7M102 730.5V729M102.4 730.5V728.3M102.8 730.5V728.6M103.2 730.5V728.7M103.6 730.5V728.6M104.1 730.5V728.5M104.5 730.5V728.7M105.3 730.5V728.5M105.7 730.5V727.7M106.1 730.5V727.1M106.5 730.5V727.9M106.9 730.5V728.2M107.3 730.5V728.3M107.8 730.5V728.3M108.2 730.5V727.5M108.6 730.5V728.3M109 730.5V728.1M109.4 730.5V727.7M109.8 730.5V727.9M110.2 730.5V728.1M110.6 730.5V728.3M111 730.5V727.9M111.5 730.5V728M111.9 730.5V728M112.3 730.5V727.7M112.7 730.5V728.3M113.1 730.5V727.9M113.5 730.5V727.9M113.9 730.5V727.6M114.3 730.5V728.7M114.7 730.5V728.6M115.2 730.5V727.2M115.6 730.5V727.6M116 730.5V727.1M116.4 730.5V728M116.8 730.5V727.6M117.2 730.5V728.3M117.6 730.5V728.5M118 730.5V728.4M118.4 730.5V728.4M118.9 730.5V727.6M119.3 730.5V727.7M119.7 730.5V727.8M120.1 730.5V728.5M120.5 730.5V727.9M120.9 730.5V728.5M121.3 730.5V728.3M121.7 730.5V726.7M122.2 730.5V726M122.6 730.5V726.9M123 730.5V726.7M123.4 730.5V726.1M123.8 730.5V726.8M124.2 730.5V727.3M124.6 730.5V727.1M125 730.5V726.5M125.4 730.5V726.1M125.9 730.5V726.6M126.3 730.5V727M126.7 730.5V727M127.1 730.5V726.3M127.5 730.5V726.6M127.9 730.5V727.3M128.3 730.5V726.9M128.7 730.5V726.3M129.1 730.5V725.2M129.6 730.5V726.5M130 730.5V726.7M130.4 730.5V726.6M130.8 730.5V726.5M131.2 730.5V726.8M131.6 730.5V727.3M132 730.5V726.9M132.4 730.5V727.7M132.8 730.5V725.9M133.3 730.5V727.1M133.7 730.5V727M134.1 730.5V726.7M134.5 730.5V726.9M134.9 730.5V727M135.3 730.5V725.5M135.7 730.5V726.6M136.1 730.5V725.6M136.5 730.5V726.6M137 730.5V727.3M137.4 730.5V727M137.8 730.5V726.8M138.2 730.5V727.6M138.6 730.5V726.7M139 730.5V725.9M139.4 730.5V726.2M139.8 730.5V726.4M140.2 730.5V727M140.7 730.5V726.7M141.1 730.5V726.2M141.5 730.5V727.2M141.9 730.5V726.9M142.3 730.5V725.4M142.7 730.5V725.7M143.1 730.5V727.1M143.5 730.5V726.6M143.9 730.5V725.8M144.4 730.5V727.1M144.8 730.5V727.2M145.2 730.5V728M145.6 730.5V726.5M146 730.5V726.3M146.4 730.5V726.1M146.8 730.5V727M147.2 730.5V727M147.7 730.5V726.6M148.1 730.5V726.6M148.5 730.5V725.8M148.9 730.5V726.4M149.3 730.5V725.7M149.7 730.5V726.9M150.1 730.5V726.8M150.5 730.5V727.1M150.9 730.5V727.8M151.4 730.5V727.1M151.8 730.5V726.2M152.2 730.5V726.4M152.6 730.5V726.7M153 730.5V726.8M153.4 730.5V728.1M153.8 730.5V726.2M154.2 730.5V727M154.6 730.5V726.9M155.1 730.5V726.1M155.5 730.5V725.8M155.9 730.5V726.9M156.3 730.5V725.5M156.7 730.5V727.2M157.1 730.5V727.3M157.5 730.5V726.8M157.9 730.5V726.8M158.3 730.5V726.3M158.8 730.5V726.9M159.2 730.5V726.6M159.6 730.5V726.9M160 730.5V727.1M160.4 730.5V727.2M160.8 730.5V726.4M161.2 730.5V727.3M161.6 730.5V727.2M162 730.5V726.7M162.5 730.5V727M162.9 730.5V726.5M163.3 730.5V727.2M163.7 730.5V727M164.1 730.5V727.4M164.5 730.5V727.5M164.9 730.5V727.1M165.3 730.5V726.5M165.7 730.5V727.5M166.2 730.5V726.5M166.6 730.5V727M167 730.5V727.2M167.4 730.5V727.8M167.8 730.5V727.2M168.2 730.5V727.2M168.6 730.5V726.6M169 730.5V727.1M169.4 730.5V727.4M169.9 730.5V727.6M170.3 730.5V727.8M170.7 730.5V727.7M171.1 730.5V728.8M171.5 730.5V728.8M171.9 730.5V728.4M172.3 730.5V728.4M172.7 730.5V727.9M173.2 730.5V728.8M174.4 730.5V728.8M174.8 730.5V728.6M175.6 730.5V728.7M176 730.5V728.6M176.4 730.5V728.6M176.9 730.5V728.8M178.1 730.5V728.7M178.5 730.5V728.4M178.9 730.5V728.2M179.3 730.5V728.4M179.7 730.5V728.2M180.1 730.5V728.8M180.6 730.5V728.6M181.8 730.5V728.8M182.2 730.5V728.5M182.6 730.5V728M183 730.5V728.9M183.8 730.5V728.9M184.3 730.5V728.9M184.7 730.5V728.8M185.1 730.5V728.4M185.5 730.5V728.5M185.9 730.5V728.7M186.3 730.5V728.6M187.5 730.5V728.9M188 730.5V728.7M188.4 730.5V728.6M188.8 730.5V728.9M189.2 730.5V728.7M189.6 730.5V728.6M190 730.5V728.7M191.2 730.5V728.8M191.7 730.5V728.6M192.1 730.5V728M192.5 730.5V728.7M192.9 730.5V728.3M193.3 730.5V729M193.7 730.5V728.4M194.9 730.5V728.8M195.4 730.5V728.3M195.8 730.5V727.3M196.2 730.5V727.1M196.6 730.5V728M197 730.5V727.9M197.4 730.5V727.8M197.8 730.5V727M198.2 730.5V726.9M198.7 730.5V727.5M199.1 730.5V727.2M199.5 730.5V727.4M199.9 730.5V727.8M200.3 730.5V728.5M200.7 730.5V728.3M201.1 730.5V727.4M201.5 730.5V727.4M201.9 730.5V727.6M202.4 730.5V728.3M202.8 730.5V726.8M203.2 730.5V727.1M203.6 730.5V727.8M204 730.5V728.1M204.4 730.5V727.2M204.8 730.5V727.2M205.2 730.5V727.5M205.6 730.5V727.6M206.1 730.5V727.2M206.5 730.5V727.7M206.9 730.5V727.6M207.3 730.5V727.8M207.7 730.5V728.3M208.1 730.5V727.6M208.5 730.5V727.6M208.9 730.5V727.2M209.3 730.5V727.7M209.8 730.5V728M210.2 730.5V728.4M210.6 730.5V727.6M211 730.5V727.9M211.4 730.5V727.9M211.8 730.5V727.1M212.2 730.5V727.2M212.6 730.5V726.6M213 730.5V727.7M213.5 730.5V728.4M213.9 730.5V728.3M214.3 730.5V727.6M214.7 730.5V727.3M215.1 730.5V726.8M215.5 730.5V727.7M215.9 730.5V727.5M216.3 730.5V727.7M216.7 730.5V727.7M217.2 730.5V728.5M217.6 730.5V728.1M218 730.5V727.1M218.4 730.5V727.1M218.8 730.5V727.4M219.2 730.5V727.9M219.6 730.5V728M220 730.5V727.7M220.5 730.5V725M220.9 730.5V722.6M221.3 730.5V725.6M221.7 730.5V724.7M222.1 730.5V724M222.5 730.5V725.2M222.9 730.5V726M223.3 730.5V725.1M223.7 730.5V724.5M224.2 730.5V724.1M224.6 730.5V726M225 730.5V724.5M225.4 730.5V723.5M225.8 730.5V723.3M226.2 730.5V723.5M226.6 730.5V724.7M227 730.5V725.3M227.4 730.5V725.7M227.9 730.5V724M228.3 730.5V723.9M228.7 730.5V724.2M229.1 730.5V725.7M229.5 730.5V726.6M229.9 730.5V724.9M230.3 730.5V726M230.7 730.5V725M231.1 730.5V723M231.6 730.5V726M232 730.5V724.5M232.4 730.5V724.7M232.8 730.5V724.7M233.2 730.5V723.9M233.6 730.5V726M234 730.5V725M234.4 730.5V724.6M234.8 730.5V723.4M235.3 730.5V725.8M235.7 730.5V724.3M236.1 730.5V725M236.5 730.5V724M236.9 730.5V725.2M237.3 730.5V725M237.7 730.5V724.8M238.1 730.5V723.8M238.5 730.5V725M239 730.5V726.5M239.4 730.5V724.9M239.8 730.5V725M240.2 730.5V725.8M240.6 730.5V726.3M241 730.5V724.7M241.4 730.5V722.9M241.8 730.5V723.9M242.2 730.5V726.2M242.7 730.5V725.5M243.1 730.5V725.8M243.5 730.5V725.6M243.9 730.5V725.4M244.3 730.5V724.3M244.7 730.5V725.6M245.1 730.5V715.4M245.5 730.5V714.6M246 730.5V714.3M246.4 730.5V716.4M246.8 730.5V715.3M247.2 730.5V715.1M247.6 730.5V719.5M248 730.5V715.6M248.4 730.5V716.4M248.8 730.5V716.5M249.2 730.5V717.6M249.7 730.5V711.2M250.1 730.5V716.8M250.5 730.5V718.2M250.9 730.5V720.9M251.3 730.5V712.8M251.7 730.5V718.7M252.1 730.5V714.4M252.5 730.5V716.3M252.9 730.5V714.7M253.4 730.5V715.8M253.8 730.5V715.7M254.2 730.5V711.8M254.6 730.5V716.5M255 730.5V713.8M255.4 730.5V708.4M255.8 730.5V714.3M256.2 730.5V717.3M256.6 730.5V715.6M257.1 730.5V716.3M257.5 730.5V717.2M257.9 730.5V714.7M258.3 730.5V713.8M258.7 730.5V717.5M259.1 730.5V716.6M259.5 730.5V717.3M259.9 730.5V711.3M260.3 730.5V718M260.8 730.5V716.3M261.2 730.5V715M261.6 730.5V716.8M262 730.5V716.3M262.4 730.5V716.9M262.8 730.5V716M263.2 730.5V717.9M263.6 730.5V719.1M264 730.5V720.3M264.5 730.5V715.6M264.9 730.5V715.8M265.3 730.5V720.8M265.7 730.5V718.9M266.1 730.5V717.6M266.5 730.5V717M266.9 730.5V718M267.3 730.5V718.6M267.7 730.5V716.8M268.2 730.5V718.2M268.6 730.5V719M269 730.5V718.5M269.4 730.5V718.8" stroke="#2F5BAA" stroke-width="1.1" fill="none"/>
<path d="M47.7 729.9L48.1 730L48.5 729.7L48.9 729.8L49.4 729.7L49.8 729.9L50.2 729.8L50.6 729.9L51 729.8L51.4 729.9L51.8 729.8L52.2 729.8L52.6 729.9L53.1 730L53.5 729.9L53.9 729.8L54.3 729.8L54.7 729.9L55.1 729.9L55.5 729.9L55.9 729.8L56.3 729.9L56.8 729.8L57.2 730L57.6 730L58 729.8L58.4 729.9L58.8 730L59.2 729.9L59.6 729.7L60 729.9L60.5 729.8L60.9 729.9L61.3 729.8L61.7 730L62.1 729.7L62.5 729.8L62.9 729.9L63.3 729.9L63.7 729.9L64.2 729.7L64.6 729.7L65 729.9L65.4 729.8L65.8 729.8L66.2 729.9L66.6 730L67 729.8L67.4 730L67.9 729.8L68.3 730L68.7 730L69.1 730L69.5 729.8L69.9 729.8L70.3 729.7L70.7 729.8L71.1 729.8L71.6 730L72 729.7L72.4 729.7L72.8 729.4L73.2 730L73.6 729.4L74 729.7L74.4 729.9L74.9 729.7L75.3 730L75.7 729.6L76.1 729.9L76.5 729.5L76.9 729.9L77.3 729.5L77.7 729.6L78.1 729.5L78.6 729.4L79 729.8L79.4 729.5L79.8 729.7L80.2 729.4L80.6 729.5L81 729.5L81.4 729.6L81.8 729.8L82.3 729.4L82.7 729.4L83.1 729.4L83.5 729.8L83.9 729.5L84.3 729.6L84.7 729.4L85.1 729.5L85.5 729.7L86 729.7L86.4 729.5L86.8 729.6L87.2 729.6L87.6 729.4L88 730L88.4 730L88.8 729.7L89.2 729.9L89.7 729.4L90.1 729.9L90.5 729.4L90.9 729.9L91.3 729.9L91.7 729.5L92.1 729.6L92.5 729.7L92.9 729.6L93.4 729.6L93.8 729.4L94.2 729.7L94.6 729.6L95 729.7L95.4 729.7L95.8 729.5L96.2 729.9L96.6 729.5L97.1 729.3L97.5 729.4L97.9 729.6L98.3 729.7L98.7 729.9L99.1 729.9L99.5 729.3L99.9 728.8L100.4 728.7L100.8 729.1L101.2 729.9L101.6 729.7L102 729L102.4 728.3L102.8 728.6L103.2 728.7L103.6 728.6L104.1 728.5L104.5 728.7L104.9 729.2L105.3 728.5L105.7 727.7L106.1 727.1L106.5 727.9L106.9 728.2L107.3 728.3L107.8 728.3L108.2 727.5L108.6 728.3L109 728.1L109.4 727.7L109.8 727.9L110.2 728.1L110.6 728.3L111 727.9L111.5 728L111.9 728L112.3 727.7L112.7 728.3L113.1 727.9L113.5 727.9L113.9 727.6L114.3 728.7L114.7 728.6L115.2 727.2L115.6 727.6L116 727.1L116.4 728L116.8 727.6L117.2 728.3L117.6 728.5L118 728.4L118.4 728.4L118.9 727.6L119.3 727.7L119.7 727.8L120.1 728.5L120.5 727.9L120.9 728.5L121.3 728.3L121.7 726.7L122.2 726L122.6 726.9L123 726.7L123.4 726.1L123.8 726.8L124.2 727.3L124.6 727.1L125 726.5L125.4 726.1L125.9 726.6L126.3 727L126.7 727L127.1 726.3L127.5 726.6L127.9 727.3L128.3 726.9L128.7 726.3L129.1 725.2L129.6 726.5L130 726.7L130.4 726.6L130.8 726.5L131.2 726.8L131.6 727.3L132 726.9L132.4 727.7L132.8 725.9L133.3 727.1L133.7 727L134.1 726.7L134.5 726.9L134.9 727L135.3 725.5L135.7 726.6L136.1 725.6L136.5 726.6L137 727.3L137.4 727L137.8 726.8L138.2 727.6L138.6 726.7L139 725.9L139.4 726.2L139.8 726.4L140.2 727L140.7 726.7L141.1 726.2L141.5 727.2L141.9 726.9L142.3 725.4L142.7 725.7L143.1 727.1L143.5 726.6L143.9 725.8L144.4 727.1L144.8 727.2L145.2 728L145.6 726.5L146 726.3L146.4 726.1L146.8 727L147.2 727L147.7 726.6L148.1 726.6L148.5 725.8L148.9 726.4L149.3 725.7L149.7 726.9L150.1 726.8L150.5 727.1L150.9 727.8L151.4 727.1L151.8 726.2L152.2 726.4L152.6 726.7L153 726.8L153.4 728.1L153.8 726.2L154.2 727L154.6 726.9L155.1 726.1L155.5 725.8L155.9 726.9L156.3 725.5L156.7 727.2L157.1 727.3L157.5 726.8L157.9 726.8L158.3 726.3L158.8 726.9L159.2 726.6L159.6 726.9L160 727.1L160.4 727.2L160.8 726.4L161.2 727.3L161.6 727.2L162 726.7L162.5 727L162.9 726.5L163.3 727.2L163.7 727L164.1 727.4L164.5 727.5L164.9 727.1L165.3 726.5L165.7 727.5L166.2 726.5L166.6 727L167 727.2L167.4 727.8L167.8 727.2L168.2 727.2L168.6 726.6L169 727.1L169.4 727.4L169.9 727.6L170.3 727.8L170.7 727.7L171.1 728.8L171.5 728.8L171.9 728.4L172.3 728.4L172.7 727.9L173.2 728.8L173.6 729.7L174 730L174.4 728.8L174.8 728.6L175.2 729L175.6 728.7L176 728.6L176.4 728.6L176.9 728.8L177.3 729.1L177.7 729.9L178.1 728.7L178.5 728.4L178.9 728.2L179.3 728.4L179.7 728.2L180.1 728.8L180.6 728.6L181 729.6L181.4 729.3L181.8 728.8L182.2 728.5L182.6 728L183 728.9L183.4 729.2L183.8 728.9L184.3 728.9L184.7 728.8L185.1 728.4L185.5 728.5L185.9 728.7L186.3 728.6L186.7 729.3L187.1 730L187.5 728.9L188 728.7L188.4 728.6L188.8 728.9L189.2 728.7L189.6 728.6L190 728.7L190.4 729.7L190.8 729.6L191.2 728.8L191.7 728.6L192.1 728L192.5 728.7L192.9 728.3L193.3 729L193.7 728.4L194.1 729.1L194.5 729.1L194.9 728.8L195.4 728.3L195.8 727.3L196.2 727.1L196.6 728L197 727.9L197.4 727.8L197.8 727L198.2 726.9L198.7 727.5L199.1 727.2L199.5 727.4L199.9 727.8L200.3 728.5L200.7 728.3L201.1 727.4L201.5 727.4L201.9 727.6L202.4 728.3L202.8 726.8L203.2 727.1L203.6 727.8L204 728.1L204.4 727.2L204.8 727.2L205.2 727.5L205.6 727.6L206.1 727.2L206.5 727.7L206.9 727.6L207.3 727.8L207.7 728.3L208.1 727.6L208.5 727.6L208.9 727.2L209.3 727.7L209.8 728L210.2 728.4L210.6 727.6L211 727.9L211.4 727.9L211.8 727.1L212.2 727.2L212.6 726.6L213 727.7L213.5 728.4L213.9 728.3L214.3 727.6L214.7 727.3L215.1 726.8L215.5 727.7L215.9 727.5L216.3 727.7L216.7 727.7L217.2 728.5L217.6 728.1L218 727.1L218.4 727.1L218.8 727.4L219.2 727.9L219.6 728L220 727.7L220.5 725L220.9 722.6L221.3 725.6L221.7 724.7L222.1 724L222.5 725.2L222.9 726L223.3 725.1L223.7 724.5L224.2 724.1L224.6 726L225 724.5L225.4 723.5L225.8 723.3L226.2 723.5L226.6 724.7L227 725.3L227.4 725.7L227.9 724L228.3 723.9L228.7 724.2L229.1 725.7L229.5 726.6L229.9 724.9L230.3 726L230.7 725L231.1 723L231.6 726L232 724.5L232.4 724.7L232.8 724.7L233.2 723.9L233.6 726L234 725L234.4 724.6L234.8 723.4L235.3 725.8L235.7 724.3L236.1 725L236.5 724L236.9 725.2L237.3 725L237.7 724.8L238.1 723.8L238.5 725L239 726.5L239.4 724.9L239.8 725L240.2 725.8L240.6 726.3L241 724.7L241.4 722.9L241.8 723.9L242.2 726.2L242.7 725.5L243.1 725.8L243.5 725.6L243.9 725.4L244.3 724.3L244.7 725.6L245.1 715.4L245.5 714.6L246 714.3L246.4 716.4L246.8 715.3L247.2 715.1L247.6 719.5L248 715.6L248.4 716.4L248.8 716.5L249.2 717.6L249.7 711.2L250.1 716.8L250.5 718.2L250.9 720.9L251.3 712.8L251.7 718.7L252.1 714.4L252.5 716.3L252.9 714.7L253.4 715.8L253.8 715.7L254.2 711.8L254.6 716.5L255 713.8L255.4 708.4L255.8 714.3L256.2 717.3L256.6 715.6L257.1 716.3L257.5 717.2L257.9 714.7L258.3 713.8L258.7 717.5L259.1 716.6L259.5 717.3L259.9 711.3L260.3 718L260.8 716.3L261.2 715L261.6 716.8L262 716.3L262.4 716.9L262.8 716L263.2 717.9L263.6 719.1L264 720.3L264.5 715.6L264.9 715.8L265.3 720.8L265.7 718.9L266.1 717.6L266.5 717L266.9 718L267.3 718.6L267.7 716.8L268.2 718.2L268.6 719L269 718.5L269.4 718.8" fill="none" stroke="none" marker-start="url(#m)" marker-mid="url(#m)" marker-end="url(#m)"/></g>
<g><path d="M334.2 655.6V730M358.9 655.6V730M383.5 655.6V730M408.2 655.6V730M432.9 655.6V730M457.6 655.6V730M482.2 655.6V730M506.9 655.6V730" stroke="#e2e2e2" stroke-width="0.9" fill="none"/>
<rect x="309.5" y="655.6" width="222.1" height="74.4" fill="none" stroke="#404040" stroke-width="0.9"/>
<path d="M321.8 655.6v1.6M321.8 730v-1.6M346.5 655.6v1.6M346.5 730v-1.6M371.2 655.6v1.6M371.2 730v-1.6M395.9 655.6v1.6M395.9 730v-1.6M420.6 655.6v1.6M420.6 730v-1.6M445.2 655.6v1.6M445.2 730v-1.6M469.9 655.6v1.6M469.9 730v-1.6M494.6 655.6v1.6M494.6 730v-1.6M519.3 655.6v1.6M519.3 730v-1.6M309.5 685h1.6M531.6 685h-1.6" stroke="#404040" stroke-width="0.7" fill="none"/>
<path d="M389.9 730.5V729M393.2 730.5V728.9M393.6 730.5V728.8M396.9 730.5V728.6M397.3 730.5V728.9M399.4 730.5V728.9M399.8 730.5V729M400.6 730.5V728.8M401 730.5V729M402.7 730.5V728.7M403.1 730.5V728.8M404.3 730.5V728.6M404.7 730.5V729M406.4 730.5V728.9M406.8 730.5V728.6M410.1 730.5V728.7M410.5 730.5V728.6M410.9 730.5V729M412.5 730.5V728.9M413.4 730.5V728.8M413.8 730.5V728.9M414.2 730.5V728.9M415.8 730.5V729M416.2 730.5V728.6M416.6 730.5V728.7M417.1 730.5V728.4M417.9 730.5V728.9M419.9 730.5V728.6M420.3 730.5V728.6M423.2 730.5V728.8M423.6 730.5V728.7M424 730.5V728.8M425.7 730.5V728.7M426.1 730.5V728.8M426.5 730.5V729M427.3 730.5V728.7M427.7 730.5V728.6M429.4 730.5V728.7M429.8 730.5V728.5M430.2 730.5V728.7M431 730.5V728.7M431.4 730.5V729M432.7 730.5V728.9M433.1 730.5V727.8M433.5 730.5V728.6M433.9 730.5V728.9M435.2 730.5V729M436.4 730.5V728.9M436.8 730.5V728.6M437.2 730.5V728.1M438.9 730.5V728.7M439.3 730.5V729M457.8 730.5V725.8M458.2 730.5V726.6M458.6 730.5V725.2M459 730.5V725.8M459.4 730.5V725.5M459.8 730.5V725.6M460.2 730.5V724.9M460.7 730.5V726.2M461.1 730.5V726.3M461.5 730.5V726.2M461.9 730.5V724.7M462.3 730.5V725.1M462.7 730.5V725.2M463.1 730.5V725.9M463.5 730.5V725.5M463.9 730.5V725.6M464.4 730.5V725.5M464.8 730.5V725.6M465.2 730.5V724.7M465.6 730.5V724.7M466 730.5V724.7M466.4 730.5V725.4M466.8 730.5V726.1M467.2 730.5V726M467.6 730.5V724.7M468.1 730.5V724.4M468.5 730.5V725.4M468.9 730.5V724.9M469.3 730.5V723.4M469.7 730.5V725M470.1 730.5V725M470.5 730.5V725.5M470.9 730.5V725.3M471.3 730.5V725.1M471.8 730.5V725.1M472.2 730.5V725.9M472.6 730.5V724.3M473 730.5V723.1M473.4 730.5V725.3M473.8 730.5V723.3M474.2 730.5V724.5M474.6 730.5V724.1M475 730.5V724.9M475.5 730.5V723.7M475.9 730.5V723.3M476.3 730.5V725.3M476.7 730.5V723.7M477.1 730.5V723.2M477.5 730.5V723.9M477.9 730.5V724M478.3 730.5V725.5M478.7 730.5V724.5M479.2 730.5V722.6M479.6 730.5V724.3M480 730.5V724.7M480.4 730.5V724M480.8 730.5V724.4M481.2 730.5V724.4M481.6 730.5V723.3M482 730.5V724.7M482.5 730.5V719.8M482.9 730.5V721.1M483.3 730.5V722.5M483.7 730.5V722.2M484.1 730.5V722.9M484.5 730.5V720.8M484.9 730.5V723.9M485.3 730.5V720.8M485.7 730.5V721.3M486.2 730.5V721.7M486.6 730.5V720M487 730.5V720M487.4 730.5V721.7M487.8 730.5V721M488.2 730.5V721.4M488.6 730.5V720.2M489 730.5V719.3M489.4 730.5V721.3M489.9 730.5V719.8M490.3 730.5V719.8M490.7 730.5V719M491.1 730.5V721M491.5 730.5V719.5M491.9 730.5V721.3M492.3 730.5V720.7M492.7 730.5V723.2M493.1 730.5V720.5M493.6 730.5V720M494 730.5V721.1M494.4 730.5V720.3M494.8 730.5V720.8M495.2 730.5V721.5M495.6 730.5V720.6M496 730.5V719.6M496.4 730.5V721.1M496.8 730.5V720.4M497.3 730.5V720.7M497.7 730.5V721M498.1 730.5V719.6M498.5 730.5V719.7M498.9 730.5V720.5M499.3 730.5V720M499.7 730.5V720.9M500.1 730.5V720.3M500.5 730.5V721.8M501 730.5V721.2M501.4 730.5V722.3M501.8 730.5V721.5M502.2 730.5V720.6M502.6 730.5V721.7M503 730.5V721.6M503.4 730.5V720.8M503.8 730.5V719.9M504.2 730.5V722.4M504.7 730.5V721.7M505.1 730.5V721.2M505.5 730.5V720.8M505.9 730.5V722.2M506.3 730.5V722M506.7 730.5V721.7M507.1 730.5V717.8M507.5 730.5V716.9M508 730.5V718M508.4 730.5V715.4M508.8 730.5V715.8M509.2 730.5V714.6M509.6 730.5V715.6M510 730.5V715M510.4 730.5V718.6M510.8 730.5V718.8M511.2 730.5V716.2M511.7 730.5V713.5M512.1 730.5V714.4M512.5 730.5V718.8M512.9 730.5V714.9M513.3 730.5V713.7M513.7 730.5V714.2M514.1 730.5V714M514.5 730.5V716.3M514.9 730.5V715.9M515.4 730.5V715.2M515.8 730.5V712.1M516.2 730.5V713.1M516.6 730.5V714.1M517 730.5V715.8M517.4 730.5V716.5M517.8 730.5V716.2M518.2 730.5V715.7M518.6 730.5V715.3M519.1 730.5V713.5M519.5 730.5V713M519.9 730.5V715.9M520.3 730.5V713.1M520.7 730.5V714.5M521.1 730.5V715.1M521.5 730.5V714.5M521.9 730.5V717.1M522.3 730.5V715.4M522.8 730.5V714.8M523.2 730.5V716.1M523.6 730.5V715M524 730.5V716.8M524.4 730.5V716.6M524.8 730.5V716.4M525.2 730.5V715.2M525.6 730.5V717.6M526 730.5V715.6M526.5 730.5V717.8M526.9 730.5V716.6M527.3 730.5V716.9M527.7 730.5V717.1M528.1 730.5V716.8M528.5 730.5V716.6M528.9 730.5V718.1M529.3 730.5V721.7M529.7 730.5V717.7M530.2 730.5V718.7M530.6 730.5V718.8M531 730.5V718.5M531.4 730.5V720.9" stroke="#2F5BAA" stroke-width="1.1" fill="none"/>
<path d="M309.7 730L310.1 729.9L310.5 729.9L310.9 729.9L311.4 729.9L311.8 730L312.2 730L312.6 729.9L313 729.9L313.4 730L313.8 730L314.2 729.9L314.6 730L315.1 730L315.5 729.9L315.9 730L316.3 729.9L316.7 729.9L317.1 730L317.5 730L317.9 730L318.3 729.9L318.8 730L319.2 729.9L319.6 729.9L320 730L320.4 730L320.8 730L321.2 730L321.6 730L322 729.9L322.5 730L322.9 729.9L323.3 729.9L323.7 729.9L324.1 729.9L324.5 729.9L324.9 730L325.3 729.9L325.7 729.9L326.2 729.9L326.6 730L327 730L327.4 729.9L327.8 729.9L328.2 729.9L328.6 730L329 729.9L329.4 730L329.9 729.9L330.3 729.9L330.7 730L331.1 730L331.5 729.9L331.9 729.9L332.3 729.9L332.7 730L333.1 730L333.6 729.9L334 729.9L334.4 729.9L334.8 730L335.2 729.8L335.6 729.9L336 729.9L336.4 729.9L336.9 729.9L337.3 729.8L337.7 729.9L338.1 729.8L338.5 729.9L338.9 729.9L339.3 729.9L339.7 729.8L340.1 729.9L340.6 729.9L341 729.9L341.4 729.8L341.8 729.8L342.2 729.9L342.6 729.9L343 730L343.4 729.9L343.8 729.9L344.3 730L344.7 729.8L345.1 729.9L345.5 729.8L345.9 730L346.3 729.9L346.7 729.9L347.1 729.9L347.5 729.9L348 729.9L348.4 730L348.8 729.9L349.2 729.9L349.6 729.9L350 729.9L350.4 729.9L350.8 729.9L351.2 729.9L351.7 729.9L352.1 729.9L352.5 729.9L352.9 729.9L353.3 729.9L353.7 729.9L354.1 729.9L354.5 729.9L354.9 729.8L355.4 729.8L355.8 729.9L356.2 729.9L356.6 729.9L357 729.9L357.4 729.9L357.8 730L358.2 729.9L358.6 729.8L359.1 730L359.5 729.8L359.9 729.8L360.3 729.7L360.7 729.8L361.1 729.8L361.5 729.8L361.9 729.9L362.4 730L362.8 729.8L363.2 729.8L363.6 729.8L364 729.9L364.4 729.9L364.8 729.9L365.2 729.9L365.6 729.9L366.1 729.9L366.5 729.7L366.9 729.8L367.3 729.7L367.7 729.8L368.1 730L368.5 729.8L368.9 729.9L369.3 729.8L369.8 729.8L370.2 729.8L370.6 729.9L371 729.8L371.4 729.9L371.8 729.8L372.2 729.9L372.6 729.8L373 729.7L373.5 729.9L373.9 730L374.3 729.8L374.7 729.9L375.1 729.8L375.5 729.8L375.9 729.8L376.3 729.9L376.7 729.7L377.2 729.9L377.6 729.8L378 729.8L378.4 729.9L378.8 729.9L379.2 729.9L379.6 729.9L380 729.9L380.4 729.8L380.9 730L381.3 729.7L381.7 729.8L382.1 729.8L382.5 729.8L382.9 729.9L383.3 729.8L383.7 729.3L384.2 729.7L384.6 729.6L385 729.8L385.4 729.8L385.8 729.3L386.2 729.5L386.6 729.6L387 729.5L387.4 729.9L387.9 730L388.3 729.8L388.7 729.8L389.1 729.9L389.5 729L389.9 729L390.3 729.7L390.7 729.4L391.1 729.3L391.6 729.7L392 730L392.4 729.6L392.8 729.6L393.2 728.9L393.6 728.8L394 730L394.4 729.3L394.8 729.6L395.3 729.7L395.7 729.3L396.1 729.3L396.5 729.4L396.9 728.6L397.3 728.9L397.7 729.9L398.1 729.5L398.5 729.8L399 729.8L399.4 728.9L399.8 729L400.2 729.1L400.6 728.8L401 729L401.4 729.4L401.8 729.9L402.2 730L402.7 728.7L403.1 728.8L403.5 729.2L403.9 729.1L404.3 728.6L404.7 729L405.1 729.2L405.5 729.5L405.9 729.4L406.4 728.9L406.8 728.6L407.2 729L407.6 729.6L408 729.4L408.4 729L408.8 729.2L409.2 729.6L409.7 729L410.1 728.7L410.5 728.6L410.9 729L411.3 729.4L411.7 729.9L412.1 729.5L412.5 728.9L412.9 729L413.4 728.8L413.8 728.9L414.2 728.9L414.6 729.1L415 729.9L415.4 729.7L415.8 729L416.2 728.6L416.6 728.7L417.1 728.4L417.5 729.2L417.9 728.9L418.3 729.7L418.7 729.8L419.1 729.5L419.5 729.2L419.9 728.6L420.3 728.6L420.8 729L421.2 729.9L421.6 729.9L422 729L422.4 729.1L422.8 729.3L423.2 728.8L423.6 728.7L424 728.8L424.5 729.3L424.9 729.8L425.3 729.6L425.7 728.7L426.1 728.8L426.5 729L426.9 729.1L427.3 728.7L427.7 728.6L428.2 729.9L428.6 729.6L429 729.8L429.4 728.7L429.8 728.5L430.2 728.7L430.6 729L431 728.7L431.4 729L431.9 729.6L432.3 729.9L432.7 728.9L433.1 727.8L433.5 728.6L433.9 728.9L434.3 729.2L434.7 729.9L435.2 729L435.6 729.2L436 729.1L436.4 728.9L436.8 728.6L437.2 728.1L437.6 729.7L438 729.8L438.4 729.4L438.9 728.7L439.3 729L439.7 729.1L440.1 729.7L440.5 730L440.9 729.2L441.3 730L441.7 729.7L442.1 729.7L442.6 729.8L443 729.3L443.4 729.7L443.8 729.2L444.2 729.6L444.6 729.3L445 729.3L445.4 729.7L445.8 729.5L446.3 729.5L446.7 729.5L447.1 730L447.5 729.5L447.9 729.5L448.3 729.9L448.7 729.9L449.1 730L449.5 729.6L450 729.9L450.4 729.4L450.8 729.7L451.2 729.4L451.6 729.5L452 729.7L452.4 729.9L452.8 729.7L453.2 729.6L453.7 729.5L454.1 729.5L454.5 729.8L454.9 730L455.3 729.6L455.7 729.6L456.1 729.6L456.5 729.6L456.9 729.6L457.4 729.7L457.8 725.8L458.2 726.6L458.6 725.2L459 725.8L459.4 725.5L459.8 725.6L460.2 724.9L460.7 726.2L461.1 726.3L461.5 726.2L461.9 724.7L462.3 725.1L462.7 725.2L463.1 725.9L463.5 725.5L463.9 725.6L464.4 725.5L464.8 725.6L465.2 724.7L465.6 724.7L466 724.7L466.4 725.4L466.8 726.1L467.2 726L467.6 724.7L468.1 724.4L468.5 725.4L468.9 724.9L469.3 723.4L469.7 725L470.1 725L470.5 725.5L470.9 725.3L471.3 725.1L471.8 725.1L472.2 725.9L472.6 724.3L473 723.1L473.4 725.3L473.8 723.3L474.2 724.5L474.6 724.1L475 724.9L475.5 723.7L475.9 723.3L476.3 725.3L476.7 723.7L477.1 723.2L477.5 723.9L477.9 724L478.3 725.5L478.7 724.5L479.2 722.6L479.6 724.3L480 724.7L480.4 724L480.8 724.4L481.2 724.4L481.6 723.3L482 724.7L482.5 719.8L482.9 721.1L483.3 722.5L483.7 722.2L484.1 722.9L484.5 720.8L484.9 723.9L485.3 720.8L485.7 721.3L486.2 721.7L486.6 720L487 720L487.4 721.7L487.8 721L488.2 721.4L488.6 720.2L489 719.3L489.4 721.3L489.9 719.8L490.3 719.8L490.7 719L491.1 721L491.5 719.5L491.9 721.3L492.3 720.7L492.7 723.2L493.1 720.5L493.6 720L494 721.1L494.4 720.3L494.8 720.8L495.2 721.5L495.6 720.6L496 719.6L496.4 721.1L496.8 720.4L497.3 720.7L497.7 721L498.1 719.6L498.5 719.7L498.9 720.5L499.3 720L499.7 720.9L500.1 720.3L500.5 721.8L501 721.2L501.4 722.3L501.8 721.5L502.2 720.6L502.6 721.7L503 721.6L503.4 720.8L503.8 719.9L504.2 722.4L504.7 721.7L505.1 721.2L505.5 720.8L505.9 722.2L506.3 722L506.7 721.7L507.1 717.8L507.5 716.9L508 718L508.4 715.4L508.8 715.8L509.2 714.6L509.6 715.6L510 715L510.4 718.6L510.8 718.8L511.2 716.2L511.7 713.5L512.1 714.4L512.5 718.8L512.9 714.9L513.3 713.7L513.7 714.2L514.1 714L514.5 716.3L514.9 715.9L515.4 715.2L515.8 712.1L516.2 713.1L516.6 714.1L517 715.8L517.4 716.5L517.8 716.2L518.2 715.7L518.6 715.3L519.1 713.5L519.5 713L519.9 715.9L520.3 713.1L520.7 714.5L521.1 715.1L521.5 714.5L521.9 717.1L522.3 715.4L522.8 714.8L523.2 716.1L523.6 715L524 716.8L524.4 716.6L524.8 716.4L525.2 715.2L525.6 717.6L526 715.6L526.5 717.8L526.9 716.6L527.3 716.9L527.7 717.1L528.1 716.8L528.5 716.6L528.9 718.1L529.3 721.7L529.7 717.7L530.2 718.7L530.6 718.8L531 718.5L531.4 720.9" fill="none" stroke="none" marker-start="url(#m)" marker-mid="url(#m)" marker-end="url(#m)"/></g>
<g fill="#000"><text class="t" x="59.3" y="105.3" text-anchor="middle">1</text>
<text class="t" x="84" y="105.3" text-anchor="middle">2</text>
<text class="t" x="108.7" y="105.3" text-anchor="middle">3</text>
<text class="t" x="133.4" y="105.3" text-anchor="middle">4</text>
<text class="t" x="158.1" y="105.3" text-anchor="middle">5</text>
<text class="t" x="182.7" y="105.3" text-anchor="middle">6</text>
<text class="t" x="207.4" y="105.3" text-anchor="middle">7</text>
<text class="t" x="232.1" y="105.3" text-anchor="middle">8</text>
<text class="t" x="256.8" y="105.3" text-anchor="middle">9</text>
<text class="l" x="158.6" y="123.8" text-anchor="middle">Operational states</text>
<text class="t" x="55.1" y="29.5">Channel 1</text>
<text class="t" x="41.3" y="90.9" text-anchor="end">0</text>
<text class="t" x="41.3" y="65.9" text-anchor="end">0.1</text>
<text class="t" x="41.3" y="40.9" text-anchor="end">0.2</text>
<text class="l" transform="translate(17.6 48.5) rotate(-90)" text-anchor="middle">KLd</text>
<text class="t" x="321.3" y="105.3" text-anchor="middle">1</text>
<text class="t" x="346" y="105.3" text-anchor="middle">2</text>
<text class="t" x="370.7" y="105.3" text-anchor="middle">3</text>
<text class="t" x="395.4" y="105.3" text-anchor="middle">4</text>
<text class="t" x="420.1" y="105.3" text-anchor="middle">5</text>
<text class="t" x="444.7" y="105.3" text-anchor="middle">6</text>
<text class="t" x="469.4" y="105.3" text-anchor="middle">7</text>
<text class="t" x="494.1" y="105.3" text-anchor="middle">8</text>
<text class="t" x="518.8" y="105.3" text-anchor="middle">9</text>
<text class="l" x="420.6" y="123.8" text-anchor="middle">Operational states</text>
<text class="t" x="317.1" y="29.5">Channel 1</text>
<text class="t" x="303.3" y="90.9" text-anchor="end">0</text>
<text class="t" x="303.3" y="45.9" text-anchor="end">2</text>
<text class="l" transform="translate(289.3 48.5) rotate(-90)" text-anchor="middle">AAPE</text>
<text class="t" x="59.3" y="233.5" text-anchor="middle">1</text>
<text class="t" x="84" y="233.5" text-anchor="middle">2</text>
<text class="t" x="108.7" y="233.5" text-anchor="middle">3</text>
<text class="t" x="133.4" y="233.5" text-anchor="middle">4</text>
<text class="t" x="158.1" y="233.5" text-anchor="middle">5</text>
<text class="t" x="182.7" y="233.5" text-anchor="middle">6</text>
<text class="t" x="207.4" y="233.5" text-anchor="middle">7</text>
<text class="t" x="232.1" y="233.5" text-anchor="middle">8</text>
<text class="t" x="256.8" y="233.5" text-anchor="middle">9</text>
<text class="l" x="158.6" y="252" text-anchor="middle">Operational states</text>
<text class="t" x="55.1" y="157.7">Channel 2</text>
<text class="t" x="41.3" y="219.1" text-anchor="end">0</text>
<text class="t" x="41.3" y="194.1" text-anchor="end">0.1</text>
<text class="t" x="41.3" y="169.1" text-anchor="end">0.2</text>
<text class="l" transform="translate(17.6 177.3) rotate(-90)" text-anchor="middle">KLd</text>
<text class="t" x="321.3" y="233.5" text-anchor="middle">1</text>
<text class="t" x="346" y="233.5" text-anchor="middle">2</text>
<text class="t" x="370.7" y="233.5" text-anchor="middle">3</text>
<text class="t" x="395.4" y="233.5" text-anchor="middle">4</text>
<text class="t" x="420.1" y="233.5" text-anchor="middle">5</text>
<text class="t" x="444.7" y="233.5" text-anchor="middle">6</text>
<text class="t" x="469.4" y="233.5" text-anchor="middle">7</text>
<text class="t" x="494.1" y="233.5" text-anchor="middle">8</text>
<text class="t" x="518.8" y="233.5" text-anchor="middle">9</text>
<text class="l" x="420.6" y="252" text-anchor="middle">Operational states</text>
<text class="t" x="317.1" y="157.7">Channel 2</text>
<text class="t" x="303.3" y="219.1" text-anchor="end">0</text>
<text class="t" x="303.3" y="174.1" text-anchor="end">2</text>
<text class="l" transform="translate(289.3 177.3) rotate(-90)" text-anchor="middle">AAPE</text>
<text class="t" x="59.3" y="362.8" text-anchor="middle">1</text>
<text class="t" x="84" y="362.8" text-anchor="middle">2</text>
<text class="t" x="108.7" y="362.8" text-anchor="middle">3</text>
<text class="t" x="133.4" y="362.8" text-anchor="middle">4</text>
<text class="t" x="158.1" y="362.8" text-anchor="middle">5</text>
<text class="t" x="182.7" y="362.8" text-anchor="middle">6</text>
<text class="t" x="207.4" y="362.8" text-anchor="middle">7</text>
<text class="t" x="232.1" y="362.8" text-anchor="middle">8</text>
<text class="t" x="256.8" y="362.8" text-anchor="middle">9</text>
<text class="l" x="158.6" y="381.3" text-anchor="middle">Operational states</text>
<text class="t" x="55.1" y="287">Channel 3</text>
<text class="t" x="41.3" y="348.4" text-anchor="end">0</text>
<text class="t" x="41.3" y="323.4" text-anchor="end">0.1</text>
<text class="t" x="41.3" y="298.4" text-anchor="end">0.2</text>
<text class="l" transform="translate(17.6 306) rotate(-90)" text-anchor="middle">KLd</text>
<text class="t" x="321.3" y="362.8" text-anchor="middle">1</text>
<text class="t" x="346" y="362.8" text-anchor="middle">2</text>
<text class="t" x="370.7" y="362.8" text-anchor="middle">3</text>
<text class="t" x="395.4" y="362.8" text-anchor="middle">4</text>
<text class="t" x="420.1" y="362.8" text-anchor="middle">5</text>
<text class="t" x="444.7" y="362.8" text-anchor="middle">6</text>
<text class="t" x="469.4" y="362.8" text-anchor="middle">7</text>
<text class="t" x="494.1" y="362.8" text-anchor="middle">8</text>
<text class="t" x="518.8" y="362.8" text-anchor="middle">9</text>
<text class="l" x="420.6" y="381.3" text-anchor="middle">Operational states</text>
<text class="t" x="317.1" y="287">Channel 3</text>
<text class="t" x="303.3" y="348.4" text-anchor="end">0</text>
<text class="t" x="303.3" y="303.4" text-anchor="end">2</text>
<text class="l" transform="translate(289.3 306) rotate(-90)" text-anchor="middle">AAPE</text>
<text class="t" x="59.3" y="491.3" text-anchor="middle">1</text>
<text class="t" x="84" y="491.3" text-anchor="middle">2</text>
<text class="t" x="108.7" y="491.3" text-anchor="middle">3</text>
<text class="t" x="133.4" y="491.3" text-anchor="middle">4</text>
<text class="t" x="158.1" y="491.3" text-anchor="middle">5</text>
<text class="t" x="182.7" y="491.3" text-anchor="middle">6</text>
<text class="t" x="207.4" y="491.3" text-anchor="middle">7</text>
<text class="t" x="232.1" y="491.3" text-anchor="middle">8</text>
<text class="t" x="256.8" y="491.3" text-anchor="middle">9</text>
<text class="l" x="158.6" y="509.8" text-anchor="middle">Operational states</text>
<text class="t" x="55.1" y="415.5">Channel 4</text>
<text class="t" x="41.3" y="476.9" text-anchor="end">0</text>
<text class="t" x="41.3" y="451.9" text-anchor="end">0.1</text>
<text class="t" x="41.3" y="426.9" text-anchor="end">0.2</text>
<text class="l" transform="translate(17.6 434.9) rotate(-90)" text-anchor="middle">KLd</text>
<text class="t" x="321.3" y="491.3" text-anchor="middle">1</text>
<text class="t" x="346" y="491.3" text-anchor="middle">2</text>
<text class="t" x="370.7" y="491.3" text-anchor="middle">3</text>
<text class="t" x="395.4" y="491.3" text-anchor="middle">4</text>
<text class="t" x="420.1" y="491.3" text-anchor="middle">5</text>
<text class="t" x="444.7" y="491.3" text-anchor="middle">6</text>
<text class="t" x="469.4" y="491.3" text-anchor="middle">7</text>
<text class="t" x="494.1" y="491.3" text-anchor="middle">8</text>
<text class="t" x="518.8" y="491.3" text-anchor="middle">9</text>
<text class="l" x="420.6" y="509.8" text-anchor="middle">Operational states</text>
<text class="t" x="317.1" y="415.5">Channel 4</text>
<text class="t" x="303.3" y="476.9" text-anchor="end">0</text>
<text class="t" x="303.3" y="431.9" text-anchor="end">2</text>
<text class="l" transform="translate(289.3 434.9) rotate(-90)" text-anchor="middle">AAPE</text>
<text class="t" x="59.3" y="621.3" text-anchor="middle">1</text>
<text class="t" x="84" y="621.3" text-anchor="middle">2</text>
<text class="t" x="108.7" y="621.3" text-anchor="middle">3</text>
<text class="t" x="133.4" y="621.3" text-anchor="middle">4</text>
<text class="t" x="158.1" y="621.3" text-anchor="middle">5</text>
<text class="t" x="182.7" y="621.3" text-anchor="middle">6</text>
<text class="t" x="207.4" y="621.3" text-anchor="middle">7</text>
<text class="t" x="232.1" y="621.3" text-anchor="middle">8</text>
<text class="t" x="256.8" y="621.3" text-anchor="middle">9</text>
<text class="l" x="158.6" y="639.8" text-anchor="middle">Operational states</text>
<text class="t" x="55.1" y="545.5">Channel 5</text>
<text class="t" x="41.3" y="606.9" text-anchor="end">0</text>
<text class="t" x="41.3" y="581.9" text-anchor="end">0.1</text>
<text class="t" x="41.3" y="556.9" text-anchor="end">0.2</text>
<text class="l" transform="translate(17.6 564.2) rotate(-90)" text-anchor="middle">KLd</text>
<text class="t" x="321.3" y="621.3" text-anchor="middle">1</text>
<text class="t" x="346" y="621.3" text-anchor="middle">2</text>
<text class="t" x="370.7" y="621.3" text-anchor="middle">3</text>
<text class="t" x="395.4" y="621.3" text-anchor="middle">4</text>
<text class="t" x="420.1" y="621.3" text-anchor="middle">5</text>
<text class="t" x="444.7" y="621.3" text-anchor="middle">6</text>
<text class="t" x="469.4" y="621.3" text-anchor="middle">7</text>
<text class="t" x="494.1" y="621.3" text-anchor="middle">8</text>
<text class="t" x="518.8" y="621.3" text-anchor="middle">9</text>
<text class="l" x="420.6" y="639.8" text-anchor="middle">Operational states</text>
<text class="t" x="317.1" y="545.5">Channel 5</text>
<text class="t" x="303.3" y="606.9" text-anchor="end">0</text>
<text class="t" x="303.3" y="561.9" text-anchor="end">2</text>
<text class="l" transform="translate(289.3 564.2) rotate(-90)" text-anchor="middle">AAPE</text>
<text class="t" x="59.3" y="749.3" text-anchor="middle">1</text>
<text class="t" x="84" y="749.3" text-anchor="middle">2</text>
<text class="t" x="108.7" y="749.3" text-anchor="middle">3</text>
<text class="t" x="133.4" y="749.3" text-anchor="middle">4</text>
<text class="t" x="158.1" y="749.3" text-anchor="middle">5</text>
<text class="t" x="182.7" y="749.3" text-anchor="middle">6</text>
<text class="t" x="207.4" y="749.3" text-anchor="middle">7</text>
<text class="t" x="232.1" y="749.3" text-anchor="middle">8</text>
<text class="t" x="256.8" y="749.3" text-anchor="middle">9</text>
<text class="l" x="158.6" y="767.8" text-anchor="middle">Operational states</text>
<text class="t" x="55.1" y="673.5">Channel 6</text>
<text class="t" x="41.3" y="734.9" text-anchor="end">0</text>
<text class="t" x="41.3" y="709.9" text-anchor="end">0.1</text>
<text class="t" x="41.3" y="684.9" text-anchor="end">0.2</text>
<text class="l" transform="translate(17.6 692.8) rotate(-90)" text-anchor="middle">KLd</text>
<text class="t" x="321.3" y="749.3" text-anchor="middle">1</text>
<text class="t" x="346" y="749.3" text-anchor="middle">2</text>
<text class="t" x="370.7" y="749.3" text-anchor="middle">3</text>
<text class="t" x="395.4" y="749.3" text-anchor="middle">4</text>
<text class="t" x="420.1" y="749.3" text-anchor="middle">5</text>
<text class="t" x="444.7" y="749.3" text-anchor="middle">6</text>
<text class="t" x="469.4" y="749.3" text-anchor="middle">7</text>
<text class="t" x="494.1" y="749.3" text-anchor="middle">8</text>
<text class="t" x="518.8" y="749.3" text-anchor="middle">9</text>
<text class="l" x="420.6" y="767.8" text-anchor="middle">Operational states</text>
<text class="t" x="317.1" y="673.5">Channel 6</text>
<text class="t" x="303.3" y="734.9" text-anchor="end">0</text>
<text class="t" x="303.3" y="689.9" text-anchor="end">2</text>
<text class="l" transform="translate(289.3 692.8) rotate(-90)" text-anchor="middle">AAPE</text></g>
</svg>
</body>
</html>
